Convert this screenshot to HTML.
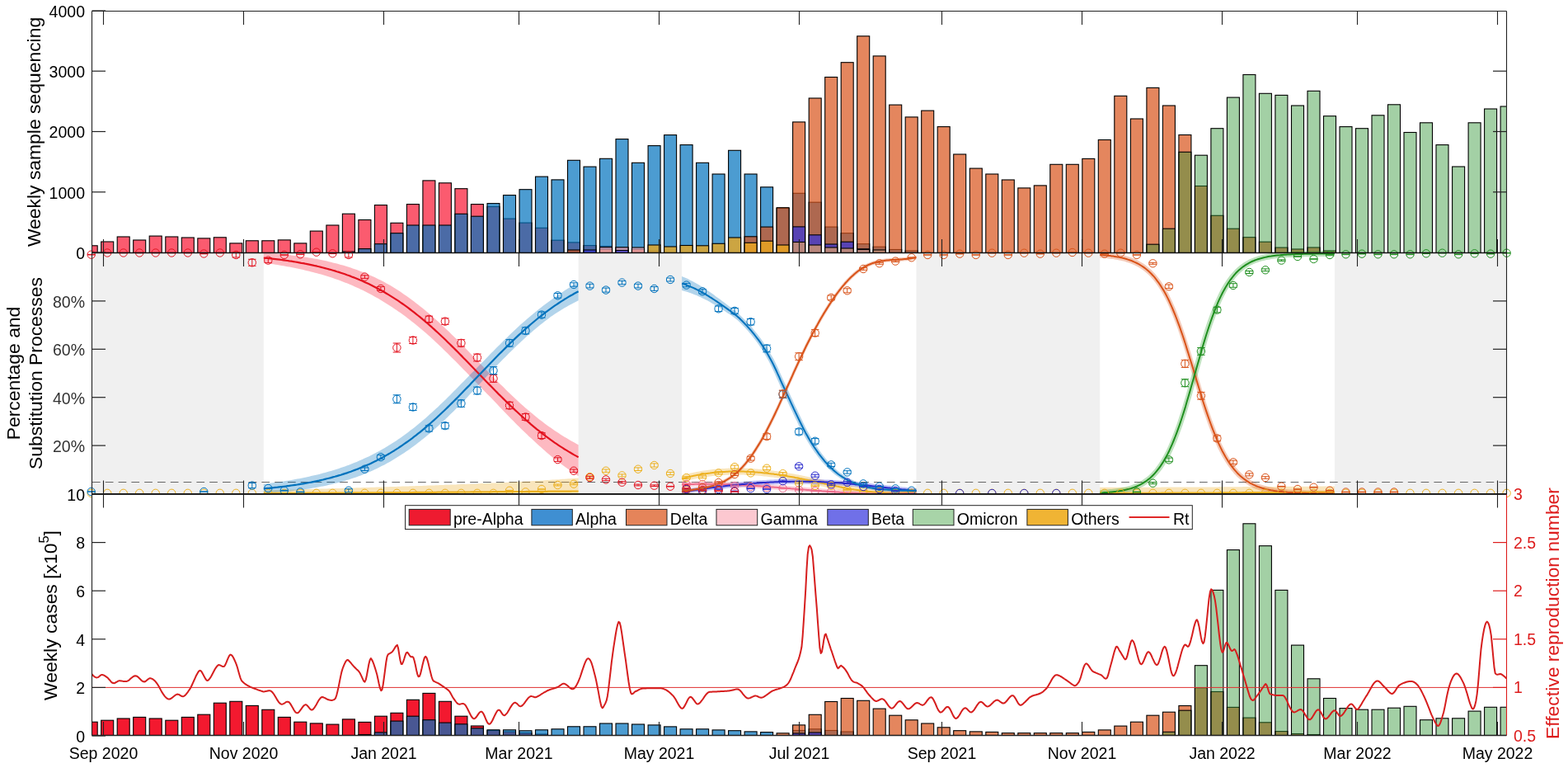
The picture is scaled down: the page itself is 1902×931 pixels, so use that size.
<!DOCTYPE html>
<html><head><meta charset="utf-8"><title>Variants</title><style>html,body{margin:0;padding:0;background:#fff;overflow:hidden}svg{display:block}</style></head><body><svg width="1902" height="931" viewBox="0 0 1902 931"><defs><clipPath id="ct"><rect x="111.5" y="13.5" width="1716" height="293"/></clipPath><clipPath id="cb"><rect x="111.5" y="599" width="1716" height="292.5"/></clipPath><clipPath id="cm"><rect x="111.5" y="306.5" width="1716" height="292"/></clipPath></defs><rect width="1902" height="931" fill="#fff"/><g clip-path="url(#ct)"><g fill="rgb(250,22,50)" fill-opacity="0.7" stroke="#000" stroke-width="1.1"><rect x="103.2" y="297.8" width="15" height="8.7"/><rect x="122.7" y="293" width="15" height="13.5"/><rect x="142.2" y="287" width="15" height="19.5"/><rect x="161.7" y="291" width="15" height="15.5"/><rect x="181.2" y="286.1" width="15" height="20.4"/><rect x="200.8" y="287" width="15" height="19.5"/><rect x="220.3" y="288" width="15" height="18.5"/><rect x="239.8" y="288.9" width="15" height="17.6"/><rect x="259.3" y="287.8" width="15" height="18.7"/><rect x="278.8" y="294.9" width="15" height="11.6"/><rect x="298.3" y="291.8" width="15" height="14.7"/><rect x="317.8" y="291.8" width="15" height="14.7"/><rect x="337.3" y="290.9" width="15" height="15.6"/><rect x="356.8" y="294.9" width="15" height="11.6"/><rect x="376.3" y="280.1" width="15" height="26.4"/><rect x="395.9" y="273" width="15" height="33.5"/><rect x="415.4" y="259.2" width="15" height="47.3"/><rect x="434.9" y="266.5" width="15" height="40"/><rect x="454.4" y="248.6" width="15" height="57.9"/><rect x="473.9" y="270.3" width="15" height="36.2"/><rect x="493.4" y="247.6" width="15" height="58.9"/><rect x="512.9" y="218.9" width="15" height="87.6"/><rect x="532.4" y="221.8" width="15" height="84.7"/><rect x="551.9" y="228.7" width="15" height="77.8"/><rect x="571.4" y="247.6" width="15" height="58.9"/><rect x="591" y="250.5" width="15" height="56"/><rect x="610.5" y="265.1" width="15" height="41.4"/><rect x="630" y="270.1" width="15" height="36.4"/><rect x="649.5" y="276.3" width="15" height="30.2"/><rect x="669" y="291.2" width="15" height="15.3"/><rect x="688.5" y="293.9" width="15" height="12.6"/><rect x="708" y="297.6" width="15" height="8.9"/><rect x="727.5" y="298.5" width="15" height="8"/><rect x="747" y="300" width="15" height="6.5"/><rect x="766.5" y="302" width="15" height="4.5"/><rect x="786.1" y="304" width="15" height="2.5"/></g><g fill="rgb(0,114,189)" fill-opacity="0.7" stroke="#000" stroke-width="1.1"><rect x="415.4" y="305" width="15" height="1.5"/><rect x="434.9" y="301.6" width="15" height="4.9"/><rect x="454.4" y="295.7" width="15" height="10.8"/><rect x="473.9" y="282.7" width="15" height="23.8"/><rect x="493.4" y="273" width="15" height="33.5"/><rect x="512.9" y="273" width="15" height="33.5"/><rect x="532.4" y="273" width="15" height="33.5"/><rect x="551.9" y="259.3" width="15" height="47.2"/><rect x="571.4" y="262.2" width="15" height="44.3"/><rect x="591" y="246.6" width="15" height="59.9"/><rect x="610.5" y="236.6" width="15" height="69.9"/><rect x="630" y="229.7" width="15" height="76.8"/><rect x="649.5" y="214.1" width="15" height="92.4"/><rect x="669" y="217.9" width="15" height="88.6"/><rect x="688.5" y="194.3" width="15" height="112.2"/><rect x="708" y="202.1" width="15" height="104.4"/><rect x="727.5" y="192.3" width="15" height="114.2"/><rect x="747" y="168.6" width="15" height="137.9"/><rect x="766.5" y="197.3" width="15" height="109.2"/><rect x="786.1" y="176.6" width="15" height="129.9"/><rect x="805.6" y="163.6" width="15" height="142.9"/><rect x="825.1" y="175.6" width="15" height="130.9"/><rect x="844.6" y="197.3" width="15" height="109.2"/><rect x="864.1" y="211" width="15" height="95.5"/><rect x="883.6" y="182.3" width="15" height="124.2"/><rect x="903.1" y="211" width="15" height="95.5"/><rect x="922.6" y="226.8" width="15" height="79.7"/><rect x="942.1" y="252.5" width="15" height="54"/><rect x="961.6" y="234.3" width="15" height="72.2"/><rect x="981.2" y="245.2" width="15" height="61.3"/><rect x="1000.7" y="275.1" width="15" height="31.4"/><rect x="1020.2" y="282.7" width="15" height="23.8"/><rect x="1039.7" y="295.7" width="15" height="10.8"/><rect x="1059.2" y="299.2" width="15" height="7.3"/><rect x="1078.7" y="302.5" width="15" height="4"/><rect x="1098.2" y="304" width="15" height="2.5"/></g><g fill="rgb(217,83,25)" fill-opacity="0.7" stroke="#000" stroke-width="1.1"><rect x="688.5" y="303" width="15" height="3.5"/><rect x="727.5" y="302.5" width="15" height="4"/><rect x="766.5" y="302.5" width="15" height="4"/><rect x="903.1" y="286.8" width="15" height="19.7"/><rect x="922.6" y="275.1" width="15" height="31.4"/><rect x="942.1" y="251.7" width="15" height="54.8"/><rect x="961.6" y="147.9" width="15" height="158.6"/><rect x="981.2" y="119" width="15" height="187.5"/><rect x="1000.7" y="93.5" width="15" height="213"/><rect x="1020.2" y="75.7" width="15" height="230.8"/><rect x="1039.7" y="43.8" width="15" height="262.7"/><rect x="1059.2" y="67.9" width="15" height="238.6"/><rect x="1078.7" y="127.1" width="15" height="179.4"/><rect x="1098.2" y="141.9" width="15" height="164.6"/><rect x="1117.7" y="134.1" width="15" height="172.4"/><rect x="1137.2" y="153.6" width="15" height="152.9"/><rect x="1156.7" y="187" width="15" height="119.5"/><rect x="1176.3" y="204.1" width="15" height="102.4"/><rect x="1195.8" y="211" width="15" height="95.5"/><rect x="1215.3" y="218" width="15" height="88.5"/><rect x="1234.8" y="227.9" width="15" height="78.6"/><rect x="1254.3" y="224.9" width="15" height="81.6"/><rect x="1273.8" y="199.3" width="15" height="107.2"/><rect x="1293.3" y="199.3" width="15" height="107.2"/><rect x="1312.8" y="192.4" width="15" height="114.1"/><rect x="1332.3" y="169.5" width="15" height="137"/><rect x="1351.8" y="116.3" width="15" height="190.2"/><rect x="1371.4" y="144" width="15" height="162.5"/><rect x="1390.9" y="106.4" width="15" height="200.1"/><rect x="1410.4" y="128" width="15" height="178.5"/><rect x="1429.9" y="163.5" width="15" height="143"/><rect x="1449.4" y="225.5" width="15" height="81"/><rect x="1468.9" y="261.3" width="15" height="45.2"/><rect x="1488.4" y="277.2" width="15" height="29.3"/><rect x="1507.9" y="287.7" width="15" height="18.8"/><rect x="1527.4" y="293.2" width="15" height="13.3"/><rect x="1546.9" y="300.1" width="15" height="6.4"/><rect x="1566.5" y="302" width="15" height="4.5"/><rect x="1586" y="300" width="15" height="6.5"/><rect x="1605.5" y="304" width="15" height="2.5"/></g><g fill="rgb(251,177,188)" fill-opacity="0.7" stroke="#000" stroke-width="1.1"><rect x="727.5" y="299.8" width="15" height="6.7"/><rect x="747" y="299.8" width="15" height="6.7"/><rect x="766.5" y="300" width="15" height="6.5"/></g><g fill="rgb(51,51,222)" fill-opacity="0.7" stroke="#000" stroke-width="1.1"><rect x="708" y="303" width="15" height="3.5"/><rect x="747" y="303.5" width="15" height="3"/><rect x="961.6" y="274.9" width="15" height="31.6"/><rect x="981.2" y="284.8" width="15" height="21.7"/><rect x="1000.7" y="296" width="15" height="10.5"/><rect x="1020.2" y="293.2" width="15" height="13.3"/><rect x="1039.7" y="301.8" width="15" height="4.7"/></g><g fill="rgb(50,150,55)" fill-opacity="0.45" stroke="#000" stroke-width="1.1"><rect x="1390.9" y="296.2" width="15" height="10.3"/><rect x="1410.4" y="277.2" width="15" height="29.3"/><rect x="1429.9" y="184.3" width="15" height="122.2"/><rect x="1449.4" y="188.2" width="15" height="118.3"/><rect x="1468.9" y="155.7" width="15" height="150.8"/><rect x="1488.4" y="118.1" width="15" height="188.4"/><rect x="1507.9" y="90.5" width="15" height="216"/><rect x="1527.4" y="113.3" width="15" height="193.2"/><rect x="1546.9" y="115.4" width="15" height="191.1"/><rect x="1566.5" y="128" width="15" height="178.5"/><rect x="1586" y="110.3" width="15" height="196.2"/><rect x="1605.5" y="140.7" width="15" height="165.8"/><rect x="1625" y="153.6" width="15" height="152.9"/><rect x="1644.5" y="155.7" width="15" height="150.8"/><rect x="1664" y="139.8" width="15" height="166.7"/><rect x="1683.5" y="126.8" width="15" height="179.7"/><rect x="1703" y="160.5" width="15" height="146"/><rect x="1722.5" y="148.8" width="15" height="157.7"/><rect x="1742" y="175.6" width="15" height="130.9"/><rect x="1761.6" y="202" width="15" height="104.5"/><rect x="1781.1" y="148.8" width="15" height="157.7"/><rect x="1800.6" y="132" width="15" height="174.5"/><rect x="1820.1" y="129" width="15" height="177.5"/></g><g fill="rgb(236,168,30)" fill-opacity="0.8" stroke="#000" stroke-width="1.1"><rect x="786.1" y="297" width="15" height="9.5"/><rect x="805.6" y="299" width="15" height="7.5"/><rect x="825.1" y="297.5" width="15" height="9"/><rect x="844.6" y="297.8" width="15" height="8.7"/><rect x="864.1" y="295.3" width="15" height="11.2"/><rect x="883.6" y="288" width="15" height="18.5"/><rect x="903.1" y="294.3" width="15" height="12.2"/><rect x="922.6" y="292.2" width="15" height="14.3"/><rect x="942.1" y="297" width="15" height="9.5"/></g><g fill="rgb(196,142,118)" fill-opacity="0.9" stroke="#000" stroke-width="1.1"><rect x="961.6" y="293.5" width="15" height="13"/><rect x="981.2" y="297" width="15" height="9.5"/><rect x="1000.7" y="300" width="15" height="6.5"/><rect x="1020.2" y="301" width="15" height="5.5"/><rect x="1039.7" y="302.5" width="15" height="4"/><rect x="1059.2" y="303" width="15" height="3.5"/></g></g><rect x="111.5" y="306.5" width="208.3" height="292" fill="#f0f0f0"/><rect x="701.6" y="306.5" width="125.5" height="292" fill="#f0f0f0"/><rect x="1111.5" y="306.5" width="222.7" height="292" fill="#f0f0f0"/><rect x="1618.9" y="306.5" width="208.6" height="292" fill="#f0f0f0"/><line x1="112" y1="584.5" x2="1827.5" y2="584.5" stroke="#666" stroke-width="1" stroke-dasharray="9.7 6.1"/><path d="M319.8 594.5 L322.2 594.4 L324.6 594.4 L327 594.3 L329.4 594.2 L331.8 594.2 L334.2 594.1 L336.6 594.1 L339 594 L341.4 593.9 L343.8 593.9 L346.2 593.8 L348.6 593.7 L351 593.7 L353.4 593.6 L355.8 593.5 L358.2 593.5 L360.6 593.4 L363 593.3 L365.4 593.3 L367.8 593.2 L370.2 593.1 L372.6 593.1 L375 593 L377.4 592.9 L379.8 592.9 L382.2 592.8 L384.6 592.7 L387 592.7 L389.4 592.6 L391.8 592.5 L394.2 592.5 L396.6 592.4 L399 592.3 L401.4 592.3 L403.8 592.2 L406.2 592.1 L408.6 592.1 L411 592 L413.4 591.9 L415.9 591.8 L418.3 591.8 L420.7 591.7 L423.1 591.6 L425.5 591.6 L427.9 591.5 L430.3 591.4 L432.7 591.3 L435.1 591.3 L437.5 591.2 L439.9 591.1 L442.3 591.1 L444.7 591 L447.1 590.9 L449.5 590.8 L451.9 590.8 L454.3 590.7 L456.7 590.6 L459.1 590.5 L461.5 590.5 L463.9 590.4 L466.3 590.3 L468.7 590.2 L471.1 590.2 L473.5 590.1 L475.9 590 L478.3 589.9 L480.7 589.9 L483.1 589.8 L485.5 589.7 L487.9 589.6 L490.3 589.6 L492.7 589.5 L495.1 589.4 L497.5 589.3 L499.9 589.2 L502.3 589.2 L504.7 589.1 L507.1 589 L509.5 588.9 L511.9 588.9 L514.3 588.8 L516.7 588.7 L519.1 588.6 L521.5 588.5 L523.9 588.4 L526.3 588.4 L528.7 588.3 L531.1 588.2 L533.5 588.1 L535.9 588 L538.3 587.9 L540.7 587.8 L543.1 587.8 L545.5 587.7 L547.9 587.6 L550.3 587.5 L552.7 587.4 L555.1 587.3 L557.5 587.2 L559.9 587.1 L562.3 587 L564.7 586.9 L567.1 586.8 L569.5 586.7 L571.9 586.6 L574.3 586.5 L576.7 586.4 L579.1 586.3 L581.5 586.2 L583.9 586.1 L586.3 586 L588.7 585.9 L591.1 585.8 L593.5 585.7 L595.9 585.6 L598.3 585.5 L600.7 585.4 L603.1 585.3 L605.5 585.2 L608 585.1 L610.4 585 L612.8 584.9 L615.2 584.7 L617.6 584.6 L620 584.5 L622.4 584.4 L624.8 584.3 L627.2 584.1 L629.6 584 L632 583.9 L634.4 583.8 L636.8 583.6 L639.2 583.5 L641.6 583.4 L644 583.2 L646.4 583.1 L648.8 583 L651.2 582.8 L653.6 582.7 L656 582.5 L658.4 582.4 L660.8 582.2 L663.2 582.1 L665.6 581.9 L668 581.8 L670.4 581.6 L672.8 581.5 L675.2 581.3 L677.6 581.2 L680 581 L682.4 580.8 L684.8 580.7 L687.2 580.5 L689.6 580.3 L692 580.2 L694.4 580 L696.8 579.8 L699.2 579.7 L701.6 579.5 L701.6 611.5 L699.2 611.4 L696.8 611.2 L694.4 611.1 L692 610.9 L689.6 610.8 L687.2 610.7 L684.8 610.5 L682.4 610.4 L680 610.3 L677.6 610.2 L675.2 610 L672.8 609.9 L670.4 609.8 L668 609.7 L665.6 609.6 L663.2 609.4 L660.8 609.3 L658.4 609.2 L656 609.1 L653.6 609 L651.2 608.9 L648.8 608.8 L646.4 608.7 L644 608.6 L641.6 608.5 L639.2 608.4 L636.8 608.3 L634.4 608.2 L632 608.1 L629.6 608 L627.2 607.9 L624.8 607.8 L622.4 607.7 L620 607.6 L617.6 607.6 L615.2 607.5 L612.8 607.4 L610.4 607.3 L608 607.2 L605.5 607.2 L603.1 607.1 L600.7 607 L598.3 607 L595.9 606.9 L593.5 606.8 L591.1 606.7 L588.7 606.7 L586.3 606.6 L583.9 606.5 L581.5 606.5 L579.1 606.4 L576.7 606.4 L574.3 606.3 L571.9 606.2 L569.5 606.2 L567.1 606.1 L564.7 606.1 L562.3 606 L559.9 605.9 L557.5 605.9 L555.1 605.8 L552.7 605.8 L550.3 605.7 L547.9 605.7 L545.5 605.6 L543.1 605.5 L540.7 605.5 L538.3 605.4 L535.9 605.4 L533.5 605.3 L531.1 605.3 L528.7 605.2 L526.3 605.2 L523.9 605.1 L521.5 605.1 L519.1 605 L516.7 605 L514.3 605 L511.9 604.9 L509.5 604.9 L507.1 604.8 L504.7 604.8 L502.3 604.7 L499.9 604.7 L497.5 604.6 L495.1 604.6 L492.7 604.6 L490.3 604.5 L487.9 604.5 L485.5 604.4 L483.1 604.4 L480.7 604.3 L478.3 604.3 L475.9 604.3 L473.5 604.2 L471.1 604.2 L468.7 604.1 L466.3 604.1 L463.9 604 L461.5 604 L459.1 603.9 L456.7 603.9 L454.3 603.9 L451.9 603.8 L449.5 603.8 L447.1 603.7 L444.7 603.7 L442.3 603.6 L439.9 603.6 L437.5 603.5 L435.1 603.5 L432.7 603.5 L430.3 603.4 L427.9 603.4 L425.5 603.3 L423.1 603.3 L420.7 603.2 L418.3 603.2 L415.9 603.2 L413.4 603.1 L411 603.1 L408.6 603 L406.2 603 L403.8 603 L401.4 602.9 L399 602.9 L396.6 602.8 L394.2 602.8 L391.8 602.7 L389.4 602.7 L387 602.7 L384.6 602.6 L382.2 602.6 L379.8 602.5 L377.4 602.5 L375 602.5 L372.6 602.4 L370.2 602.4 L367.8 602.3 L365.4 602.3 L363 602.2 L360.6 602.2 L358.2 602.2 L355.8 602.1 L353.4 602.1 L351 602 L348.6 602 L346.2 602 L343.8 601.9 L341.4 601.9 L339 601.8 L336.6 601.8 L334.2 601.7 L331.8 601.7 L329.4 601.7 L327 601.6 L324.6 601.6 L322.2 601.5 L319.8 601.5 Z" fill="rgb(236,168,30)" fill-opacity="0.3" stroke="none"/><path d="M319.8 306.5 L322.2 306.7 L324.6 306.8 L327 307 L329.4 307.2 L331.8 307.3 L334.2 307.5 L336.6 307.7 L339 307.9 L341.4 308.2 L343.8 308.4 L346.2 308.6 L348.6 308.9 L351 309.1 L353.4 309.4 L355.8 309.7 L358.2 310 L360.6 310.3 L363 310.6 L365.4 310.9 L367.8 311.3 L370.2 311.7 L372.6 312 L375 312.4 L377.4 312.8 L379.8 313.2 L382.2 313.7 L384.6 314.1 L387 314.6 L389.4 315.1 L391.8 315.6 L394.2 316.1 L396.6 316.6 L399 317.2 L401.4 317.8 L403.8 318.4 L406.2 319 L408.6 319.6 L411 320.2 L413.4 320.9 L415.9 321.6 L418.3 322.3 L420.7 323 L423.1 323.8 L425.5 324.6 L427.9 325.4 L430.3 326.2 L432.7 327.1 L435.1 328 L437.5 328.9 L439.9 329.8 L442.3 330.8 L444.7 331.8 L447.1 332.8 L449.5 333.9 L451.9 334.9 L454.3 336.1 L456.7 337.2 L459.1 338.4 L461.5 339.6 L463.9 340.8 L466.3 342.1 L468.7 343.4 L471.1 344.7 L473.5 346 L475.9 347.5 L478.3 349 L480.7 350.5 L483.1 352 L485.5 353.6 L487.9 355.2 L490.3 356.9 L492.7 358.5 L495.1 360.2 L497.5 362 L499.9 363.8 L502.3 365.6 L504.7 367.4 L507.1 369.3 L509.5 371.2 L511.9 373.1 L514.3 375.1 L516.7 377.1 L519.1 379.1 L521.5 381.1 L523.9 383.2 L526.3 385.3 L528.7 387.4 L531.1 389.6 L533.5 391.8 L535.9 394 L538.3 396.2 L540.7 398.5 L543.1 400.7 L545.5 403 L547.9 405.4 L550.3 407.7 L552.7 410.1 L555.1 412.6 L557.5 415 L559.9 417.4 L562.3 419.9 L564.7 422.3 L567.1 424.8 L569.5 427.3 L571.9 429.8 L574.3 432.2 L576.7 434.7 L579.1 437.2 L581.5 439.7 L583.9 442.2 L586.3 444.7 L588.7 447.2 L591.1 449.7 L593.5 452.1 L595.9 454.6 L598.3 457.1 L600.7 459.5 L603.1 461.9 L605.5 464.4 L608 466.8 L610.4 469.1 L612.8 471.5 L615.2 473.9 L617.6 476.2 L620 478.5 L622.4 480.8 L624.8 483.1 L627.2 485.3 L629.6 487.5 L632 489.7 L634.4 491.8 L636.8 493.9 L639.2 496 L641.6 498.1 L644 500.1 L646.4 502.1 L648.8 504.1 L651.2 506 L653.6 507.9 L656 509.8 L658.4 511.6 L660.8 513.4 L663.2 515.2 L665.6 516.9 L668 518.6 L670.4 520.3 L672.8 522 L675.2 523.6 L677.6 525.1 L680 526.7 L682.4 528.2 L684.8 529.7 L687.2 531.1 L689.6 532.6 L692 533.9 L694.4 535.3 L696.8 536.6 L699.2 537.9 L701.6 539.2 L701.6 577.2 L699.2 575.6 L696.8 574 L694.4 572.4 L692 570.7 L689.6 569.1 L687.2 567.3 L684.8 565.6 L682.4 563.8 L680 562 L677.6 560.1 L675.2 558.3 L672.8 556.4 L670.4 554.4 L668 552.4 L665.6 550.4 L663.2 548.4 L660.8 546.3 L658.4 544.2 L656 542.1 L653.6 539.9 L651.2 537.7 L648.8 535.5 L646.4 533.3 L644 531.1 L641.6 528.9 L639.2 526.6 L636.8 524.3 L634.4 522 L632 519.7 L629.6 517.3 L627.2 514.9 L624.8 512.6 L622.4 510.1 L620 507.7 L617.6 505.3 L615.2 502.8 L612.8 500.3 L610.4 497.8 L608 495.2 L605.5 492.7 L603.1 490.1 L600.7 487.5 L598.3 485.1 L595.9 482.6 L593.5 480.1 L591.1 477.7 L588.7 475.2 L586.3 472.7 L583.9 470.2 L581.5 467.7 L579.1 465.2 L576.7 462.7 L574.3 460.2 L571.9 457.8 L569.5 455.3 L567.1 452.8 L564.7 450.3 L562.3 447.9 L559.9 445.4 L557.5 443 L555.1 440.6 L552.7 438.1 L550.3 435.7 L547.9 433.4 L545.5 431 L543.1 428.6 L540.7 426.2 L538.3 423.9 L535.9 421.6 L533.5 419.3 L531.1 417 L528.7 414.7 L526.3 412.5 L523.9 410.3 L521.5 408.1 L519.1 406 L516.7 403.8 L514.3 401.8 L511.9 399.7 L509.5 397.7 L507.1 395.7 L504.7 393.7 L502.3 391.8 L499.9 389.9 L497.5 388 L495.1 386.2 L492.7 384.3 L490.3 382.6 L487.9 380.8 L485.5 379.1 L483.1 377.4 L480.7 375.8 L478.3 374.2 L475.9 372.6 L473.5 371.1 L471.1 369.5 L468.7 368 L466.3 366.4 L463.9 365 L461.5 363.5 L459.1 362.1 L456.7 360.7 L454.3 359.4 L451.9 358 L449.5 356.7 L447.1 355.5 L444.7 354.2 L442.3 353 L439.9 351.8 L437.5 350.7 L435.1 349.5 L432.7 348.4 L430.3 347.4 L427.9 346.3 L425.5 345.3 L423.1 344.3 L420.7 343.3 L418.3 342.4 L415.9 341.4 L413.4 340.5 L411 339.6 L408.6 338.8 L406.2 337.9 L403.8 337.1 L401.4 336.3 L399 335.5 L396.6 334.8 L394.2 334 L391.8 333.3 L389.4 332.6 L387 332 L384.6 331.3 L382.2 330.7 L379.8 330 L377.4 329.4 L375 328.8 L372.6 328.2 L370.2 327.7 L367.8 327.1 L365.4 326.6 L363 326.1 L360.6 325.5 L358.2 325 L355.8 324.6 L353.4 324.1 L351 323.6 L348.6 323.2 L346.2 322.7 L343.8 322.3 L341.4 321.9 L339 321.5 L336.6 321.1 L334.2 320.7 L331.8 320.3 L329.4 319.9 L327 319.6 L324.6 319.2 L322.2 318.9 L319.8 318.5 Z" fill="rgb(250,22,50)" fill-opacity="0.3" stroke="none"/><path d="M319.8 586.8 L322.2 586.5 L324.6 586.2 L327 585.9 L329.4 585.6 L331.8 585.3 L334.2 584.9 L336.6 584.6 L339 584.2 L341.4 583.9 L343.8 583.5 L346.2 583.1 L348.6 582.7 L351 582.3 L353.4 581.9 L355.8 581.5 L358.2 581.1 L360.6 580.6 L363 580.2 L365.4 579.7 L367.8 579.2 L370.2 578.7 L372.6 578.2 L375 577.7 L377.4 577.1 L379.8 576.6 L382.2 576 L384.6 575.4 L387 574.9 L389.4 574.2 L391.8 573.6 L394.2 573 L396.6 572.3 L399 571.6 L401.4 570.9 L403.8 570.2 L406.2 569.5 L408.6 568.7 L411 567.9 L413.4 567.1 L415.9 566.3 L418.3 565.4 L420.7 564.6 L423.1 563.7 L425.5 562.8 L427.9 561.8 L430.3 560.8 L432.7 559.9 L435.1 558.8 L437.5 557.8 L439.9 556.7 L442.3 555.6 L444.7 554.5 L447.1 553.4 L449.5 552.2 L451.9 551 L454.3 549.8 L456.7 548.5 L459.1 547.2 L461.5 545.9 L463.9 544.5 L466.3 543.2 L468.7 541.7 L471.1 540.3 L473.5 538.8 L475.9 537.3 L478.3 535.7 L480.7 534.2 L483.1 532.5 L485.5 530.9 L487.9 529.2 L490.3 527.5 L492.7 525.7 L495.1 524 L497.5 522.1 L499.9 520.3 L502.3 518.4 L504.7 516.5 L507.1 514.5 L509.5 512.5 L511.9 510.5 L514.3 508.5 L516.7 506.4 L519.1 504.3 L521.5 502.1 L523.9 500 L526.3 497.8 L528.7 495.6 L531.1 493.4 L533.5 491.1 L535.9 488.8 L538.3 486.5 L540.7 484.2 L543.1 481.8 L545.5 479.5 L547.9 477.1 L550.3 474.6 L552.7 472.2 L555.1 469.8 L557.5 467.3 L559.9 464.8 L562.3 462.4 L564.7 460 L567.1 457.5 L569.5 455.1 L571.9 452.6 L574.3 450.2 L576.7 447.7 L579.1 445.3 L581.5 442.8 L583.9 440.3 L586.3 437.9 L588.7 435.4 L591.1 433 L593.5 430.5 L595.9 428.1 L598.3 425.7 L600.7 423.3 L603.1 420.8 L605.5 418.4 L608 416 L610.4 413.6 L612.8 411.3 L615.2 408.9 L617.6 406.6 L620 404.3 L622.4 402 L624.8 399.8 L627.2 397.5 L629.6 395.3 L632 393.1 L634.4 391 L636.8 388.9 L639.2 386.8 L641.6 384.7 L644 382.7 L646.4 380.7 L648.8 378.7 L651.2 376.7 L653.6 374.8 L656 373 L658.4 371.1 L660.8 369.3 L663.2 367.5 L665.6 365.8 L668 364.1 L670.4 362.3 L672.8 360.6 L675.2 358.9 L677.6 357.2 L680 355.5 L682.4 353.9 L684.8 352.3 L687.2 350.8 L689.6 349.3 L692 347.8 L694.4 346.4 L696.8 345 L699.2 343.6 L701.6 342.2 L701.6 364.2 L699.2 365.4 L696.8 366.7 L694.4 367.9 L692 369.2 L689.6 370.6 L687.2 371.9 L684.8 373.3 L682.4 374.8 L680 376.2 L677.6 377.7 L675.2 379.3 L672.8 380.8 L670.4 382.5 L668 384.1 L665.6 385.9 L663.2 387.7 L660.8 389.5 L658.4 391.4 L656 393.3 L653.6 395.3 L651.2 397.2 L648.8 399.2 L646.4 401.3 L644 403.4 L641.6 405.5 L639.2 407.6 L636.8 409.8 L634.4 412 L632 414.2 L629.6 416.4 L627.2 418.7 L624.8 421 L622.4 423.4 L620 425.7 L617.6 428.1 L615.2 430.5 L612.8 432.9 L610.4 435.3 L608 437.8 L605.5 440.2 L603.1 442.7 L600.7 445.2 L598.3 447.8 L595.9 450.3 L593.5 452.9 L591.1 455.4 L588.7 458 L586.3 460.6 L583.9 463.2 L581.5 465.7 L579.1 468.3 L576.7 470.9 L574.3 473.5 L571.9 476 L569.5 478.6 L567.1 481.2 L564.7 483.7 L562.3 486.3 L559.9 488.8 L557.5 491.2 L555.1 493.6 L552.7 496 L550.3 498.4 L547.9 500.8 L545.5 503.1 L543.1 505.4 L540.7 507.7 L538.3 510 L535.9 512.2 L533.5 514.5 L531.1 516.7 L528.7 518.8 L526.3 521 L523.9 523.1 L521.5 525.2 L519.1 527.2 L516.7 529.2 L514.3 531.2 L511.9 533.1 L509.5 535 L507.1 536.8 L504.7 538.7 L502.3 540.5 L499.9 542.2 L497.5 544 L495.1 545.7 L492.7 547.3 L490.3 548.9 L487.9 550.5 L485.5 552.1 L483.1 553.6 L480.7 555.1 L478.3 556.6 L475.9 558 L473.5 559.4 L471.1 560.7 L468.7 562.1 L466.3 563.4 L463.9 564.6 L461.5 565.8 L459.1 567 L456.7 568.2 L454.3 569.3 L451.9 570.5 L449.5 571.5 L447.1 572.6 L444.7 573.6 L442.3 574.6 L439.9 575.5 L437.5 576.4 L435.1 577.3 L432.7 578.2 L430.3 579 L427.9 579.8 L425.5 580.6 L423.1 581.4 L420.7 582.1 L418.3 582.9 L415.9 583.6 L413.4 584.2 L411 584.9 L408.6 585.5 L406.2 586.1 L403.8 586.7 L401.4 587.3 L399 587.8 L396.6 588.4 L394.2 588.9 L391.8 589.4 L389.4 589.8 L387 590.3 L384.6 590.7 L382.2 591.2 L379.8 591.6 L377.4 592 L375 592.4 L372.6 592.7 L370.2 593.1 L367.8 593.4 L365.4 593.7 L363 594 L360.6 594.3 L358.2 594.6 L355.8 594.9 L353.4 595.2 L351 595.4 L348.6 595.7 L346.2 595.9 L343.8 596.1 L341.4 596.3 L339 596.5 L336.6 596.7 L334.2 596.9 L331.8 597.1 L329.4 597.2 L327 597.4 L324.6 597.5 L322.2 597.7 L319.8 597.8 Z" fill="rgb(0,114,189)" fill-opacity="0.3" stroke="none"/><path d="M319.8 598 L322.2 598 L324.6 598 L327 598 L329.4 598 L331.8 597.9 L334.2 597.9 L336.6 597.9 L339 597.9 L341.4 597.9 L343.8 597.9 L346.2 597.9 L348.6 597.9 L351 597.9 L353.4 597.8 L355.8 597.8 L358.2 597.8 L360.6 597.8 L363 597.8 L365.4 597.8 L367.8 597.8 L370.2 597.8 L372.6 597.7 L375 597.7 L377.4 597.7 L379.8 597.7 L382.2 597.7 L384.6 597.7 L387 597.7 L389.4 597.7 L391.8 597.6 L394.2 597.6 L396.6 597.6 L399 597.6 L401.4 597.6 L403.8 597.6 L406.2 597.6 L408.6 597.5 L411 597.5 L413.4 597.5 L415.9 597.5 L418.3 597.5 L420.7 597.5 L423.1 597.5 L425.5 597.4 L427.9 597.4 L430.3 597.4 L432.7 597.4 L435.1 597.4 L437.5 597.4 L439.9 597.4 L442.3 597.3 L444.7 597.3 L447.1 597.3 L449.5 597.3 L451.9 597.3 L454.3 597.3 L456.7 597.3 L459.1 597.2 L461.5 597.2 L463.9 597.2 L466.3 597.2 L468.7 597.2 L471.1 597.2 L473.5 597.1 L475.9 597.1 L478.3 597.1 L480.7 597.1 L483.1 597.1 L485.5 597.1 L487.9 597 L490.3 597 L492.7 597 L495.1 597 L497.5 597 L499.9 597 L502.3 596.9 L504.7 596.9 L507.1 596.9 L509.5 596.9 L511.9 596.9 L514.3 596.9 L516.7 596.8 L519.1 596.8 L521.5 596.8 L523.9 596.8 L526.3 596.8 L528.7 596.8 L531.1 596.7 L533.5 596.7 L535.9 596.7 L538.3 596.7 L540.7 596.7 L543.1 596.7 L545.5 596.6 L547.9 596.6 L550.3 596.6 L552.7 596.6 L555.1 596.6 L557.5 596.5 L559.9 596.5 L562.3 596.5 L564.7 596.5 L567.1 596.5 L569.5 596.5 L571.9 596.4 L574.3 596.4 L576.7 596.4 L579.1 596.4 L581.5 596.4 L583.9 596.3 L586.3 596.3 L588.7 596.3 L591.1 596.3 L593.5 596.3 L595.9 596.3 L598.3 596.2 L600.7 596.2 L603.1 596.2 L605.5 596.2 L608 596.2 L610.4 596.1 L612.8 596.1 L615.2 596.1 L617.6 596.1 L620 596.1 L622.4 596.1 L624.8 596 L627.2 596 L629.6 596 L632 596 L634.4 596 L636.8 596 L639.2 595.9 L641.6 595.9 L644 595.9 L646.4 595.9 L648.8 595.9 L651.2 595.8 L653.6 595.8 L656 595.8 L658.4 595.8 L660.8 595.8 L663.2 595.8 L665.6 595.7 L668 595.7 L670.4 595.7 L672.8 595.7 L675.2 595.7 L677.6 595.7 L680 595.6 L682.4 595.6 L684.8 595.6 L687.2 595.6 L689.6 595.6 L692 595.6 L694.4 595.5 L696.8 595.5 L699.2 595.5 L701.6 595.5" fill="none" stroke="#edb120" stroke-width="2.2" stroke-linejoin="round"/><path d="M319.8 312.5 L322.2 312.8 L324.6 313 L327 313.3 L329.4 313.5 L331.8 313.8 L334.2 314.1 L336.6 314.4 L339 314.7 L341.4 315 L343.8 315.3 L346.2 315.7 L348.6 316 L351 316.4 L353.4 316.7 L355.8 317.1 L358.2 317.5 L360.6 317.9 L363 318.3 L365.4 318.8 L367.8 319.2 L370.2 319.7 L372.6 320.1 L375 320.6 L377.4 321.1 L379.8 321.6 L382.2 322.2 L384.6 322.7 L387 323.3 L389.4 323.9 L391.8 324.5 L394.2 325.1 L396.6 325.7 L399 326.4 L401.4 327 L403.8 327.7 L406.2 328.4 L408.6 329.2 L411 329.9 L413.4 330.7 L415.9 331.5 L418.3 332.3 L420.7 333.2 L423.1 334 L425.5 334.9 L427.9 335.9 L430.3 336.8 L432.7 337.8 L435.1 338.8 L437.5 339.8 L439.9 340.8 L442.3 341.9 L444.7 343 L447.1 344.1 L449.5 345.3 L451.9 346.5 L454.3 347.7 L456.7 349 L459.1 350.2 L461.5 351.5 L463.9 352.9 L466.3 354.3 L468.7 355.7 L471.1 357.1 L473.5 358.6 L475.9 360.1 L478.3 361.6 L480.7 363.1 L483.1 364.7 L485.5 366.4 L487.9 368 L490.3 369.7 L492.7 371.4 L495.1 373.2 L497.5 375 L499.9 376.8 L502.3 378.7 L504.7 380.6 L507.1 382.5 L509.5 384.4 L511.9 386.4 L514.3 388.4 L516.7 390.5 L519.1 392.5 L521.5 394.6 L523.9 396.7 L526.3 398.9 L528.7 401.1 L531.1 403.3 L533.5 405.5 L535.9 407.8 L538.3 410 L540.7 412.3 L543.1 414.7 L545.5 417 L547.9 419.4 L550.3 421.7 L552.7 424.1 L555.1 426.6 L557.5 429 L559.9 431.4 L562.3 433.9 L564.7 436.3 L567.1 438.8 L569.5 441.3 L571.9 443.8 L574.3 446.2 L576.7 448.7 L579.1 451.2 L581.5 453.7 L583.9 456.2 L586.3 458.7 L588.7 461.2 L591.1 463.7 L593.5 466.1 L595.9 468.6 L598.3 471.1 L600.7 473.5 L603.1 475.9 L605.5 478.4 L608 480.8 L610.4 483.1 L612.8 485.5 L615.2 487.9 L617.6 490.2 L620 492.5 L622.4 494.8 L624.8 497.1 L627.2 499.3 L629.6 501.5 L632 503.7 L634.4 505.9 L636.8 508 L639.2 510.2 L641.6 512.2 L644 514.3 L646.4 516.3 L648.8 518.3 L651.2 520.3 L653.6 522.2 L656 524.1 L658.4 526 L660.8 527.8 L663.2 529.6 L665.6 531.4 L668 533.2 L670.4 534.9 L672.8 536.6 L675.2 538.2 L677.6 539.8 L680 541.4 L682.4 542.9 L684.8 544.5 L687.2 545.9 L689.6 547.4 L692 548.8 L694.4 550.2 L696.8 551.6 L699.2 552.9 L701.6 554.2" fill="none" stroke="#e3121f" stroke-width="2.2" stroke-linejoin="round"/><path d="M319.8 592.3 L322.2 592.1 L324.6 591.9 L327 591.7 L329.4 591.4 L331.8 591.2 L334.2 590.9 L336.6 590.7 L339 590.4 L341.4 590.1 L343.8 589.8 L346.2 589.5 L348.6 589.2 L351 588.9 L353.4 588.5 L355.8 588.2 L358.2 587.8 L360.6 587.5 L363 587.1 L365.4 586.7 L367.8 586.3 L370.2 585.9 L372.6 585.5 L375 585 L377.4 584.6 L379.8 584.1 L382.2 583.6 L384.6 583.1 L387 582.6 L389.4 582 L391.8 581.5 L394.2 580.9 L396.6 580.3 L399 579.7 L401.4 579.1 L403.8 578.4 L406.2 577.8 L408.6 577.1 L411 576.4 L413.4 575.7 L415.9 574.9 L418.3 574.1 L420.7 573.4 L423.1 572.5 L425.5 571.7 L427.9 570.8 L430.3 569.9 L432.7 569 L435.1 568.1 L437.5 567.1 L439.9 566.1 L442.3 565.1 L444.7 564 L447.1 563 L449.5 561.9 L451.9 560.7 L454.3 559.6 L456.7 558.4 L459.1 557.1 L461.5 555.9 L463.9 554.6 L466.3 553.3 L468.7 551.9 L471.1 550.5 L473.5 549.1 L475.9 547.6 L478.3 546.2 L480.7 544.6 L483.1 543.1 L485.5 541.5 L487.9 539.9 L490.3 538.2 L492.7 536.5 L495.1 534.8 L497.5 533.1 L499.9 531.3 L502.3 529.4 L504.7 527.6 L507.1 525.7 L509.5 523.8 L511.9 521.8 L514.3 519.8 L516.7 517.8 L519.1 515.7 L521.5 513.7 L523.9 511.5 L526.3 509.4 L528.7 507.2 L531.1 505 L533.5 502.8 L535.9 500.5 L538.3 498.3 L540.7 496 L543.1 493.6 L545.5 491.3 L547.9 488.9 L550.3 486.5 L552.7 484.1 L555.1 481.7 L557.5 479.3 L559.9 476.8 L562.3 474.3 L564.7 471.8 L567.1 469.4 L569.5 466.9 L571.9 464.3 L574.3 461.8 L576.7 459.3 L579.1 456.8 L581.5 454.3 L583.9 451.8 L586.3 449.2 L588.7 446.7 L591.1 444.2 L593.5 441.7 L595.9 439.2 L598.3 436.7 L600.7 434.2 L603.1 431.8 L605.5 429.3 L608 426.9 L610.4 424.5 L612.8 422.1 L615.2 419.7 L617.6 417.3 L620 415 L622.4 412.7 L624.8 410.4 L627.2 408.1 L629.6 405.9 L632 403.7 L634.4 401.5 L636.8 399.3 L639.2 397.2 L641.6 395.1 L644 393 L646.4 391 L648.8 389 L651.2 387 L653.6 385 L656 383.1 L658.4 381.3 L660.8 379.4 L663.2 377.6 L665.6 375.8 L668 374.1 L670.4 372.4 L672.8 370.7 L675.2 369.1 L677.6 367.5 L680 365.9 L682.4 364.4 L684.8 362.8 L687.2 361.4 L689.6 359.9 L692 358.5 L694.4 357.2 L696.8 355.8 L699.2 354.5 L701.6 353.2" fill="none" stroke="#0072bd" stroke-width="2.2" stroke-linejoin="round"/><path d="M827.1 576.4 L828.9 575.9 L830.7 575.4 L832.5 575 L834.3 574.5 L836 574.1 L837.8 573.6 L839.6 573.2 L841.4 572.8 L843.2 572.4 L845 572.1 L846.8 571.7 L848.6 571.4 L850.4 571.1 L852.1 570.8 L853.9 570.5 L855.7 570.2 L857.5 569.9 L859.3 569.7 L861.1 569.5 L862.9 569.2 L864.7 569 L866.5 568.8 L868.2 568.7 L870 568.5 L871.8 568.3 L873.6 568.2 L875.4 568.1 L877.2 568 L879 567.9 L880.8 567.8 L882.5 567.7 L884.3 567.6 L886.1 567.6 L887.9 567.5 L889.7 567.5 L891.5 567.5 L893.3 567.5 L895.1 567.5 L896.9 567.5 L898.6 567.5 L900.4 567.6 L902.2 567.6 L904 567.7 L905.8 567.8 L907.6 567.8 L909.4 567.9 L911.2 568 L913 568.1 L914.7 568.3 L916.5 568.4 L918.3 568.5 L920.1 568.7 L921.9 568.8 L923.7 569 L925.5 569.2 L927.3 569.4 L929.1 569.5 L930.8 569.7 L932.6 570 L934.4 570.2 L936.2 570.4 L938 570.6 L939.8 570.9 L941.6 571.1 L943.4 571.4 L945.2 571.6 L946.9 571.9 L948.7 572.2 L950.5 572.5 L952.3 572.8 L954.1 573.1 L955.9 573.4 L957.7 573.7 L959.5 574 L961.3 574.3 L963 574.6 L964.8 575 L966.6 575.3 L968.4 575.6 L970.2 576 L972 576.3 L973.8 576.7 L975.6 577.1 L977.3 577.4 L979.1 577.8 L980.9 578.2 L982.7 578.6 L984.5 578.9 L986.3 579.3 L988.1 579.7 L989.9 580.1 L991.7 580.5 L993.4 580.9 L995.2 581.3 L997 581.6 L998.8 582 L1000.6 582.4 L1002.4 582.8 L1004.2 583.2 L1006 583.6 L1007.8 584 L1009.5 584.3 L1011.3 584.7 L1013.1 585.1 L1014.9 585.5 L1016.7 585.8 L1018.5 586.2 L1020.3 586.5 L1022.1 586.9 L1023.9 587.2 L1025.6 587.6 L1027.4 587.9 L1029.2 588.2 L1031 588.5 L1032.8 588.9 L1034.6 589.2 L1036.4 589.5 L1038.2 589.7 L1040 590 L1041.7 590.3 L1043.5 590.6 L1045.3 590.8 L1047.1 591.1 L1048.9 591.3 L1050.7 591.5 L1052.5 591.7 L1054.3 591.9 L1056.1 592.1 L1057.8 592.3 L1059.6 592.5 L1061.4 592.6 L1063.2 592.8 L1065 592.9 L1066.8 593 L1068.6 593.2 L1070.4 593.3 L1072.1 593.3 L1073.9 593.4 L1075.7 593.5 L1077.5 593.5 L1079.3 593.6 L1081.1 593.6 L1082.9 593.6 L1084.7 593.6 L1086.5 593.5 L1088.2 593.5 L1090 593.5 L1091.8 593.4 L1093.6 593.3 L1095.4 593.2 L1097.2 593.1 L1099 593 L1100.8 592.8 L1102.6 592.6 L1104.3 592.5 L1106.1 592.3 L1107.9 592.1 L1109.7 591.8 L1111.5 591.6 L1111.5 599.6 L1109.7 599.8 L1107.9 600.1 L1106.1 600.3 L1104.3 600.5 L1102.6 600.6 L1100.8 600.8 L1099 601 L1097.2 601.1 L1095.4 601.2 L1093.6 601.3 L1091.8 601.4 L1090 601.5 L1088.2 601.5 L1086.5 601.5 L1084.7 601.6 L1082.9 601.6 L1081.1 601.6 L1079.3 601.6 L1077.5 601.5 L1075.7 601.5 L1073.9 601.4 L1072.1 601.3 L1070.4 601.3 L1068.6 601.2 L1066.8 601 L1065 600.9 L1063.2 600.8 L1061.4 600.6 L1059.6 600.5 L1057.8 600.3 L1056.1 600.1 L1054.3 599.9 L1052.5 599.7 L1050.7 599.5 L1048.9 599.3 L1047.1 599.1 L1045.3 598.8 L1043.5 598.6 L1041.7 598.3 L1040 598 L1038.2 597.7 L1036.4 597.5 L1034.6 597.2 L1032.8 596.9 L1031 596.5 L1029.2 596.2 L1027.4 595.9 L1025.6 595.6 L1023.9 595.2 L1022.1 594.9 L1020.3 594.5 L1018.5 594.2 L1016.7 593.8 L1014.9 593.5 L1013.1 593.1 L1011.3 592.7 L1009.5 592.3 L1007.8 592 L1006 591.6 L1004.2 591.2 L1002.4 590.8 L1000.6 590.4 L998.8 590 L997 589.6 L995.2 589.3 L993.4 588.9 L991.7 588.5 L989.9 588.1 L988.1 587.7 L986.3 587.3 L984.5 586.9 L982.7 586.6 L980.9 586.2 L979.1 585.8 L977.3 585.4 L975.6 585.1 L973.8 584.7 L972 584.3 L970.2 584 L968.4 583.6 L966.6 583.3 L964.8 583 L963 582.6 L961.3 582.3 L959.5 582 L957.7 581.7 L955.9 581.4 L954.1 581.1 L952.3 580.8 L950.5 580.5 L948.7 580.2 L946.9 579.9 L945.2 579.6 L943.4 579.4 L941.6 579.1 L939.8 578.9 L938 578.6 L936.2 578.4 L934.4 578.2 L932.6 578 L930.8 577.7 L929.1 577.5 L927.3 577.4 L925.5 577.2 L923.7 577 L921.9 576.8 L920.1 576.7 L918.3 576.5 L916.5 576.4 L914.7 576.3 L913 576.1 L911.2 576 L909.4 575.9 L907.6 575.8 L905.8 575.8 L904 575.7 L902.2 575.6 L900.4 575.6 L898.6 575.5 L896.9 575.5 L895.1 575.5 L893.3 575.5 L891.5 575.5 L889.7 575.5 L887.9 575.5 L886.1 575.6 L884.3 575.6 L882.5 575.7 L880.8 575.8 L879 575.9 L877.2 576 L875.4 576.1 L873.6 576.2 L871.8 576.3 L870 576.5 L868.2 576.7 L866.5 576.8 L864.7 577 L862.9 577.2 L861.1 577.5 L859.3 577.7 L857.5 577.9 L855.7 578.2 L853.9 578.5 L852.1 578.8 L850.4 579.1 L848.6 579.4 L846.8 579.7 L845 580.1 L843.2 580.4 L841.4 580.8 L839.6 581.2 L837.8 581.6 L836 582.1 L834.3 582.5 L832.5 583 L830.7 583.4 L828.9 583.9 L827.1 584.4 Z" fill="rgb(236,168,30)" fill-opacity="0.3" stroke="none"/><path d="M827.1 584.4 L828.9 584.3 L830.7 584.2 L832.5 584.2 L834.3 584.1 L836 584 L837.8 584 L839.6 583.9 L841.4 583.9 L843.2 583.8 L845 583.8 L846.8 583.8 L848.6 583.8 L850.4 583.7 L852.1 583.7 L853.9 583.7 L855.7 583.7 L857.5 583.7 L859.3 583.7 L861.1 583.7 L862.9 583.8 L864.7 583.8 L866.5 583.8 L868.2 583.8 L870 583.9 L871.8 583.9 L873.6 583.9 L875.4 584 L877.2 584 L879 584.1 L880.8 584.1 L882.5 584.2 L884.3 584.3 L886.1 584.3 L887.9 584.4 L889.7 584.5 L891.5 584.6 L893.3 584.7 L895.1 584.7 L896.9 584.8 L898.6 584.9 L900.4 585 L902.2 585.1 L904 585.2 L905.8 585.3 L907.6 585.4 L909.4 585.5 L911.2 585.6 L913 585.7 L914.7 585.9 L916.5 586 L918.3 586.1 L920.1 586.2 L921.9 586.3 L923.7 586.5 L925.5 586.6 L927.3 586.7 L929.1 586.9 L930.8 587 L932.6 587.1 L934.4 587.3 L936.2 587.4 L938 587.5 L939.8 587.7 L941.6 587.8 L943.4 588 L945.2 588.1 L946.9 588.2 L948.7 588.4 L950.5 588.5 L952.3 588.7 L954.1 588.8 L955.9 589 L957.7 589.1 L959.5 589.3 L961.3 589.4 L963 589.6 L964.8 589.7 L966.6 589.8 L968.4 590 L970.2 590.1 L972 590.3 L973.8 590.4 L975.6 590.6 L977.3 590.7 L979.1 590.9 L980.9 591 L982.7 591.2 L984.5 591.3 L986.3 591.4 L988.1 591.6 L989.9 591.7 L991.7 591.9 L993.4 592 L995.2 592.1 L997 592.3 L998.8 592.4 L1000.6 592.5 L1002.4 592.7 L1004.2 592.8 L1006 592.9 L1007.8 593 L1009.5 593.2 L1011.3 593.3 L1013.1 593.4 L1014.9 593.5 L1016.7 593.6 L1018.5 593.8 L1020.3 593.9 L1022.1 594 L1023.9 594.1 L1025.6 594.2 L1027.4 594.3 L1029.2 594.4 L1031 594.5 L1032.8 594.6 L1034.6 594.7 L1036.4 594.7 L1038.2 594.8 L1040 594.9 L1041.7 595 L1043.5 595 L1045.3 595.1 L1047.1 595.2 L1048.9 595.2 L1050.7 595.3 L1052.5 595.3 L1054.3 595.4 L1056.1 595.4 L1057.8 595.5 L1059.6 595.5 L1061.4 595.6 L1063.2 595.6 L1065 595.6 L1066.8 595.6 L1068.6 595.6 L1070.4 595.7 L1072.1 595.7 L1073.9 595.7 L1075.7 595.7 L1077.5 595.6 L1079.3 595.6 L1081.1 595.6 L1082.9 595.6 L1084.7 595.6 L1086.5 595.5 L1088.2 595.5 L1090 595.4 L1091.8 595.4 L1093.6 595.3 L1095.4 595.3 L1097.2 595.2 L1099 595.1 L1100.8 595.1 L1102.6 595 L1104.3 594.9 L1106.1 594.8 L1107.9 594.7 L1109.7 594.6 L1111.5 594.4 L1111.5 600.4 L1109.7 600.6 L1107.9 600.7 L1106.1 600.8 L1104.3 600.9 L1102.6 601 L1100.8 601.1 L1099 601.1 L1097.2 601.2 L1095.4 601.3 L1093.6 601.3 L1091.8 601.4 L1090 601.4 L1088.2 601.5 L1086.5 601.5 L1084.7 601.6 L1082.9 601.6 L1081.1 601.6 L1079.3 601.6 L1077.5 601.6 L1075.7 601.7 L1073.9 601.7 L1072.1 601.7 L1070.4 601.7 L1068.6 601.6 L1066.8 601.6 L1065 601.6 L1063.2 601.6 L1061.4 601.6 L1059.6 601.5 L1057.8 601.5 L1056.1 601.4 L1054.3 601.4 L1052.5 601.3 L1050.7 601.3 L1048.9 601.2 L1047.1 601.2 L1045.3 601.1 L1043.5 601 L1041.7 601 L1040 600.9 L1038.2 600.8 L1036.4 600.7 L1034.6 600.7 L1032.8 600.6 L1031 600.5 L1029.2 600.4 L1027.4 600.3 L1025.6 600.2 L1023.9 600.1 L1022.1 600 L1020.3 599.9 L1018.5 599.8 L1016.7 599.6 L1014.9 599.5 L1013.1 599.4 L1011.3 599.3 L1009.5 599.2 L1007.8 599 L1006 598.9 L1004.2 598.8 L1002.4 598.7 L1000.6 598.5 L998.8 598.4 L997 598.3 L995.2 598.1 L993.4 598 L991.7 597.9 L989.9 597.7 L988.1 597.6 L986.3 597.4 L984.5 597.3 L982.7 597.2 L980.9 597 L979.1 596.9 L977.3 596.7 L975.6 596.6 L973.8 596.4 L972 596.3 L970.2 596.1 L968.4 596 L966.6 595.8 L964.8 595.7 L963 595.6 L961.3 595.4 L959.5 595.3 L957.7 595.1 L955.9 595 L954.1 594.8 L952.3 594.7 L950.5 594.5 L948.7 594.4 L946.9 594.2 L945.2 594.1 L943.4 594 L941.6 593.8 L939.8 593.7 L938 593.5 L936.2 593.4 L934.4 593.3 L932.6 593.1 L930.8 593 L929.1 592.9 L927.3 592.7 L925.5 592.6 L923.7 592.5 L921.9 592.3 L920.1 592.2 L918.3 592.1 L916.5 592 L914.7 591.9 L913 591.7 L911.2 591.6 L909.4 591.5 L907.6 591.4 L905.8 591.3 L904 591.2 L902.2 591.1 L900.4 591 L898.6 590.9 L896.9 590.8 L895.1 590.7 L893.3 590.7 L891.5 590.6 L889.7 590.5 L887.9 590.4 L886.1 590.3 L884.3 590.3 L882.5 590.2 L880.8 590.1 L879 590.1 L877.2 590 L875.4 590 L873.6 589.9 L871.8 589.9 L870 589.9 L868.2 589.8 L866.5 589.8 L864.7 589.8 L862.9 589.8 L861.1 589.7 L859.3 589.7 L857.5 589.7 L855.7 589.7 L853.9 589.7 L852.1 589.7 L850.4 589.7 L848.6 589.8 L846.8 589.8 L845 589.8 L843.2 589.8 L841.4 589.9 L839.6 589.9 L837.8 590 L836 590 L834.3 590.1 L832.5 590.2 L830.7 590.2 L828.9 590.3 L827.1 590.4 Z" fill="rgb(240,108,140)" fill-opacity="0.3" stroke="none"/><path d="M827.1 593.4 L828.9 593.1 L830.7 592.8 L832.5 592.5 L834.3 592.3 L836 592 L837.8 591.7 L839.6 591.4 L841.4 591.2 L843.2 590.9 L845 590.7 L846.8 590.4 L848.6 590.1 L850.4 589.9 L852.1 589.6 L853.9 589.4 L855.7 589.1 L857.5 588.9 L859.3 588.7 L861.1 588.4 L862.9 588.2 L864.7 588 L866.5 587.7 L868.2 587.5 L870 587.3 L871.8 587.1 L873.6 586.9 L875.4 586.6 L877.2 586.4 L879 586.2 L880.8 586 L882.5 585.8 L884.3 585.6 L886.1 585.4 L887.9 585.3 L889.7 585.1 L891.5 584.9 L893.3 584.7 L895.1 584.5 L896.9 584.4 L898.6 584.2 L900.4 584 L902.2 583.9 L904 583.7 L905.8 583.6 L907.6 583.4 L909.4 583.3 L911.2 583.1 L913 583 L914.7 582.8 L916.5 582.7 L918.3 582.6 L920.1 582.5 L921.9 582.3 L923.7 582.2 L925.5 582.1 L927.3 582 L929.1 581.9 L930.8 581.8 L932.6 581.7 L934.4 581.6 L936.2 581.5 L938 581.4 L939.8 581.3 L941.6 581.3 L943.4 581.2 L945.2 581.1 L946.9 581.1 L948.7 581 L950.5 581 L952.3 580.9 L954.1 580.9 L955.9 580.8 L957.7 580.8 L959.5 580.8 L961.3 580.7 L963 580.7 L964.8 580.7 L966.6 580.7 L968.4 580.7 L970.2 580.7 L972 580.7 L973.8 580.7 L975.6 580.7 L977.3 580.7 L979.1 580.7 L980.9 580.7 L982.7 580.8 L984.5 580.8 L986.3 580.9 L988.1 580.9 L989.9 580.9 L991.7 581 L993.4 581.1 L995.2 581.1 L997 581.2 L998.8 581.3 L1000.6 581.4 L1002.4 581.4 L1004.2 581.5 L1006 581.6 L1007.8 581.7 L1009.5 581.8 L1011.3 582 L1013.1 582.1 L1014.9 582.2 L1016.7 582.3 L1018.5 582.5 L1020.3 582.6 L1022.1 582.7 L1023.9 582.9 L1025.6 583 L1027.4 583.2 L1029.2 583.3 L1031 583.5 L1032.8 583.7 L1034.6 583.8 L1036.4 584 L1038.2 584.2 L1040 584.3 L1041.7 584.5 L1043.5 584.7 L1045.3 584.9 L1047.1 585.1 L1048.9 585.3 L1050.7 585.5 L1052.5 585.6 L1054.3 585.8 L1056.1 586 L1057.8 586.2 L1059.6 586.4 L1061.4 586.6 L1063.2 586.8 L1065 587 L1066.8 587.2 L1068.6 587.4 L1070.4 587.6 L1072.1 587.8 L1073.9 588 L1075.7 588.2 L1077.5 588.4 L1079.3 588.6 L1081.1 588.9 L1082.9 589.1 L1084.7 589.3 L1086.5 589.5 L1088.2 589.7 L1090 589.9 L1091.8 590.1 L1093.6 590.3 L1095.4 590.4 L1097.2 590.6 L1099 590.8 L1100.8 591 L1102.6 591.2 L1104.3 591.4 L1106.1 591.6 L1107.9 591.8 L1109.7 591.9 L1111.5 592.1 L1111.5 598.1 L1109.7 597.9 L1107.9 597.8 L1106.1 597.6 L1104.3 597.4 L1102.6 597.2 L1100.8 597 L1099 596.8 L1097.2 596.6 L1095.4 596.4 L1093.6 596.3 L1091.8 596.1 L1090 595.9 L1088.2 595.7 L1086.5 595.5 L1084.7 595.3 L1082.9 595.1 L1081.1 594.9 L1079.3 594.6 L1077.5 594.4 L1075.7 594.2 L1073.9 594 L1072.1 593.8 L1070.4 593.6 L1068.6 593.4 L1066.8 593.2 L1065 593 L1063.2 592.8 L1061.4 592.6 L1059.6 592.4 L1057.8 592.2 L1056.1 592 L1054.3 591.8 L1052.5 591.6 L1050.7 591.5 L1048.9 591.3 L1047.1 591.1 L1045.3 590.9 L1043.5 590.7 L1041.7 590.5 L1040 590.3 L1038.2 590.2 L1036.4 590 L1034.6 589.8 L1032.8 589.7 L1031 589.5 L1029.2 589.3 L1027.4 589.2 L1025.6 589 L1023.9 588.9 L1022.1 588.7 L1020.3 588.6 L1018.5 588.5 L1016.7 588.3 L1014.9 588.2 L1013.1 588.1 L1011.3 588 L1009.5 587.8 L1007.8 587.7 L1006 587.6 L1004.2 587.5 L1002.4 587.4 L1000.6 587.4 L998.8 587.3 L997 587.2 L995.2 587.1 L993.4 587.1 L991.7 587 L989.9 586.9 L988.1 586.9 L986.3 586.9 L984.5 586.8 L982.7 586.8 L980.9 586.7 L979.1 586.7 L977.3 586.7 L975.6 586.7 L973.8 586.7 L972 586.7 L970.2 586.7 L968.4 586.7 L966.6 586.7 L964.8 586.7 L963 586.7 L961.3 586.7 L959.5 586.8 L957.7 586.8 L955.9 586.8 L954.1 586.9 L952.3 586.9 L950.5 587 L948.7 587 L946.9 587.1 L945.2 587.1 L943.4 587.2 L941.6 587.3 L939.8 587.3 L938 587.4 L936.2 587.5 L934.4 587.6 L932.6 587.7 L930.8 587.8 L929.1 587.9 L927.3 588 L925.5 588.1 L923.7 588.2 L921.9 588.3 L920.1 588.5 L918.3 588.6 L916.5 588.7 L914.7 588.8 L913 589 L911.2 589.1 L909.4 589.3 L907.6 589.4 L905.8 589.6 L904 589.7 L902.2 589.9 L900.4 590 L898.6 590.2 L896.9 590.4 L895.1 590.5 L893.3 590.7 L891.5 590.9 L889.7 591.1 L887.9 591.3 L886.1 591.4 L884.3 591.6 L882.5 591.8 L880.8 592 L879 592.2 L877.2 592.4 L875.4 592.6 L873.6 592.9 L871.8 593.1 L870 593.3 L868.2 593.5 L866.5 593.7 L864.7 594 L862.9 594.2 L861.1 594.4 L859.3 594.7 L857.5 594.9 L855.7 595.1 L853.9 595.4 L852.1 595.6 L850.4 595.9 L848.6 596.1 L846.8 596.4 L845 596.7 L843.2 596.9 L841.4 597.2 L839.6 597.4 L837.8 597.7 L836 598 L834.3 598.3 L832.5 598.5 L830.7 598.8 L828.9 599.1 L827.1 599.4 Z" fill="rgb(51,51,222)" fill-opacity="0.3" stroke="none"/><path d="M827.1 334.9 L828.9 335.7 L830.7 336.5 L832.5 337.3 L834.3 338.1 L836 339 L837.8 339.9 L839.6 340.8 L841.4 341.7 L843.2 342.7 L845 343.7 L846.8 344.7 L848.6 345.8 L850.4 346.9 L852.1 348 L853.9 349.1 L855.7 350.3 L857.5 351.5 L859.3 352.7 L861.1 354 L862.9 355.3 L864.7 356.5 L866.5 357.8 L868.2 359.2 L870 360.5 L871.8 361.8 L873.6 363.1 L875.4 364.4 L877.2 365.7 L879 367.1 L880.8 368.4 L882.5 369.8 L884.3 371.2 L886.1 372.5 L887.9 373.9 L889.7 375.3 L891.5 376.7 L893.3 378.1 L895.1 379.7 L896.9 381.3 L898.6 383 L900.4 384.7 L902.2 386.5 L904 388.3 L905.8 390.2 L907.6 392.1 L909.4 394.1 L911.2 396.1 L913 398.1 L914.7 400.2 L916.5 402.4 L918.3 404.6 L920.1 406.9 L921.9 409.3 L923.7 411.7 L925.5 414.2 L927.3 416.9 L929.1 419.6 L930.8 422.4 L932.6 425.4 L934.4 428.4 L936.2 431.4 L938 434.6 L939.8 438.1 L941.6 441.8 L943.4 445.6 L945.2 449.6 L946.9 453.6 L948.7 457.6 L950.5 461.5 L952.3 465.3 L954.1 469.2 L955.9 473.1 L957.7 477 L959.5 480.9 L961.3 484.8 L963 488.6 L964.8 492.4 L966.6 496.1 L968.4 499.9 L970.2 503.7 L972 507.5 L973.8 511.3 L975.6 515 L977.3 518.5 L979.1 521.9 L980.9 525.1 L982.7 528.3 L984.5 531.3 L986.3 534.3 L988.1 537.3 L989.9 540.1 L991.7 542.8 L993.4 545.3 L995.2 547.8 L997 550.2 L998.8 552.5 L1000.6 554.8 L1002.4 557 L1004.2 559 L1006 561 L1007.8 562.9 L1009.5 564.7 L1011.3 566.4 L1013.1 568.1 L1014.9 569.7 L1016.7 571.2 L1018.5 572.7 L1020.3 574 L1022.1 575.2 L1023.9 576.4 L1025.6 577.5 L1027.4 578.5 L1029.2 579.5 L1031 580.4 L1032.8 581.3 L1034.6 582.1 L1036.4 582.9 L1038.2 583.6 L1040 584.3 L1041.7 585 L1043.5 585.6 L1045.3 586.2 L1047.1 586.8 L1048.9 587.3 L1050.7 587.7 L1052.5 588.1 L1054.3 588.6 L1056.1 588.9 L1057.8 589.3 L1059.6 589.6 L1061.4 589.9 L1063.2 590.1 L1065 590.4 L1066.8 590.6 L1068.6 590.8 L1070.4 591 L1072.1 591.2 L1073.9 591.3 L1075.7 591.4 L1077.5 591.5 L1079.3 591.6 L1081.1 591.7 L1082.9 591.8 L1084.7 591.9 L1086.5 592 L1088.2 592.1 L1090 592.2 L1091.8 592.2 L1093.6 592.3 L1095.4 592.4 L1097.2 592.4 L1099 592.5 L1100.8 592.5 L1102.6 592.6 L1104.3 592.6 L1106.1 592.6 L1107.9 592.7 L1109.7 592.7 L1111.5 592.7 L1111.5 596.7 L1109.7 596.7 L1107.9 596.7 L1106.1 596.7 L1104.3 596.7 L1102.6 596.7 L1100.8 596.6 L1099 596.6 L1097.2 596.6 L1095.4 596.5 L1093.6 596.5 L1091.8 596.4 L1090 596.4 L1088.2 596.3 L1086.5 596.2 L1084.7 596.2 L1082.9 596.1 L1081.1 596 L1079.3 595.9 L1077.5 595.8 L1075.7 595.8 L1073.9 595.7 L1072.1 595.6 L1070.4 595.4 L1068.6 595.2 L1066.8 595.1 L1065 594.9 L1063.2 594.7 L1061.4 594.4 L1059.6 594.2 L1057.8 593.9 L1056.1 593.6 L1054.3 593.3 L1052.5 592.9 L1050.7 592.5 L1048.9 592.1 L1047.1 591.7 L1045.3 591.2 L1043.5 590.7 L1041.7 590.1 L1040 589.5 L1038.2 588.9 L1036.4 588.2 L1034.6 587.5 L1032.8 586.8 L1031 586.1 L1029.2 585.2 L1027.4 584.4 L1025.6 583.5 L1023.9 582.5 L1022.1 581.5 L1020.3 580.4 L1018.5 579.3 L1016.7 578.1 L1014.9 576.8 L1013.1 575.4 L1011.3 574 L1009.5 572.4 L1007.8 570.8 L1006 569.1 L1004.2 567.4 L1002.4 565.6 L1000.6 563.7 L998.8 561.8 L997 559.7 L995.2 557.5 L993.4 555.3 L991.7 553 L989.9 550.6 L988.1 548.2 L986.3 545.6 L984.5 542.9 L982.7 540.1 L980.9 537.3 L979.1 534.3 L977.3 531.3 L975.6 528.2 L973.8 525 L972 521.6 L970.2 518 L968.4 514.4 L966.6 510.6 L964.8 506.9 L963 503.2 L961.3 499.5 L959.5 495.7 L957.7 491.9 L955.9 488.1 L954.1 484.2 L952.3 480.3 L950.5 476.4 L948.7 472.6 L946.9 468.8 L945.2 464.9 L943.4 460.9 L941.6 456.9 L939.8 452.8 L938 448.9 L936.2 445 L934.4 441.4 L932.6 438.1 L930.8 434.8 L929.1 431.7 L927.3 428.7 L925.5 425.7 L923.7 422.9 L921.9 420.2 L920.1 417.6 L918.3 415.1 L916.5 412.6 L914.7 410.3 L913 408 L911.2 405.8 L909.4 403.7 L907.6 401.6 L905.8 399.6 L904 397.6 L902.2 395.7 L900.4 393.8 L898.6 392 L896.9 390.3 L895.1 388.6 L893.3 387.1 L891.5 385.7 L889.7 384.3 L887.9 383 L886.1 381.8 L884.3 380.6 L882.5 379.4 L880.8 378.3 L879 377.1 L877.2 375.9 L875.4 374.7 L873.6 373.6 L871.8 372.5 L870 371.3 L868.2 370.3 L866.5 369.2 L864.7 368.2 L862.9 367.2 L861.1 366.1 L859.3 365.1 L857.5 364.1 L855.7 363.2 L853.9 362.2 L852.1 361.4 L850.4 360.5 L848.6 359.7 L846.8 358.9 L845 358.1 L843.2 357.4 L841.4 356.7 L839.6 356 L837.8 355.3 L836 354.7 L834.3 354.1 L832.5 353.6 L830.7 353 L828.9 352.5 L827.1 352.1 Z" fill="rgb(0,114,189)" fill-opacity="0.3" stroke="none"/><path d="M827.1 593.8 L828.9 593.4 L830.7 593.1 L832.5 592.8 L834.3 592.5 L836 592.2 L837.8 591.9 L839.6 591.7 L841.4 591.4 L843.2 591.1 L845 590.9 L846.8 590.6 L848.6 590.3 L850.4 590 L852.1 589.7 L853.9 589.3 L855.7 589 L857.5 588.6 L859.3 588.2 L861.1 587.7 L862.9 587.2 L864.7 586.7 L866.5 586.2 L868.2 585.5 L870 584.9 L871.8 584.2 L873.6 583.4 L875.4 582.6 L877.2 581.7 L879 580.8 L880.8 579.8 L882.5 578.7 L884.3 577.6 L886.1 576.3 L887.9 575 L889.7 573.6 L891.5 572.2 L893.3 570.6 L895.1 569 L896.9 567.2 L898.6 565.4 L900.4 563.4 L902.2 561.4 L904 559.2 L905.8 557 L907.6 554.7 L909.4 552.2 L911.2 549.7 L913 547.1 L914.7 544.4 L916.5 541.6 L918.3 538.7 L920.1 535.7 L921.9 532.7 L923.7 529.5 L925.5 526.3 L927.3 523 L929.1 519.6 L930.8 516.2 L932.6 512.6 L934.4 509 L936.2 505.4 L938 501.6 L939.8 497.8 L941.6 494 L943.4 490.2 L945.2 486.3 L946.9 482.3 L948.7 478.4 L950.5 474.4 L952.3 470.4 L954.1 466.5 L955.9 462.5 L957.7 458.5 L959.5 454.5 L961.3 450.6 L963 446.6 L964.8 442.7 L966.6 438.9 L968.4 435 L970.2 431.3 L972 427.5 L973.8 423.8 L975.6 420.2 L977.3 416.6 L979.1 413 L980.9 409.5 L982.7 406 L984.5 402.6 L986.3 399.2 L988.1 395.9 L989.9 392.7 L991.7 389.5 L993.4 386.3 L995.2 383.2 L997 380.2 L998.8 377.2 L1000.6 374.3 L1002.4 371.4 L1004.2 368.6 L1006 365.9 L1007.8 363.2 L1009.5 360.6 L1011.3 358 L1013.1 355.5 L1014.9 353.1 L1016.7 350.8 L1018.5 348.5 L1020.3 346.3 L1022.1 344.1 L1023.9 342 L1025.6 340 L1027.4 338.1 L1029.2 336.3 L1031 334.5 L1032.8 332.8 L1034.6 331.1 L1036.4 329.6 L1038.2 328.1 L1040 326.7 L1041.7 325.4 L1043.5 324.1 L1045.3 323 L1047.1 321.9 L1048.9 320.9 L1050.7 320 L1052.5 319.2 L1054.3 318.4 L1056.1 317.7 L1057.8 317 L1059.6 316.5 L1061.4 315.9 L1063.2 315.5 L1065 315 L1066.8 314.7 L1068.6 314.3 L1070.4 314 L1072.1 313.8 L1073.9 313.5 L1075.7 313.3 L1077.5 313.2 L1079.3 313 L1081.1 312.9 L1082.9 312.8 L1084.7 312.7 L1086.5 312.6 L1088.2 312.5 L1090 312.4 L1091.8 312.3 L1093.6 312.2 L1095.4 312 L1097.2 311.9 L1099 311.7 L1100.8 311.6 L1102.6 311.4 L1104.3 311.1 L1106.1 310.9 L1107.9 310.6 L1109.7 310.2 L1111.5 309.9 L1111.5 314.3 L1109.7 314.7 L1107.9 315 L1106.1 315.3 L1104.3 315.6 L1102.6 315.8 L1100.8 316 L1099 316.2 L1097.2 316.3 L1095.4 316.4 L1093.6 316.6 L1091.8 316.7 L1090 316.8 L1088.2 316.9 L1086.5 317 L1084.7 317.1 L1082.9 317.2 L1081.1 317.3 L1079.3 317.4 L1077.5 317.6 L1075.7 317.8 L1073.9 318 L1072.1 318.2 L1070.4 318.5 L1068.6 318.8 L1066.8 319.1 L1065 319.5 L1063.2 320 L1061.4 320.4 L1059.6 321 L1057.8 321.6 L1056.1 322.3 L1054.3 323 L1052.5 323.9 L1050.7 324.8 L1048.9 325.7 L1047.1 326.8 L1045.3 328 L1043.5 329.2 L1041.7 330.5 L1040 331.9 L1038.2 333.4 L1036.4 335 L1034.6 336.6 L1032.8 338.4 L1031 340.2 L1029.2 342 L1027.4 344 L1025.6 346 L1023.9 348.1 L1022.1 350.3 L1020.3 352.6 L1018.5 354.9 L1016.7 357.3 L1014.9 359.7 L1013.1 362.2 L1011.3 364.8 L1009.5 367.5 L1007.8 370.2 L1006 373 L1004.2 375.8 L1002.4 378.7 L1000.6 381.7 L998.8 384.7 L997 387.7 L995.2 390.9 L993.4 394.1 L991.7 397.3 L989.9 400.6 L988.1 403.9 L986.3 407.3 L984.5 410.8 L982.7 414.3 L980.9 417.8 L979.1 421.4 L977.3 425.1 L975.6 428.8 L973.8 432.5 L972 436.3 L970.2 440.1 L968.4 443.9 L966.6 447.8 L964.8 451.8 L963 455.7 L961.3 459.7 L959.5 463.6 L957.7 467.6 L955.9 471.6 L954.1 475.6 L952.3 479.6 L950.5 483.5 L948.7 487.5 L946.9 491.4 L945.2 495.2 L943.4 499.1 L941.6 502.9 L939.8 506.6 L938 510.3 L936.2 513.9 L934.4 517.5 L932.6 520.9 L930.8 524.4 L929.1 527.7 L927.3 530.9 L925.5 534.1 L923.7 537.2 L921.9 540.2 L920.1 543.1 L918.3 545.9 L916.5 548.7 L914.7 551.3 L913 553.9 L911.2 556.4 L909.4 558.8 L907.6 561.1 L905.8 563.3 L904 565.4 L902.2 567.4 L900.4 569.3 L898.6 571.1 L896.9 572.8 L895.1 574.5 L893.3 576 L891.5 577.5 L889.7 578.9 L887.9 580.2 L886.1 581.4 L884.3 582.5 L882.5 583.6 L880.8 584.6 L879 585.6 L877.2 586.5 L875.4 587.3 L873.6 588.1 L871.8 588.8 L870 589.5 L868.2 590.1 L866.5 590.7 L864.7 591.2 L862.9 591.7 L861.1 592.2 L859.3 592.7 L857.5 593.1 L855.7 593.4 L853.9 593.8 L852.1 594.1 L850.4 594.4 L848.6 594.7 L846.8 595 L845 595.3 L843.2 595.6 L841.4 595.8 L839.6 596.1 L837.8 596.4 L836 596.7 L834.3 596.9 L832.5 597.2 L830.7 597.5 L828.9 597.9 L827.1 598.2 Z" fill="rgb(217,83,25)" fill-opacity="0.3" stroke="none"/><path d="M827.1 580.4 L828.9 579.9 L830.7 579.4 L832.5 579 L834.3 578.5 L836 578.1 L837.8 577.6 L839.6 577.2 L841.4 576.8 L843.2 576.4 L845 576.1 L846.8 575.7 L848.6 575.4 L850.4 575.1 L852.1 574.8 L853.9 574.5 L855.7 574.2 L857.5 573.9 L859.3 573.7 L861.1 573.5 L862.9 573.2 L864.7 573 L866.5 572.8 L868.2 572.7 L870 572.5 L871.8 572.3 L873.6 572.2 L875.4 572.1 L877.2 572 L879 571.9 L880.8 571.8 L882.5 571.7 L884.3 571.6 L886.1 571.6 L887.9 571.5 L889.7 571.5 L891.5 571.5 L893.3 571.5 L895.1 571.5 L896.9 571.5 L898.6 571.5 L900.4 571.6 L902.2 571.6 L904 571.7 L905.8 571.8 L907.6 571.8 L909.4 571.9 L911.2 572 L913 572.1 L914.7 572.3 L916.5 572.4 L918.3 572.5 L920.1 572.7 L921.9 572.8 L923.7 573 L925.5 573.2 L927.3 573.4 L929.1 573.5 L930.8 573.7 L932.6 574 L934.4 574.2 L936.2 574.4 L938 574.6 L939.8 574.9 L941.6 575.1 L943.4 575.4 L945.2 575.6 L946.9 575.9 L948.7 576.2 L950.5 576.5 L952.3 576.8 L954.1 577.1 L955.9 577.4 L957.7 577.7 L959.5 578 L961.3 578.3 L963 578.6 L964.8 579 L966.6 579.3 L968.4 579.6 L970.2 580 L972 580.3 L973.8 580.7 L975.6 581.1 L977.3 581.4 L979.1 581.8 L980.9 582.2 L982.7 582.6 L984.5 582.9 L986.3 583.3 L988.1 583.7 L989.9 584.1 L991.7 584.5 L993.4 584.9 L995.2 585.3 L997 585.6 L998.8 586 L1000.6 586.4 L1002.4 586.8 L1004.2 587.2 L1006 587.6 L1007.8 588 L1009.5 588.3 L1011.3 588.7 L1013.1 589.1 L1014.9 589.5 L1016.7 589.8 L1018.5 590.2 L1020.3 590.5 L1022.1 590.9 L1023.9 591.2 L1025.6 591.6 L1027.4 591.9 L1029.2 592.2 L1031 592.5 L1032.8 592.9 L1034.6 593.2 L1036.4 593.5 L1038.2 593.7 L1040 594 L1041.7 594.3 L1043.5 594.6 L1045.3 594.8 L1047.1 595.1 L1048.9 595.3 L1050.7 595.5 L1052.5 595.7 L1054.3 595.9 L1056.1 596.1 L1057.8 596.3 L1059.6 596.5 L1061.4 596.6 L1063.2 596.8 L1065 596.9 L1066.8 597 L1068.6 597.2 L1070.4 597.3 L1072.1 597.3 L1073.9 597.4 L1075.7 597.5 L1077.5 597.5 L1079.3 597.6 L1081.1 597.6 L1082.9 597.6 L1084.7 597.6 L1086.5 597.5 L1088.2 597.5 L1090 597.5 L1091.8 597.4 L1093.6 597.3 L1095.4 597.2 L1097.2 597.1 L1099 597 L1100.8 596.8 L1102.6 596.6 L1104.3 596.5 L1106.1 596.3 L1107.9 596.1 L1109.7 595.8 L1111.5 595.6" fill="none" stroke="#edb120" stroke-width="2.0" stroke-linejoin="round"/><path d="M827.1 587.4 L828.9 587.3 L830.7 587.2 L832.5 587.2 L834.3 587.1 L836 587 L837.8 587 L839.6 586.9 L841.4 586.9 L843.2 586.8 L845 586.8 L846.8 586.8 L848.6 586.8 L850.4 586.7 L852.1 586.7 L853.9 586.7 L855.7 586.7 L857.5 586.7 L859.3 586.7 L861.1 586.7 L862.9 586.8 L864.7 586.8 L866.5 586.8 L868.2 586.8 L870 586.9 L871.8 586.9 L873.6 586.9 L875.4 587 L877.2 587 L879 587.1 L880.8 587.1 L882.5 587.2 L884.3 587.3 L886.1 587.3 L887.9 587.4 L889.7 587.5 L891.5 587.6 L893.3 587.7 L895.1 587.7 L896.9 587.8 L898.6 587.9 L900.4 588 L902.2 588.1 L904 588.2 L905.8 588.3 L907.6 588.4 L909.4 588.5 L911.2 588.6 L913 588.7 L914.7 588.9 L916.5 589 L918.3 589.1 L920.1 589.2 L921.9 589.3 L923.7 589.5 L925.5 589.6 L927.3 589.7 L929.1 589.9 L930.8 590 L932.6 590.1 L934.4 590.3 L936.2 590.4 L938 590.5 L939.8 590.7 L941.6 590.8 L943.4 591 L945.2 591.1 L946.9 591.2 L948.7 591.4 L950.5 591.5 L952.3 591.7 L954.1 591.8 L955.9 592 L957.7 592.1 L959.5 592.3 L961.3 592.4 L963 592.6 L964.8 592.7 L966.6 592.8 L968.4 593 L970.2 593.1 L972 593.3 L973.8 593.4 L975.6 593.6 L977.3 593.7 L979.1 593.9 L980.9 594 L982.7 594.2 L984.5 594.3 L986.3 594.4 L988.1 594.6 L989.9 594.7 L991.7 594.9 L993.4 595 L995.2 595.1 L997 595.3 L998.8 595.4 L1000.6 595.5 L1002.4 595.7 L1004.2 595.8 L1006 595.9 L1007.8 596 L1009.5 596.2 L1011.3 596.3 L1013.1 596.4 L1014.9 596.5 L1016.7 596.6 L1018.5 596.8 L1020.3 596.9 L1022.1 597 L1023.9 597.1 L1025.6 597.2 L1027.4 597.3 L1029.2 597.4 L1031 597.5 L1032.8 597.6 L1034.6 597.7 L1036.4 597.7 L1038.2 597.8 L1040 597.9 L1041.7 598 L1043.5 598 L1045.3 598.1 L1047.1 598.2 L1048.9 598.2 L1050.7 598.3 L1052.5 598.3 L1054.3 598.4 L1056.1 598.4 L1057.8 598.5 L1059.6 598.5 L1061.4 598.6 L1063.2 598.6 L1065 598.6 L1066.8 598.6 L1068.6 598.6 L1070.4 598.7 L1072.1 598.7 L1073.9 598.7 L1075.7 598.7 L1077.5 598.6 L1079.3 598.6 L1081.1 598.6 L1082.9 598.6 L1084.7 598.6 L1086.5 598.5 L1088.2 598.5 L1090 598.4 L1091.8 598.4 L1093.6 598.3 L1095.4 598.3 L1097.2 598.2 L1099 598.1 L1100.8 598.1 L1102.6 598 L1104.3 597.9 L1106.1 597.8 L1107.9 597.7 L1109.7 597.6 L1111.5 597.4" fill="none" stroke="#f06c8c" stroke-width="2.0" stroke-linejoin="round"/><path d="M827.1 596.4 L828.9 596.1 L830.7 595.8 L832.5 595.5 L834.3 595.3 L836 595 L837.8 594.7 L839.6 594.4 L841.4 594.2 L843.2 593.9 L845 593.7 L846.8 593.4 L848.6 593.1 L850.4 592.9 L852.1 592.6 L853.9 592.4 L855.7 592.1 L857.5 591.9 L859.3 591.7 L861.1 591.4 L862.9 591.2 L864.7 591 L866.5 590.7 L868.2 590.5 L870 590.3 L871.8 590.1 L873.6 589.9 L875.4 589.6 L877.2 589.4 L879 589.2 L880.8 589 L882.5 588.8 L884.3 588.6 L886.1 588.4 L887.9 588.3 L889.7 588.1 L891.5 587.9 L893.3 587.7 L895.1 587.5 L896.9 587.4 L898.6 587.2 L900.4 587 L902.2 586.9 L904 586.7 L905.8 586.6 L907.6 586.4 L909.4 586.3 L911.2 586.1 L913 586 L914.7 585.8 L916.5 585.7 L918.3 585.6 L920.1 585.5 L921.9 585.3 L923.7 585.2 L925.5 585.1 L927.3 585 L929.1 584.9 L930.8 584.8 L932.6 584.7 L934.4 584.6 L936.2 584.5 L938 584.4 L939.8 584.3 L941.6 584.3 L943.4 584.2 L945.2 584.1 L946.9 584.1 L948.7 584 L950.5 584 L952.3 583.9 L954.1 583.9 L955.9 583.8 L957.7 583.8 L959.5 583.8 L961.3 583.7 L963 583.7 L964.8 583.7 L966.6 583.7 L968.4 583.7 L970.2 583.7 L972 583.7 L973.8 583.7 L975.6 583.7 L977.3 583.7 L979.1 583.7 L980.9 583.7 L982.7 583.8 L984.5 583.8 L986.3 583.9 L988.1 583.9 L989.9 583.9 L991.7 584 L993.4 584.1 L995.2 584.1 L997 584.2 L998.8 584.3 L1000.6 584.4 L1002.4 584.4 L1004.2 584.5 L1006 584.6 L1007.8 584.7 L1009.5 584.8 L1011.3 585 L1013.1 585.1 L1014.9 585.2 L1016.7 585.3 L1018.5 585.5 L1020.3 585.6 L1022.1 585.7 L1023.9 585.9 L1025.6 586 L1027.4 586.2 L1029.2 586.3 L1031 586.5 L1032.8 586.7 L1034.6 586.8 L1036.4 587 L1038.2 587.2 L1040 587.3 L1041.7 587.5 L1043.5 587.7 L1045.3 587.9 L1047.1 588.1 L1048.9 588.3 L1050.7 588.5 L1052.5 588.6 L1054.3 588.8 L1056.1 589 L1057.8 589.2 L1059.6 589.4 L1061.4 589.6 L1063.2 589.8 L1065 590 L1066.8 590.2 L1068.6 590.4 L1070.4 590.6 L1072.1 590.8 L1073.9 591 L1075.7 591.2 L1077.5 591.4 L1079.3 591.6 L1081.1 591.9 L1082.9 592.1 L1084.7 592.3 L1086.5 592.5 L1088.2 592.7 L1090 592.9 L1091.8 593.1 L1093.6 593.3 L1095.4 593.4 L1097.2 593.6 L1099 593.8 L1100.8 594 L1102.6 594.2 L1104.3 594.4 L1106.1 594.6 L1107.9 594.8 L1109.7 594.9 L1111.5 595.1" fill="none" stroke="#2a2acc" stroke-width="2.0" stroke-linejoin="round"/><path d="M827.1 343.5 L828.9 344.1 L830.7 344.8 L832.5 345.4 L834.3 346.1 L836 346.9 L837.8 347.6 L839.6 348.4 L841.4 349.2 L843.2 350 L845 350.9 L846.8 351.8 L848.6 352.7 L850.4 353.7 L852.1 354.7 L853.9 355.7 L855.7 356.7 L857.5 357.8 L859.3 358.9 L861.1 360.1 L862.9 361.2 L864.7 362.4 L866.5 363.5 L868.2 364.7 L870 365.9 L871.8 367.1 L873.6 368.3 L875.4 369.6 L877.2 370.8 L879 372.1 L880.8 373.4 L882.5 374.6 L884.3 375.9 L886.1 377.2 L887.9 378.5 L889.7 379.8 L891.5 381.2 L893.3 382.6 L895.1 384.2 L896.9 385.8 L898.6 387.5 L900.4 389.2 L902.2 391.1 L904 393 L905.8 394.9 L907.6 396.9 L909.4 398.9 L911.2 400.9 L913 403.1 L914.7 405.2 L916.5 407.5 L918.3 409.8 L920.1 412.2 L921.9 414.7 L923.7 417.3 L925.5 420 L927.3 422.8 L929.1 425.7 L930.8 428.6 L932.6 431.7 L934.4 434.9 L936.2 438.2 L938 441.7 L939.8 445.5 L941.6 449.3 L943.4 453.3 L945.2 457.2 L946.9 461.2 L948.7 465.1 L950.5 468.9 L952.3 472.8 L954.1 476.7 L955.9 480.6 L957.7 484.4 L959.5 488.3 L961.3 492.1 L963 495.9 L964.8 499.6 L966.6 503.4 L968.4 507.1 L970.2 510.9 L972 514.5 L973.8 518.1 L975.6 521.6 L977.3 524.9 L979.1 528.1 L980.9 531.2 L982.7 534.2 L984.5 537.1 L986.3 540 L988.1 542.7 L989.9 545.3 L991.7 547.9 L993.4 550.3 L995.2 552.7 L997 554.9 L998.8 557.1 L1000.6 559.3 L1002.4 561.3 L1004.2 563.2 L1006 565.1 L1007.8 566.8 L1009.5 568.5 L1011.3 570.2 L1013.1 571.8 L1014.9 573.3 L1016.7 574.7 L1018.5 576 L1020.3 577.2 L1022.1 578.4 L1023.9 579.4 L1025.6 580.5 L1027.4 581.5 L1029.2 582.4 L1031 583.2 L1032.8 584.1 L1034.6 584.8 L1036.4 585.6 L1038.2 586.3 L1040 586.9 L1041.7 587.6 L1043.5 588.2 L1045.3 588.7 L1047.1 589.2 L1048.9 589.7 L1050.7 590.1 L1052.5 590.5 L1054.3 590.9 L1056.1 591.3 L1057.8 591.6 L1059.6 591.9 L1061.4 592.2 L1063.2 592.4 L1065 592.6 L1066.8 592.8 L1068.6 593 L1070.4 593.2 L1072.1 593.4 L1073.9 593.5 L1075.7 593.6 L1077.5 593.7 L1079.3 593.8 L1081.1 593.9 L1082.9 593.9 L1084.7 594 L1086.5 594.1 L1088.2 594.2 L1090 594.3 L1091.8 594.3 L1093.6 594.4 L1095.4 594.4 L1097.2 594.5 L1099 594.5 L1100.8 594.6 L1102.6 594.6 L1104.3 594.6 L1106.1 594.7 L1107.9 594.7 L1109.7 594.7 L1111.5 594.7" fill="none" stroke="#0072bd" stroke-width="2.0" stroke-linejoin="round"/><path d="M827.1 596 L828.9 595.6 L830.7 595.3 L832.5 595 L834.3 594.7 L836 594.4 L837.8 594.2 L839.6 593.9 L841.4 593.6 L843.2 593.4 L845 593.1 L846.8 592.8 L848.6 592.5 L850.4 592.2 L852.1 591.9 L853.9 591.6 L855.7 591.2 L857.5 590.8 L859.3 590.4 L861.1 590 L862.9 589.5 L864.7 589 L866.5 588.4 L868.2 587.8 L870 587.2 L871.8 586.5 L873.6 585.8 L875.4 585 L877.2 584.1 L879 583.2 L880.8 582.2 L882.5 581.2 L884.3 580 L886.1 578.9 L887.9 577.6 L889.7 576.2 L891.5 574.8 L893.3 573.3 L895.1 571.7 L896.9 570 L898.6 568.2 L900.4 566.4 L902.2 564.4 L904 562.3 L905.8 560.1 L907.6 557.9 L909.4 555.5 L911.2 553 L913 550.5 L914.7 547.9 L916.5 545.1 L918.3 542.3 L920.1 539.4 L921.9 536.4 L923.7 533.4 L925.5 530.2 L927.3 527 L929.1 523.7 L930.8 520.3 L932.6 516.8 L934.4 513.2 L936.2 509.6 L938 506 L939.8 502.2 L941.6 498.4 L943.4 494.6 L945.2 490.7 L946.9 486.8 L948.7 482.9 L950.5 479 L952.3 475 L954.1 471 L955.9 467 L957.7 463.1 L959.5 459.1 L961.3 455.1 L963 451.2 L964.8 447.3 L966.6 443.4 L968.4 439.5 L970.2 435.7 L972 431.9 L973.8 428.2 L975.6 424.5 L977.3 420.8 L979.1 417.2 L980.9 413.7 L982.7 410.2 L984.5 406.7 L986.3 403.3 L988.1 399.9 L989.9 396.6 L991.7 393.4 L993.4 390.2 L995.2 387 L997 384 L998.8 380.9 L1000.6 378 L1002.4 375.1 L1004.2 372.2 L1006 369.4 L1007.8 366.7 L1009.5 364 L1011.3 361.4 L1013.1 358.9 L1014.9 356.4 L1016.7 354 L1018.5 351.7 L1020.3 349.4 L1022.1 347.2 L1023.9 345.1 L1025.6 343 L1027.4 341.1 L1029.2 339.1 L1031 337.3 L1032.8 335.6 L1034.6 333.9 L1036.4 332.3 L1038.2 330.8 L1040 329.3 L1041.7 328 L1043.5 326.7 L1045.3 325.5 L1047.1 324.4 L1048.9 323.3 L1050.7 322.4 L1052.5 321.5 L1054.3 320.7 L1056.1 320 L1057.8 319.3 L1059.6 318.7 L1061.4 318.2 L1063.2 317.7 L1065 317.3 L1066.8 316.9 L1068.6 316.5 L1070.4 316.2 L1072.1 316 L1073.9 315.7 L1075.7 315.5 L1077.5 315.4 L1079.3 315.2 L1081.1 315.1 L1082.9 315 L1084.7 314.9 L1086.5 314.8 L1088.2 314.7 L1090 314.6 L1091.8 314.5 L1093.6 314.4 L1095.4 314.2 L1097.2 314.1 L1099 314 L1100.8 313.8 L1102.6 313.6 L1104.3 313.4 L1106.1 313.1 L1107.9 312.8 L1109.7 312.5 L1111.5 312.1" fill="none" stroke="#d95319" stroke-width="2.0" stroke-linejoin="round"/><path d="M1334.2 590.8 L1336 590.8 L1337.8 590.8 L1339.6 590.8 L1341.4 590.8 L1343.2 590.8 L1344.9 590.8 L1346.7 590.8 L1348.5 590.8 L1350.3 590.8 L1352.1 590.8 L1353.9 590.8 L1355.7 590.8 L1357.5 590.8 L1359.3 590.8 L1361.1 590.8 L1362.8 590.8 L1364.6 590.8 L1366.4 590.8 L1368.2 590.8 L1370 590.8 L1371.8 590.7 L1373.6 590.7 L1375.4 590.7 L1377.2 590.7 L1379 590.7 L1380.8 590.7 L1382.5 590.7 L1384.3 590.7 L1386.1 590.7 L1387.9 590.7 L1389.7 590.7 L1391.5 590.7 L1393.3 590.7 L1395.1 590.7 L1396.9 590.7 L1398.7 590.7 L1400.5 590.7 L1402.2 590.7 L1404 590.7 L1405.8 590.7 L1407.6 590.7 L1409.4 590.6 L1411.2 590.6 L1413 590.6 L1414.8 590.6 L1416.6 590.6 L1418.4 590.6 L1420.1 590.6 L1421.9 590.6 L1423.7 590.6 L1425.5 590.6 L1427.3 590.6 L1429.1 590.6 L1430.9 590.6 L1432.7 590.6 L1434.5 590.6 L1436.3 590.6 L1438.1 590.5 L1439.8 590.5 L1441.6 590.5 L1443.4 590.5 L1445.2 590.5 L1447 590.5 L1448.8 590.5 L1450.6 590.5 L1452.4 590.5 L1454.2 590.5 L1456 590.5 L1457.7 590.5 L1459.5 590.5 L1461.3 590.4 L1463.1 590.4 L1464.9 590.4 L1466.7 590.4 L1468.5 590.4 L1470.3 590.4 L1472.1 590.4 L1473.9 590.4 L1475.7 590.4 L1477.4 590.4 L1479.2 590.3 L1481 590.3 L1482.8 590.3 L1484.6 590.3 L1486.4 590.3 L1488.2 590.3 L1490 590.3 L1491.8 590.3 L1493.6 590.2 L1495.4 590.2 L1497.1 590.2 L1498.9 590.2 L1500.7 590.2 L1502.5 590.2 L1504.3 590.2 L1506.1 590.2 L1507.9 590.1 L1509.7 590.1 L1511.5 590.1 L1513.3 590.1 L1515 590.1 L1516.8 590.1 L1518.6 590.1 L1520.4 590.1 L1522.2 590 L1524 590 L1525.8 590 L1527.6 590 L1529.4 590 L1531.2 590 L1533 590 L1534.7 590 L1536.5 590 L1538.3 590 L1540.1 589.9 L1541.9 589.9 L1543.7 589.9 L1545.5 589.9 L1547.3 589.9 L1549.1 589.9 L1550.9 589.9 L1552.6 589.9 L1554.4 589.9 L1556.2 589.8 L1558 589.8 L1559.8 589.8 L1561.6 589.8 L1563.4 589.8 L1565.2 589.8 L1567 589.8 L1568.8 589.8 L1570.6 589.8 L1572.3 589.8 L1574.1 589.7 L1575.9 589.7 L1577.7 589.7 L1579.5 589.7 L1581.3 589.7 L1583.1 589.7 L1584.9 589.7 L1586.7 589.7 L1588.5 589.7 L1590.3 589.7 L1592 589.6 L1593.8 589.6 L1595.6 589.6 L1597.4 589.6 L1599.2 589.6 L1601 589.6 L1602.8 589.6 L1604.6 589.6 L1606.4 589.6 L1608.2 589.6 L1609.9 589.5 L1611.7 589.5 L1613.5 589.5 L1615.3 589.5 L1617.1 589.5 L1618.9 589.5 L1618.9 603.5 L1617.1 603.5 L1615.3 603.5 L1613.5 603.5 L1611.7 603.5 L1609.9 603.5 L1608.2 603.6 L1606.4 603.6 L1604.6 603.6 L1602.8 603.6 L1601 603.6 L1599.2 603.6 L1597.4 603.6 L1595.6 603.6 L1593.8 603.6 L1592 603.6 L1590.3 603.7 L1588.5 603.7 L1586.7 603.7 L1584.9 603.7 L1583.1 603.7 L1581.3 603.7 L1579.5 603.7 L1577.7 603.7 L1575.9 603.7 L1574.1 603.7 L1572.3 603.8 L1570.6 603.8 L1568.8 603.8 L1567 603.8 L1565.2 603.8 L1563.4 603.8 L1561.6 603.8 L1559.8 603.8 L1558 603.8 L1556.2 603.8 L1554.4 603.9 L1552.6 603.9 L1550.9 603.9 L1549.1 603.9 L1547.3 603.9 L1545.5 603.9 L1543.7 603.9 L1541.9 603.9 L1540.1 603.9 L1538.3 604 L1536.5 604 L1534.7 604 L1533 604 L1531.2 604 L1529.4 604 L1527.6 604 L1525.8 604 L1524 604 L1522.2 604 L1520.4 604.1 L1518.6 604.1 L1516.8 604.1 L1515 604.1 L1513.3 604.1 L1511.5 604.1 L1509.7 604.1 L1507.9 604.1 L1506.1 604.2 L1504.3 604.2 L1502.5 604.2 L1500.7 604.2 L1498.9 604.2 L1497.1 604.2 L1495.4 604.2 L1493.6 604.2 L1491.8 604.3 L1490 604.3 L1488.2 604.3 L1486.4 604.3 L1484.6 604.3 L1482.8 604.3 L1481 604.3 L1479.2 604.3 L1477.4 604.4 L1475.7 604.4 L1473.9 604.4 L1472.1 604.4 L1470.3 604.4 L1468.5 604.4 L1466.7 604.4 L1464.9 604.4 L1463.1 604.4 L1461.3 604.4 L1459.5 604.5 L1457.7 604.5 L1456 604.5 L1454.2 604.5 L1452.4 604.5 L1450.6 604.5 L1448.8 604.5 L1447 604.5 L1445.2 604.5 L1443.4 604.5 L1441.6 604.5 L1439.8 604.5 L1438.1 604.5 L1436.3 604.6 L1434.5 604.6 L1432.7 604.6 L1430.9 604.6 L1429.1 604.6 L1427.3 604.6 L1425.5 604.6 L1423.7 604.6 L1421.9 604.6 L1420.1 604.6 L1418.4 604.6 L1416.6 604.6 L1414.8 604.6 L1413 604.6 L1411.2 604.6 L1409.4 604.6 L1407.6 604.7 L1405.8 604.7 L1404 604.7 L1402.2 604.7 L1400.5 604.7 L1398.7 604.7 L1396.9 604.7 L1395.1 604.7 L1393.3 604.7 L1391.5 604.7 L1389.7 604.7 L1387.9 604.7 L1386.1 604.7 L1384.3 604.7 L1382.5 604.7 L1380.8 604.7 L1379 604.7 L1377.2 604.7 L1375.4 604.7 L1373.6 604.7 L1371.8 604.7 L1370 604.8 L1368.2 604.8 L1366.4 604.8 L1364.6 604.8 L1362.8 604.8 L1361.1 604.8 L1359.3 604.8 L1357.5 604.8 L1355.7 604.8 L1353.9 604.8 L1352.1 604.8 L1350.3 604.8 L1348.5 604.8 L1346.7 604.8 L1344.9 604.8 L1343.2 604.8 L1341.4 604.8 L1339.6 604.8 L1337.8 604.8 L1336 604.8 L1334.2 604.8 Z" fill="rgb(236,168,30)" fill-opacity="0.3" stroke="none"/><path d="M1334.2 305.4 L1336 305.6 L1337.8 305.7 L1339.6 305.9 L1341.4 306 L1343.2 306.2 L1344.9 306.4 L1346.7 306.6 L1348.5 306.8 L1350.3 307.1 L1352.1 307.4 L1353.9 307.6 L1355.7 308 L1357.5 308.3 L1359.3 308.7 L1361.1 309.1 L1362.8 309.5 L1364.6 309.9 L1366.4 310.4 L1368.2 311 L1370 311.5 L1371.8 312.2 L1373.6 312.8 L1375.4 313.5 L1377.2 314.3 L1379 315.1 L1380.8 316 L1382.5 317 L1384.3 318 L1386.1 319.1 L1387.9 320.3 L1389.7 321.6 L1391.5 322.9 L1393.3 324.4 L1395.1 325.9 L1396.9 327.6 L1398.7 329.4 L1400.5 331.3 L1402.2 333.3 L1404 335.4 L1405.8 337.7 L1407.6 340.1 L1409.4 342.7 L1411.2 345.4 L1413 348.3 L1414.8 351.4 L1416.6 354.6 L1418.4 358.1 L1420.1 361.7 L1421.9 365.4 L1423.7 369.4 L1425.5 373.5 L1427.3 377.9 L1429.1 382.4 L1430.9 387.1 L1432.7 391.9 L1434.5 397 L1436.3 402.2 L1438.1 407.5 L1439.8 412.9 L1441.6 418.5 L1443.4 424.2 L1445.2 430 L1447 435.8 L1448.8 441.7 L1450.6 447.7 L1452.4 453.6 L1454.2 459.6 L1456 465.5 L1457.7 471.3 L1459.5 477.1 L1461.3 482.9 L1463.1 488.5 L1464.9 494 L1466.7 499.4 L1468.5 504.6 L1470.3 509.7 L1472.1 514.6 L1473.9 519.3 L1475.7 523.9 L1477.4 528.2 L1479.2 532.4 L1481 536.4 L1482.8 540.2 L1484.6 543.8 L1486.4 547.3 L1488.2 550.5 L1490 553.6 L1491.8 556.5 L1493.6 559.2 L1495.4 561.7 L1497.1 564.1 L1498.9 566.4 L1500.7 568.5 L1502.5 570.4 L1504.3 572.2 L1506.1 573.9 L1507.9 575.5 L1509.7 577 L1511.5 578.4 L1513.3 579.6 L1515 580.8 L1516.8 581.9 L1518.6 582.9 L1520.4 583.8 L1522.2 584.7 L1524 585.5 L1525.8 586.2 L1527.6 586.9 L1529.4 587.5 L1531.2 588.1 L1533 588.6 L1534.7 589.1 L1536.5 589.6 L1538.3 590 L1540.1 590.4 L1541.9 590.7 L1543.7 591.1 L1545.5 591.4 L1547.3 591.7 L1549.1 591.9 L1550.9 592.2 L1552.6 592.4 L1554.4 592.6 L1556.2 592.8 L1558 593 L1559.8 593.1 L1561.6 593.3 L1563.4 593.4 L1565.2 593.5 L1567 593.6 L1568.8 593.7 L1570.6 593.8 L1572.3 593.9 L1574.1 594 L1575.9 594.1 L1577.7 594.2 L1579.5 594.2 L1581.3 594.3 L1583.1 594.3 L1584.9 594.4 L1586.7 594.4 L1588.5 594.5 L1590.3 594.5 L1592 594.6 L1593.8 594.6 L1595.6 594.6 L1597.4 594.7 L1599.2 594.7 L1601 594.7 L1602.8 594.7 L1604.6 594.8 L1606.4 594.8 L1608.2 594.8 L1609.9 594.8 L1611.7 594.8 L1613.5 594.8 L1615.3 594.8 L1617.1 594.9 L1618.9 594.9 L1618.9 601.9 L1617.1 601.9 L1615.3 601.8 L1613.5 601.8 L1611.7 601.8 L1609.9 601.8 L1608.2 601.8 L1606.4 601.8 L1604.6 601.8 L1602.8 601.7 L1601 601.7 L1599.2 601.7 L1597.4 601.7 L1595.6 601.6 L1593.8 601.6 L1592 601.6 L1590.3 601.5 L1588.5 601.5 L1586.7 601.4 L1584.9 601.4 L1583.1 601.3 L1581.3 601.3 L1579.5 601.2 L1577.7 601.2 L1575.9 601.1 L1574.1 601 L1572.3 600.9 L1570.6 600.8 L1568.8 600.8 L1567 600.6 L1565.2 600.5 L1563.4 600.4 L1561.6 600.3 L1559.8 600.1 L1558 600 L1556.2 599.8 L1554.4 599.6 L1552.6 599.4 L1550.9 599.2 L1549.1 599 L1547.3 598.7 L1545.5 598.5 L1543.7 598.2 L1541.9 597.8 L1540.1 597.5 L1538.3 597.1 L1536.5 596.7 L1534.7 596.3 L1533 595.8 L1531.2 595.3 L1529.4 594.8 L1527.6 594.2 L1525.8 593.6 L1524 592.9 L1522.2 592.2 L1520.4 591.4 L1518.6 590.5 L1516.8 589.6 L1515 588.7 L1513.3 587.6 L1511.5 586.5 L1509.7 585.3 L1507.9 584 L1506.1 582.6 L1504.3 581.1 L1502.5 579.6 L1500.7 577.9 L1498.9 576.1 L1497.1 574.2 L1495.4 572.1 L1493.6 570 L1491.8 567.6 L1490 565.2 L1488.2 562.6 L1486.4 559.8 L1484.6 556.8 L1482.8 553.7 L1481 550.5 L1479.2 547 L1477.4 543.4 L1475.7 539.6 L1473.9 535.5 L1472.1 531.4 L1470.3 527 L1468.5 522.4 L1466.7 517.7 L1464.9 512.8 L1463.1 507.7 L1461.3 502.5 L1459.5 497.2 L1457.7 491.7 L1456 486.1 L1454.2 480.3 L1452.4 474.6 L1450.6 468.7 L1448.8 462.8 L1447 456.8 L1445.2 450.9 L1443.4 445 L1441.6 439.1 L1439.8 433.2 L1438.1 427.4 L1436.3 421.7 L1434.5 416.1 L1432.7 410.7 L1430.9 405.3 L1429.1 400.1 L1427.3 395.1 L1425.5 390.2 L1423.7 385.5 L1421.9 381 L1420.1 376.7 L1418.4 372.5 L1416.6 368.6 L1414.8 364.8 L1413 361.2 L1411.2 357.9 L1409.4 354.6 L1407.6 351.6 L1405.8 348.8 L1404 346.1 L1402.2 343.6 L1400.5 341.2 L1398.7 339 L1396.9 337 L1395.1 335 L1393.3 333.2 L1391.5 331.6 L1389.7 330 L1387.9 328.6 L1386.1 327.2 L1384.3 326 L1382.5 324.8 L1380.8 323.8 L1379 322.8 L1377.2 321.9 L1375.4 321 L1373.6 320.2 L1371.8 319.5 L1370 318.8 L1368.2 318.2 L1366.4 317.7 L1364.6 317.1 L1362.8 316.6 L1361.1 316.2 L1359.3 315.8 L1357.5 315.4 L1355.7 315 L1353.9 314.7 L1352.1 314.4 L1350.3 314.1 L1348.5 313.9 L1346.7 313.7 L1344.9 313.4 L1343.2 313.2 L1341.4 313.1 L1339.6 312.9 L1337.8 312.7 L1336 312.6 L1334.2 312.5 Z" fill="rgb(217,83,25)" fill-opacity="0.3" stroke="none"/><path d="M1334.2 593.9 L1336 593.9 L1337.8 593.7 L1339.6 593.6 L1341.4 593.5 L1343.2 593.4 L1344.9 593.2 L1346.7 593.1 L1348.5 592.9 L1350.3 592.7 L1352.1 592.5 L1353.9 592.2 L1355.7 592 L1357.5 591.7 L1359.3 591.4 L1361.1 591.1 L1362.8 590.7 L1364.6 590.4 L1366.4 589.9 L1368.2 589.5 L1370 589 L1371.8 588.4 L1373.6 587.8 L1375.4 587.1 L1377.2 586.4 L1379 585.7 L1380.8 584.8 L1382.5 583.9 L1384.3 582.9 L1386.1 581.8 L1387.9 580.6 L1389.7 579.3 L1391.5 577.9 L1393.3 576.4 L1395.1 574.7 L1396.9 572.9 L1398.7 571 L1400.5 568.9 L1402.2 566.7 L1404 564.3 L1405.8 561.7 L1407.6 559 L1409.4 556 L1411.2 552.8 L1413 549.5 L1414.8 545.9 L1416.6 542.1 L1418.4 538.1 L1420.1 533.9 L1421.9 529.4 L1423.7 524.8 L1425.5 519.9 L1427.3 514.8 L1429.1 509.5 L1430.9 504.1 L1432.7 498.4 L1434.5 492.6 L1436.3 486.6 L1438.1 480.5 L1439.8 474.3 L1441.6 468.1 L1443.4 461.7 L1445.2 455.3 L1447 448.9 L1448.8 442.5 L1450.6 436.2 L1452.4 429.9 L1454.2 423.7 L1456 417.6 L1457.7 411.6 L1459.5 405.8 L1461.3 400.1 L1463.1 394.6 L1464.9 389.3 L1466.7 384.2 L1468.5 379.3 L1470.3 374.6 L1472.1 370.1 L1473.9 365.8 L1475.7 361.7 L1477.4 357.9 L1479.2 354.3 L1481 350.8 L1482.8 347.6 L1484.6 344.5 L1486.4 341.7 L1488.2 339 L1490 336.5 L1491.8 334.1 L1493.6 331.9 L1495.4 329.9 L1497.1 328 L1498.9 326.2 L1500.7 324.5 L1502.5 323 L1504.3 321.6 L1506.1 320.2 L1507.9 319 L1509.7 317.8 L1511.5 316.8 L1513.3 315.8 L1515 314.8 L1516.8 314 L1518.6 313.2 L1520.4 312.5 L1522.2 311.8 L1524 311.2 L1525.8 310.6 L1527.6 310 L1529.4 309.5 L1531.2 309.1 L1533 308.7 L1534.7 308.3 L1536.5 307.9 L1538.3 307.6 L1540.1 307.3 L1541.9 307 L1543.7 306.8 L1545.5 306.5 L1547.3 306.3 L1549.1 306.1 L1550.9 305.9 L1552.6 305.7 L1554.4 305.6 L1556.2 305.5 L1558 305.3 L1559.8 305.2 L1561.6 305.1 L1563.4 305 L1565.2 304.9 L1567 304.8 L1568.8 304.7 L1570.6 304.7 L1572.3 304.6 L1574.1 304.5 L1575.9 304.5 L1577.7 304.4 L1579.5 304.4 L1581.3 304.3 L1583.1 304.3 L1584.9 304.3 L1586.7 304.2 L1588.5 304.2 L1590.3 304.2 L1592 304.2 L1593.8 304.1 L1595.6 304.1 L1597.4 304.1 L1599.2 304.1 L1601 304.1 L1602.8 304 L1604.6 304 L1606.4 304 L1608.2 304 L1609.9 304 L1611.7 304 L1613.5 304 L1615.3 304 L1617.1 304 L1618.9 304 L1618.9 311 L1617.1 311 L1615.3 311 L1613.5 311 L1611.7 311 L1609.9 311 L1608.2 311 L1606.4 311 L1604.6 311 L1602.8 311 L1601 311.1 L1599.2 311.1 L1597.4 311.1 L1595.6 311.1 L1593.8 311.1 L1592 311.2 L1590.3 311.2 L1588.5 311.2 L1586.7 311.2 L1584.9 311.3 L1583.1 311.3 L1581.3 311.3 L1579.5 311.4 L1577.7 311.4 L1575.9 311.5 L1574.1 311.5 L1572.3 311.6 L1570.6 311.7 L1568.8 311.7 L1567 311.8 L1565.2 311.9 L1563.4 312 L1561.6 312.1 L1559.8 312.2 L1558 312.3 L1556.2 312.5 L1554.4 312.6 L1552.6 312.8 L1550.9 313 L1549.1 313.1 L1547.3 313.3 L1545.5 313.6 L1543.7 313.8 L1541.9 314.1 L1540.1 314.4 L1538.3 314.7 L1536.5 315.1 L1534.7 315.4 L1533 315.9 L1531.2 316.3 L1529.4 316.8 L1527.6 317.3 L1525.8 317.9 L1524 318.6 L1522.2 319.3 L1520.4 320 L1518.6 320.9 L1516.8 321.8 L1515 322.8 L1513.3 323.9 L1511.5 325 L1509.7 326.3 L1507.9 327.7 L1506.1 329.2 L1504.3 330.8 L1502.5 332.5 L1500.7 334.4 L1498.9 336.5 L1497.1 338.7 L1495.4 341 L1493.6 343.6 L1491.8 346.3 L1490 349.2 L1488.2 352.3 L1486.4 355.7 L1484.6 359.2 L1482.8 362.9 L1481 366.9 L1479.2 371.1 L1477.4 375.5 L1475.7 380.1 L1473.9 384.9 L1472.1 390 L1470.3 395.2 L1468.5 400.6 L1466.7 406.3 L1464.9 412 L1463.1 418 L1461.3 424 L1459.5 430.2 L1457.7 436.5 L1456 442.8 L1454.2 449.2 L1452.4 455.6 L1450.6 462 L1448.8 468.3 L1447 474.6 L1445.2 480.9 L1443.4 487 L1441.6 493 L1439.8 498.9 L1438.1 504.6 L1436.3 510.1 L1434.5 515.5 L1432.7 520.6 L1430.9 525.6 L1429.1 530.3 L1427.3 534.9 L1425.5 539.2 L1423.7 543.3 L1421.9 547.2 L1420.1 550.9 L1418.4 554.3 L1416.6 557.6 L1414.8 560.7 L1413 563.6 L1411.2 566.3 L1409.4 568.9 L1407.6 571.2 L1405.8 573.5 L1404 575.6 L1402.2 577.5 L1400.5 579.3 L1398.7 581 L1396.9 582.6 L1395.1 584 L1393.3 585.4 L1391.5 586.6 L1389.7 587.8 L1387.9 588.9 L1386.1 589.9 L1384.3 590.8 L1382.5 591.7 L1380.8 592.5 L1379 593.3 L1377.2 594 L1375.4 594.6 L1373.6 595.2 L1371.8 595.7 L1370 596.2 L1368.2 596.7 L1366.4 597.1 L1364.6 597.5 L1362.8 597.9 L1361.1 598.2 L1359.3 598.5 L1357.5 598.8 L1355.7 599.1 L1353.9 599.3 L1352.1 599.5 L1350.3 599.7 L1348.5 599.9 L1346.7 600.1 L1344.9 600.2 L1343.2 600.4 L1341.4 600.5 L1339.6 600.6 L1337.8 600.8 L1336 600.9 L1334.2 601 Z" fill="rgb(40,160,40)" fill-opacity="0.3" stroke="none"/><path d="M1334.2 597.8 L1336 597.8 L1337.8 597.8 L1339.6 597.8 L1341.4 597.8 L1343.2 597.8 L1344.9 597.8 L1346.7 597.8 L1348.5 597.8 L1350.3 597.8 L1352.1 597.8 L1353.9 597.8 L1355.7 597.8 L1357.5 597.8 L1359.3 597.8 L1361.1 597.8 L1362.8 597.8 L1364.6 597.8 L1366.4 597.8 L1368.2 597.8 L1370 597.8 L1371.8 597.7 L1373.6 597.7 L1375.4 597.7 L1377.2 597.7 L1379 597.7 L1380.8 597.7 L1382.5 597.7 L1384.3 597.7 L1386.1 597.7 L1387.9 597.7 L1389.7 597.7 L1391.5 597.7 L1393.3 597.7 L1395.1 597.7 L1396.9 597.7 L1398.7 597.7 L1400.5 597.7 L1402.2 597.7 L1404 597.7 L1405.8 597.7 L1407.6 597.7 L1409.4 597.6 L1411.2 597.6 L1413 597.6 L1414.8 597.6 L1416.6 597.6 L1418.4 597.6 L1420.1 597.6 L1421.9 597.6 L1423.7 597.6 L1425.5 597.6 L1427.3 597.6 L1429.1 597.6 L1430.9 597.6 L1432.7 597.6 L1434.5 597.6 L1436.3 597.6 L1438.1 597.5 L1439.8 597.5 L1441.6 597.5 L1443.4 597.5 L1445.2 597.5 L1447 597.5 L1448.8 597.5 L1450.6 597.5 L1452.4 597.5 L1454.2 597.5 L1456 597.5 L1457.7 597.5 L1459.5 597.5 L1461.3 597.4 L1463.1 597.4 L1464.9 597.4 L1466.7 597.4 L1468.5 597.4 L1470.3 597.4 L1472.1 597.4 L1473.9 597.4 L1475.7 597.4 L1477.4 597.4 L1479.2 597.3 L1481 597.3 L1482.8 597.3 L1484.6 597.3 L1486.4 597.3 L1488.2 597.3 L1490 597.3 L1491.8 597.3 L1493.6 597.2 L1495.4 597.2 L1497.1 597.2 L1498.9 597.2 L1500.7 597.2 L1502.5 597.2 L1504.3 597.2 L1506.1 597.2 L1507.9 597.1 L1509.7 597.1 L1511.5 597.1 L1513.3 597.1 L1515 597.1 L1516.8 597.1 L1518.6 597.1 L1520.4 597.1 L1522.2 597 L1524 597 L1525.8 597 L1527.6 597 L1529.4 597 L1531.2 597 L1533 597 L1534.7 597 L1536.5 597 L1538.3 597 L1540.1 596.9 L1541.9 596.9 L1543.7 596.9 L1545.5 596.9 L1547.3 596.9 L1549.1 596.9 L1550.9 596.9 L1552.6 596.9 L1554.4 596.9 L1556.2 596.8 L1558 596.8 L1559.8 596.8 L1561.6 596.8 L1563.4 596.8 L1565.2 596.8 L1567 596.8 L1568.8 596.8 L1570.6 596.8 L1572.3 596.8 L1574.1 596.7 L1575.9 596.7 L1577.7 596.7 L1579.5 596.7 L1581.3 596.7 L1583.1 596.7 L1584.9 596.7 L1586.7 596.7 L1588.5 596.7 L1590.3 596.7 L1592 596.6 L1593.8 596.6 L1595.6 596.6 L1597.4 596.6 L1599.2 596.6 L1601 596.6 L1602.8 596.6 L1604.6 596.6 L1606.4 596.6 L1608.2 596.6 L1609.9 596.5 L1611.7 596.5 L1613.5 596.5 L1615.3 596.5 L1617.1 596.5 L1618.9 596.5" fill="none" stroke="#edb120" stroke-width="2.0" stroke-linejoin="round"/><path d="M1334.2 308.9 L1336 309.1 L1337.8 309.2 L1339.6 309.4 L1341.4 309.5 L1343.2 309.7 L1344.9 309.9 L1346.7 310.1 L1348.5 310.4 L1350.3 310.6 L1352.1 310.9 L1353.9 311.2 L1355.7 311.5 L1357.5 311.8 L1359.3 312.2 L1361.1 312.6 L1362.8 313.1 L1364.6 313.5 L1366.4 314 L1368.2 314.6 L1370 315.2 L1371.8 315.8 L1373.6 316.5 L1375.4 317.3 L1377.2 318.1 L1379 319 L1380.8 319.9 L1382.5 320.9 L1384.3 322 L1386.1 323.2 L1387.9 324.4 L1389.7 325.8 L1391.5 327.2 L1393.3 328.8 L1395.1 330.5 L1396.9 332.3 L1398.7 334.2 L1400.5 336.2 L1402.2 338.4 L1404 340.8 L1405.8 343.2 L1407.6 345.9 L1409.4 348.7 L1411.2 351.6 L1413 354.8 L1414.8 358.1 L1416.6 361.6 L1418.4 365.3 L1420.1 369.2 L1421.9 373.2 L1423.7 377.5 L1425.5 381.9 L1427.3 386.5 L1429.1 391.3 L1430.9 396.2 L1432.7 401.3 L1434.5 406.5 L1436.3 411.9 L1438.1 417.5 L1439.8 423.1 L1441.6 428.8 L1443.4 434.6 L1445.2 440.4 L1447 446.3 L1448.8 452.3 L1450.6 458.2 L1452.4 464.1 L1454.2 470 L1456 475.8 L1457.7 481.5 L1459.5 487.2 L1461.3 492.7 L1463.1 498.1 L1464.9 503.4 L1466.7 508.5 L1468.5 513.5 L1470.3 518.3 L1472.1 523 L1473.9 527.4 L1475.7 531.7 L1477.4 535.8 L1479.2 539.7 L1481 543.4 L1482.8 547 L1484.6 550.3 L1486.4 553.5 L1488.2 556.5 L1490 559.4 L1491.8 562.1 L1493.6 564.6 L1495.4 566.9 L1497.1 569.2 L1498.9 571.2 L1500.7 573.2 L1502.5 575 L1504.3 576.7 L1506.1 578.3 L1507.9 579.8 L1509.7 581.1 L1511.5 582.4 L1513.3 583.6 L1515 584.7 L1516.8 585.8 L1518.6 586.7 L1520.4 587.6 L1522.2 588.4 L1524 589.2 L1525.8 589.9 L1527.6 590.5 L1529.4 591.1 L1531.2 591.7 L1533 592.2 L1534.7 592.7 L1536.5 593.2 L1538.3 593.6 L1540.1 593.9 L1541.9 594.3 L1543.7 594.6 L1545.5 594.9 L1547.3 595.2 L1549.1 595.5 L1550.9 595.7 L1552.6 595.9 L1554.4 596.1 L1556.2 596.3 L1558 596.5 L1559.8 596.6 L1561.6 596.8 L1563.4 596.9 L1565.2 597 L1567 597.1 L1568.8 597.2 L1570.6 597.3 L1572.3 597.4 L1574.1 597.5 L1575.9 597.6 L1577.7 597.7 L1579.5 597.7 L1581.3 597.8 L1583.1 597.8 L1584.9 597.9 L1586.7 597.9 L1588.5 598 L1590.3 598 L1592 598.1 L1593.8 598.1 L1595.6 598.1 L1597.4 598.2 L1599.2 598.2 L1601 598.2 L1602.8 598.2 L1604.6 598.3 L1606.4 598.3 L1608.2 598.3 L1609.9 598.3 L1611.7 598.3 L1613.5 598.3 L1615.3 598.3 L1617.1 598.4 L1618.9 598.4" fill="none" stroke="#d95319" stroke-width="2.0" stroke-linejoin="round"/><path d="M1334.2 597.5 L1336 597.4 L1337.8 597.3 L1339.6 597.1 L1341.4 597 L1343.2 596.9 L1344.9 596.7 L1346.7 596.6 L1348.5 596.4 L1350.3 596.2 L1352.1 596 L1353.9 595.8 L1355.7 595.5 L1357.5 595.3 L1359.3 595 L1361.1 594.7 L1362.8 594.3 L1364.6 593.9 L1366.4 593.5 L1368.2 593.1 L1370 592.6 L1371.8 592.1 L1373.6 591.5 L1375.4 590.9 L1377.2 590.2 L1379 589.5 L1380.8 588.7 L1382.5 587.8 L1384.3 586.9 L1386.1 585.8 L1387.9 584.7 L1389.7 583.6 L1391.5 582.3 L1393.3 580.9 L1395.1 579.4 L1396.9 577.8 L1398.7 576 L1400.5 574.1 L1402.2 572.1 L1404 569.9 L1405.8 567.6 L1407.6 565.1 L1409.4 562.4 L1411.2 559.6 L1413 556.5 L1414.8 553.3 L1416.6 549.9 L1418.4 546.2 L1420.1 542.4 L1421.9 538.3 L1423.7 534 L1425.5 529.5 L1427.3 524.8 L1429.1 519.9 L1430.9 514.8 L1432.7 509.5 L1434.5 504 L1436.3 498.4 L1438.1 492.6 L1439.8 486.6 L1441.6 480.5 L1443.4 474.4 L1445.2 468.1 L1447 461.8 L1448.8 455.4 L1450.6 449.1 L1452.4 442.7 L1454.2 436.4 L1456 430.2 L1457.7 424 L1459.5 418 L1461.3 412.1 L1463.1 406.3 L1464.9 400.7 L1466.7 395.2 L1468.5 390 L1470.3 384.9 L1472.1 380 L1473.9 375.4 L1475.7 370.9 L1477.4 366.7 L1479.2 362.7 L1481 358.9 L1482.8 355.3 L1484.6 351.9 L1486.4 348.7 L1488.2 345.7 L1490 342.9 L1491.8 340.2 L1493.6 337.8 L1495.4 335.5 L1497.1 333.3 L1498.9 331.3 L1500.7 329.5 L1502.5 327.8 L1504.3 326.2 L1506.1 324.7 L1507.9 323.3 L1509.7 322.1 L1511.5 320.9 L1513.3 319.8 L1515 318.8 L1516.8 317.9 L1518.6 317 L1520.4 316.3 L1522.2 315.5 L1524 314.9 L1525.8 314.3 L1527.6 313.7 L1529.4 313.2 L1531.2 312.7 L1533 312.3 L1534.7 311.9 L1536.5 311.5 L1538.3 311.1 L1540.1 310.8 L1541.9 310.6 L1543.7 310.3 L1545.5 310 L1547.3 309.8 L1549.1 309.6 L1550.9 309.4 L1552.6 309.3 L1554.4 309.1 L1556.2 309 L1558 308.8 L1559.8 308.7 L1561.6 308.6 L1563.4 308.5 L1565.2 308.4 L1567 308.3 L1568.8 308.2 L1570.6 308.2 L1572.3 308.1 L1574.1 308 L1575.9 308 L1577.7 307.9 L1579.5 307.9 L1581.3 307.8 L1583.1 307.8 L1584.9 307.8 L1586.7 307.7 L1588.5 307.7 L1590.3 307.7 L1592 307.7 L1593.8 307.6 L1595.6 307.6 L1597.4 307.6 L1599.2 307.6 L1601 307.6 L1602.8 307.5 L1604.6 307.5 L1606.4 307.5 L1608.2 307.5 L1609.9 307.5 L1611.7 307.5 L1613.5 307.5 L1615.3 307.5 L1617.1 307.5 L1618.9 307.5" fill="none" stroke="#1f8f1f" stroke-width="2.0" stroke-linejoin="round"/><g fill="none" stroke="#edb120" stroke-width="1.0"><circle cx="110.7" cy="597.8" r="4.7"/><circle cx="130.2" cy="597.8" r="4.7"/><circle cx="149.7" cy="597.8" r="4.7"/><circle cx="169.2" cy="597.8" r="4.7"/><circle cx="188.7" cy="597.8" r="4.7"/><circle cx="208.2" cy="597.8" r="4.7"/><circle cx="227.8" cy="597.8" r="4.7"/><circle cx="247.3" cy="597.8" r="4.7"/><circle cx="266.8" cy="597.8" r="4.7"/><circle cx="286.3" cy="597.8" r="4.7"/><circle cx="305.8" cy="597.8" r="4.7"/><circle cx="325.3" cy="597.8" r="4.7"/><circle cx="344.8" cy="597.8" r="4.7"/><circle cx="364.3" cy="597.8" r="4.7"/><circle cx="383.8" cy="597.8" r="4.7"/><circle cx="403.4" cy="597.8" r="4.7"/><circle cx="422.9" cy="597.8" r="4.7"/><circle cx="442.4" cy="597.8" r="4.7"/><circle cx="461.9" cy="597.8" r="4.7"/><circle cx="481.4" cy="597.8" r="4.7"/><circle cx="500.9" cy="597.8" r="4.7"/><circle cx="520.4" cy="597.8" r="4.7"/><circle cx="539.9" cy="597.8" r="4.7"/><circle cx="559.4" cy="597.8" r="4.7"/><circle cx="578.9" cy="597.8" r="4.7"/><circle cx="598.5" cy="597.8" r="4.7"/><circle cx="618" cy="594.7" r="4.7"/><path d="M613.3 594.7h9.4" stroke-width="1.6"/><circle cx="637.5" cy="596.4" r="4.7"/><path d="M632.8 596.4h9.4" stroke-width="1.6"/><circle cx="657" cy="593" r="4.7"/><path d="M652.3 593h9.4" stroke-width="1.6"/><circle cx="676.5" cy="588" r="4.7"/><path d="M676.5 587.1V588.9M671.8 587.1h9.4M671.8 588.9h9.4"/><circle cx="696" cy="586.7" r="4.7"/><path d="M696 585.7V587.7M691.3 585.7h9.4M691.3 587.7h9.4"/><circle cx="715.5" cy="578" r="4.7"/><path d="M715.5 576.6V579.4M710.8 576.6h9.4M710.8 579.4h9.4"/><circle cx="735" cy="570.7" r="4.7"/><path d="M735 569V572.4M730.3 569h9.4M730.3 572.4h9.4"/><circle cx="754.5" cy="576.4" r="4.7"/><path d="M754.5 574.9V577.9M749.8 574.9h9.4M749.8 577.9h9.4"/><circle cx="774" cy="568.7" r="4.7"/><path d="M774 566.9V570.5M769.3 566.9h9.4M769.3 570.5h9.4"/><circle cx="793.6" cy="564" r="4.7"/><path d="M793.6 561.9V566.1M788.9 561.9h9.4M788.9 566.1h9.4"/><circle cx="813.1" cy="574" r="4.7"/><path d="M813.1 572.4V575.6M808.4 572.4h9.4M808.4 575.6h9.4"/><circle cx="832.6" cy="579.1" r="4.7"/><path d="M832.6 577.8V580.4M827.9 577.8h9.4M827.9 580.4h9.4"/><circle cx="852.1" cy="578.3" r="4.7"/><path d="M852.1 576.9V579.7M847.4 576.9h9.4M847.4 579.7h9.4"/><circle cx="871.6" cy="573.4" r="4.7"/><path d="M871.6 571.8V575M866.9 571.8h9.4M866.9 575h9.4"/><circle cx="891.1" cy="566.1" r="4.7"/><path d="M891.1 564.1V568.1M886.4 564.1h9.4M886.4 568.1h9.4"/><circle cx="910.6" cy="573.4" r="4.7"/><path d="M910.6 571.8V575M905.9 571.8h9.4M905.9 575h9.4"/><circle cx="930.1" cy="567.7" r="4.7"/><path d="M930.1 565.8V569.6M925.4 565.8h9.4M925.4 569.6h9.4"/><circle cx="949.6" cy="574.2" r="4.7"/><path d="M949.6 572.6V575.8M944.9 572.6h9.4M944.9 575.8h9.4"/><circle cx="969.1" cy="585.6" r="4.7"/><path d="M969.1 584.6V586.6M964.4 584.6h9.4M964.4 586.6h9.4"/><circle cx="988.7" cy="588.9" r="4.7"/><path d="M988.7 588.1V589.7M984 588.1h9.4M984 589.7h9.4"/><circle cx="1008.2" cy="588.9" r="4.7"/><path d="M1008.2 588.1V589.7M1003.5 588.1h9.4M1003.5 589.7h9.4"/><circle cx="1027.7" cy="593.8" r="4.7"/><path d="M1023 593.8h9.4" stroke-width="1.6"/><circle cx="1047.2" cy="595" r="4.7"/><path d="M1042.5 595h9.4" stroke-width="1.6"/><circle cx="1066.7" cy="596" r="4.7"/><path d="M1062 596h9.4" stroke-width="1.6"/><circle cx="1086.2" cy="597.8" r="4.7"/><circle cx="1105.7" cy="597.8" r="4.7"/><circle cx="1125.2" cy="597.8" r="4.7"/><circle cx="1144.7" cy="597.8" r="4.7"/><circle cx="1164.2" cy="597.8" r="4.7"/><circle cx="1183.8" cy="597.8" r="4.7"/><circle cx="1203.3" cy="597.8" r="4.7"/><circle cx="1222.8" cy="597.8" r="4.7"/><circle cx="1242.3" cy="597.8" r="4.7"/><circle cx="1261.8" cy="597.8" r="4.7"/><circle cx="1281.3" cy="597.8" r="4.7"/><circle cx="1300.8" cy="597.8" r="4.7"/><circle cx="1320.3" cy="597.8" r="4.7"/><circle cx="1339.8" cy="597.8" r="4.7"/><circle cx="1359.3" cy="597.8" r="4.7"/><circle cx="1378.9" cy="597.8" r="4.7"/><circle cx="1398.4" cy="597.8" r="4.7"/><circle cx="1417.9" cy="597.8" r="4.7"/><circle cx="1437.4" cy="597.8" r="4.7"/><circle cx="1456.9" cy="597.8" r="4.7"/><circle cx="1476.4" cy="597.8" r="4.7"/><circle cx="1495.9" cy="597.8" r="4.7"/><circle cx="1515.4" cy="597.8" r="4.7"/><circle cx="1534.9" cy="597.8" r="4.7"/><circle cx="1554.4" cy="597.8" r="4.7"/><circle cx="1574" cy="597.8" r="4.7"/><circle cx="1593.5" cy="597.8" r="4.7"/><circle cx="1613" cy="597.8" r="4.7"/><circle cx="1632.5" cy="597.8" r="4.7"/><circle cx="1652" cy="597.8" r="4.7"/><circle cx="1671.5" cy="597.8" r="4.7"/><circle cx="1691" cy="597.8" r="4.7"/><circle cx="1710.5" cy="597.8" r="4.7"/><circle cx="1730" cy="597.8" r="4.7"/><circle cx="1749.5" cy="597.8" r="4.7"/><circle cx="1769.1" cy="597.8" r="4.7"/><circle cx="1788.6" cy="597.8" r="4.7"/><circle cx="1808.1" cy="597.8" r="4.7"/><circle cx="1827.6" cy="597.8" r="4.7"/></g><g fill="none" stroke="#f06c8c" stroke-width="1.0"><circle cx="832.6" cy="587" r="4.7"/><path d="M832.6 586.1V587.9M827.9 586.1h9.4M827.9 587.9h9.4"/><circle cx="852.1" cy="587" r="4.7"/><path d="M852.1 586.1V587.9M847.4 586.1h9.4M847.4 587.9h9.4"/><circle cx="871.6" cy="588" r="4.7"/><path d="M871.6 587.1V588.9M866.9 587.1h9.4M866.9 588.9h9.4"/><circle cx="891.1" cy="589" r="4.7"/><path d="M891.1 588.2V589.8M886.4 588.2h9.4M886.4 589.8h9.4"/><circle cx="910.6" cy="590" r="4.7"/><path d="M905.9 590h9.4" stroke-width="1.6"/><circle cx="930.1" cy="591" r="4.7"/><path d="M925.4 591h9.4" stroke-width="1.6"/><circle cx="949.6" cy="592" r="4.7"/><path d="M944.9 592h9.4" stroke-width="1.6"/><circle cx="969.1" cy="593.8" r="4.7"/><path d="M964.4 593.8h9.4" stroke-width="1.6"/><circle cx="988.7" cy="595" r="4.7"/><path d="M984 595h9.4" stroke-width="1.6"/><circle cx="1008.2" cy="596" r="4.7"/><path d="M1003.5 596h9.4" stroke-width="1.6"/></g><g fill="none" stroke="#2a2acc" stroke-width="1.0"><circle cx="832.6" cy="593" r="4.7"/><path d="M827.9 593h9.4" stroke-width="1.6"/><circle cx="852.1" cy="595.4" r="4.7"/><path d="M847.4 595.4h9.4" stroke-width="1.6"/><circle cx="871.6" cy="593" r="4.7"/><path d="M866.9 593h9.4" stroke-width="1.6"/><circle cx="891.1" cy="595.4" r="4.7"/><path d="M886.4 595.4h9.4" stroke-width="1.6"/><circle cx="910.6" cy="592.2" r="4.7"/><path d="M905.9 592.2h9.4" stroke-width="1.6"/><circle cx="930.1" cy="593" r="4.7"/><path d="M925.4 593h9.4" stroke-width="1.6"/><circle cx="949.6" cy="583.2" r="4.7"/><path d="M949.6 582.1V584.3M944.9 582.1h9.4M944.9 584.3h9.4"/><circle cx="969.1" cy="565.3" r="4.7"/><path d="M969.1 563.3V567.3M964.4 563.3h9.4M964.4 567.3h9.4"/><circle cx="988.7" cy="576.7" r="4.7"/><path d="M988.7 575.2V578.2M984 575.2h9.4M984 578.2h9.4"/><circle cx="1008.2" cy="587.3" r="4.7"/><path d="M1008.2 586.4V588.2M1003.5 586.4h9.4M1003.5 588.2h9.4"/><circle cx="1027.7" cy="584.8" r="4.7"/><path d="M1027.7 583.7V585.9M1023 583.7h9.4M1023 585.9h9.4"/><circle cx="1047.2" cy="590" r="4.7"/><path d="M1042.5 590h9.4" stroke-width="1.6"/><circle cx="1066.7" cy="593" r="4.7"/><path d="M1062 593h9.4" stroke-width="1.6"/><circle cx="1086.2" cy="595" r="4.7"/><path d="M1081.5 595h9.4" stroke-width="1.6"/><circle cx="1164.2" cy="598" r="4.7"/><circle cx="1203.3" cy="598" r="4.7"/><circle cx="1242.3" cy="598" r="4.7"/><circle cx="1281.3" cy="598" r="4.7"/></g><g fill="none" stroke="#e3121f" stroke-width="1.0"><circle cx="110.7" cy="308.7" r="4.7"/><path d="M106 308.7h9.4" stroke-width="1.6"/><circle cx="130.2" cy="306.5" r="4.7"/><path d="M125.5 306.5h9.4" stroke-width="1.6"/><circle cx="149.7" cy="306.5" r="4.7"/><path d="M145 306.5h9.4" stroke-width="1.6"/><circle cx="169.2" cy="306.5" r="4.7"/><path d="M164.5 306.5h9.4" stroke-width="1.6"/><circle cx="188.7" cy="306.5" r="4.7"/><path d="M184 306.5h9.4" stroke-width="1.6"/><circle cx="208.2" cy="306.5" r="4.7"/><path d="M203.6 306.5h9.4" stroke-width="1.6"/><circle cx="227.8" cy="306.5" r="4.7"/><path d="M223.1 306.5h9.4" stroke-width="1.6"/><circle cx="247.3" cy="307.5" r="4.7"/><path d="M242.6 307.5h9.4" stroke-width="1.6"/><circle cx="266.8" cy="306.5" r="4.7"/><path d="M262.1 306.5h9.4" stroke-width="1.6"/><circle cx="286.3" cy="309" r="4.7"/><path d="M286.3 306V312M281.6 306h9.4M281.6 312h9.4"/><circle cx="305.8" cy="318.3" r="4.7"/><path d="M305.8 314.3V322.3M301.1 314.3h9.4M301.1 322.3h9.4"/><circle cx="325.3" cy="315.6" r="4.7"/><path d="M325.3 312.6V318.6M320.6 312.6h9.4M320.6 318.6h9.4"/><circle cx="344.8" cy="309" r="4.7"/><path d="M340.1 309h9.4" stroke-width="1.6"/><circle cx="364.3" cy="308.3" r="4.7"/><path d="M359.6 308.3h9.4" stroke-width="1.6"/><circle cx="383.8" cy="305.7" r="4.7"/><path d="M379.1 305.7h9.4" stroke-width="1.6"/><circle cx="403.4" cy="307.3" r="4.7"/><path d="M398.7 307.3h9.4" stroke-width="1.6"/><circle cx="422.9" cy="309" r="4.7"/><path d="M422.9 306V312M418.2 306h9.4M418.2 312h9.4"/><circle cx="442.4" cy="335.6" r="4.7"/><path d="M442.4 333.8V337.4M437.7 333.8h9.4M437.7 337.4h9.4"/><circle cx="461.9" cy="350" r="4.7"/><path d="M461.9 347.6V352.4M457.2 347.6h9.4M457.2 352.4h9.4"/><circle cx="481.4" cy="421.5" r="4.7"/><path d="M481.4 416V427M476.7 416h9.4M476.7 427h9.4"/><circle cx="500.9" cy="412.5" r="4.7"/><path d="M500.9 408.5V416.5M496.2 408.5h9.4M496.2 416.5h9.4"/><circle cx="520.4" cy="386.9" r="4.7"/><path d="M520.4 383.2V390.6M515.7 383.2h9.4M515.7 390.6h9.4"/><circle cx="539.9" cy="389.6" r="4.7"/><path d="M539.9 385.9V393.3M535.2 385.9h9.4M535.2 393.3h9.4"/><circle cx="559.4" cy="415.9" r="4.7"/><path d="M559.4 411.7V420.1M554.7 411.7h9.4M554.7 420.1h9.4"/><circle cx="578.9" cy="433.5" r="4.7"/><path d="M578.9 429.1V437.9M574.2 429.1h9.4M574.2 437.9h9.4"/><circle cx="598.5" cy="458.8" r="4.7"/><path d="M598.5 454.3V463.3M593.8 454.3h9.4M593.8 463.3h9.4"/><circle cx="618" cy="491.5" r="4.7"/><path d="M618 487.3V495.7M613.3 487.3h9.4M613.3 495.7h9.4"/><circle cx="637.5" cy="505.5" r="4.7"/><path d="M637.5 501.6V509.4M632.8 501.6h9.4M632.8 509.4h9.4"/><circle cx="657" cy="528.1" r="4.7"/><path d="M657 524.7V531.5M652.3 524.7h9.4M652.3 531.5h9.4"/><circle cx="676.5" cy="557.1" r="4.7"/><path d="M676.5 554.8V559.4M671.8 554.8h9.4M671.8 559.4h9.4"/><circle cx="696" cy="570.7" r="4.7"/><path d="M696 569V572.4M691.3 569h9.4M691.3 572.4h9.4"/><circle cx="715.5" cy="579" r="4.7"/><path d="M715.5 577.7V580.3M710.8 577.7h9.4M710.8 580.3h9.4"/><circle cx="735" cy="581.4" r="4.7"/><path d="M735 580.2V582.6M730.3 580.2h9.4M730.3 582.6h9.4"/><circle cx="754.5" cy="584.7" r="4.7"/><path d="M754.5 583.6V585.8M749.8 583.6h9.4M749.8 585.8h9.4"/><circle cx="774" cy="588" r="4.7"/><path d="M774 587.1V588.9M769.3 587.1h9.4M769.3 588.9h9.4"/><circle cx="793.6" cy="588.7" r="4.7"/><path d="M793.6 587.9V589.5M788.9 587.9h9.4M788.9 589.5h9.4"/><circle cx="813.1" cy="589.7" r="4.7"/><path d="M808.4 589.7h9.4" stroke-width="1.6"/><circle cx="832.6" cy="592" r="4.7"/><path d="M827.9 592h9.4" stroke-width="1.6"/><circle cx="852.1" cy="594" r="4.7"/><path d="M847.4 594h9.4" stroke-width="1.6"/><circle cx="871.6" cy="595" r="4.7"/><path d="M866.9 595h9.4" stroke-width="1.6"/><circle cx="891.1" cy="596" r="4.7"/><path d="M886.4 596h9.4" stroke-width="1.6"/></g><g fill="none" stroke="#0072bd" stroke-width="1.0"><circle cx="110.7" cy="596" r="4.7"/><path d="M106 596h9.4" stroke-width="1.6"/><circle cx="247.3" cy="596" r="4.7"/><path d="M242.6 596h9.4" stroke-width="1.6"/><circle cx="305.8" cy="588.6" r="4.7"/><path d="M305.8 585.6V591.6M301.1 585.6h9.4M301.1 591.6h9.4"/><circle cx="325.3" cy="592" r="4.7"/><path d="M320.6 592h9.4" stroke-width="1.6"/><circle cx="344.8" cy="594.7" r="4.7"/><path d="M340.1 594.7h9.4" stroke-width="1.6"/><circle cx="364.3" cy="596.4" r="4.7"/><path d="M359.6 596.4h9.4" stroke-width="1.6"/><circle cx="422.9" cy="594.7" r="4.7"/><path d="M422.9 592.7V596.7M418.2 592.7h9.4M418.2 596.7h9.4"/><circle cx="442.4" cy="568.7" r="4.7"/><path d="M442.4 566.9V570.5M437.7 566.9h9.4M437.7 570.5h9.4"/><circle cx="461.9" cy="554.1" r="4.7"/><path d="M461.9 551.6V556.6M457.2 551.6h9.4M457.2 556.6h9.4"/><circle cx="481.4" cy="483.8" r="4.7"/><path d="M481.4 478.8V488.8M476.7 478.8h9.4M476.7 488.8h9.4"/><circle cx="500.9" cy="493.5" r="4.7"/><path d="M500.9 489.5V497.5M496.2 489.5h9.4M496.2 497.5h9.4"/><circle cx="520.4" cy="519.4" r="4.7"/><path d="M520.4 515.8V523M515.7 515.8h9.4M515.7 523h9.4"/><circle cx="539.9" cy="516.1" r="4.7"/><path d="M539.9 512.4V519.8M535.2 512.4h9.4M535.2 519.8h9.4"/><circle cx="559.4" cy="489.1" r="4.7"/><path d="M559.4 484.9V493.3M554.7 484.9h9.4M554.7 493.3h9.4"/><circle cx="578.9" cy="473.5" r="4.7"/><path d="M578.9 469.1V477.9M574.2 469.1h9.4M574.2 477.9h9.4"/><circle cx="598.5" cy="449.2" r="4.7"/><path d="M598.5 444.7V453.7M593.8 444.7h9.4M593.8 453.7h9.4"/><circle cx="618" cy="415.9" r="4.7"/><path d="M618 411.7V420.1M613.3 411.7h9.4M613.3 420.1h9.4"/><circle cx="637.5" cy="400.9" r="4.7"/><path d="M637.5 396.9V404.9M632.8 396.9h9.4M632.8 404.9h9.4"/><circle cx="657" cy="381.6" r="4.7"/><path d="M657 378.1V385.1M652.3 378.1h9.4M652.3 385.1h9.4"/><circle cx="676.5" cy="358.3" r="4.7"/><path d="M676.5 355.5V361.1M671.8 355.5h9.4M671.8 361.1h9.4"/><circle cx="696" cy="345" r="4.7"/><path d="M696 342.8V347.2M691.3 342.8h9.4M691.3 347.2h9.4"/><circle cx="715.5" cy="346.6" r="4.7"/><path d="M715.5 344.3V348.9M710.8 344.3h9.4M710.8 348.9h9.4"/><circle cx="735" cy="351.6" r="4.7"/><path d="M735 349.1V354.1M730.3 349.1h9.4M730.3 354.1h9.4"/><circle cx="754.5" cy="342.6" r="4.7"/><path d="M754.5 340.5V344.7M749.8 340.5h9.4M749.8 344.7h9.4"/><circle cx="774" cy="346.6" r="4.7"/><path d="M774 344.3V348.9M769.3 344.3h9.4M769.3 348.9h9.4"/><circle cx="793.6" cy="350" r="4.7"/><path d="M793.6 347.6V352.4M788.9 347.6h9.4M788.9 352.4h9.4"/><circle cx="813.1" cy="339" r="4.7"/><path d="M813.1 337V341M808.4 337h9.4M808.4 341h9.4"/><circle cx="832.6" cy="345.6" r="4.7"/><path d="M832.6 343.4V347.8M827.9 343.4h9.4M827.9 347.8h9.4"/><circle cx="852.1" cy="353.3" r="4.7"/><path d="M852.1 350.7V355.9M847.4 350.7h9.4M847.4 355.9h9.4"/><circle cx="871.6" cy="374.3" r="4.7"/><path d="M871.6 371V377.6M866.9 371h9.4M866.9 377.6h9.4"/><circle cx="891.1" cy="376.9" r="4.7"/><path d="M891.1 373.5V380.3M886.4 373.5h9.4M886.4 380.3h9.4"/><circle cx="910.6" cy="390.2" r="4.7"/><path d="M910.6 386.5V393.9M905.9 386.5h9.4M905.9 393.9h9.4"/><circle cx="930.1" cy="422.5" r="4.7"/><path d="M930.1 418.2V426.8M925.4 418.2h9.4M925.4 426.8h9.4"/><circle cx="949.6" cy="478.1" r="4.7"/><path d="M949.6 473.7V482.5M944.9 473.7h9.4M944.9 482.5h9.4"/><circle cx="969.1" cy="523.4" r="4.7"/><path d="M969.1 519.9V526.9M964.4 519.9h9.4M964.4 526.9h9.4"/><circle cx="988.7" cy="534.8" r="4.7"/><path d="M988.7 531.6V538M984 531.6h9.4M984 538h9.4"/><circle cx="1008.2" cy="563.4" r="4.7"/><path d="M1008.2 561.3V565.5M1003.5 561.3h9.4M1003.5 565.5h9.4"/><circle cx="1027.7" cy="572.4" r="4.7"/><path d="M1027.7 570.7V574.1M1023 570.7h9.4M1023 574.1h9.4"/><circle cx="1047.2" cy="586.4" r="4.7"/><path d="M1047.2 585.4V587.4M1042.5 585.4h9.4M1042.5 587.4h9.4"/><circle cx="1066.7" cy="589.7" r="4.7"/><path d="M1062 589.7h9.4" stroke-width="1.6"/><circle cx="1086.2" cy="592.4" r="4.7"/><path d="M1081.5 592.4h9.4" stroke-width="1.6"/><circle cx="1105.7" cy="594.7" r="4.7"/><path d="M1101 594.7h9.4" stroke-width="1.6"/></g><g fill="none" stroke="#d95319" stroke-width="1.0"><circle cx="832.6" cy="594" r="4.7"/><path d="M827.9 594h9.4" stroke-width="1.6"/><circle cx="852.1" cy="591" r="4.7"/><path d="M847.4 591h9.4" stroke-width="1.6"/><circle cx="871.6" cy="585" r="4.7"/><path d="M871.6 584V586M866.9 584h9.4M866.9 586h9.4"/><circle cx="891.1" cy="575" r="4.7"/><path d="M891.1 573.5V576.5M886.4 573.5h9.4M886.4 576.5h9.4"/><circle cx="910.6" cy="555.7" r="4.7"/><path d="M910.6 553.3V558.1M905.9 553.3h9.4M905.9 558.1h9.4"/><circle cx="930.1" cy="529.1" r="4.7"/><path d="M930.1 525.8V532.4M925.4 525.8h9.4M925.4 532.4h9.4"/><circle cx="949.6" cy="477.5" r="4.7"/><path d="M949.6 473.1V481.9M944.9 473.1h9.4M944.9 481.9h9.4"/><circle cx="969.1" cy="432.2" r="4.7"/><path d="M969.1 427.8V436.6M964.4 427.8h9.4M964.4 436.6h9.4"/><circle cx="988.7" cy="403.6" r="4.7"/><path d="M988.7 399.6V407.6M984 399.6h9.4M984 407.6h9.4"/><circle cx="1008.2" cy="360.9" r="4.7"/><path d="M1008.2 358.1V363.7M1003.5 358.1h9.4M1003.5 363.7h9.4"/><circle cx="1027.7" cy="352.3" r="4.7"/><path d="M1027.7 349.8V354.8M1023 349.8h9.4M1023 354.8h9.4"/><circle cx="1047.2" cy="326" r="4.7"/><path d="M1047.2 324.7V327.3M1042.5 324.7h9.4M1042.5 327.3h9.4"/><circle cx="1066.7" cy="319.3" r="4.7"/><path d="M1066.7 318.3V320.3M1062 318.3h9.4M1062 320.3h9.4"/><circle cx="1086.2" cy="316.6" r="4.7"/><path d="M1086.2 315.7V317.5M1081.5 315.7h9.4M1081.5 317.5h9.4"/><circle cx="1105.7" cy="312.3" r="4.7"/><path d="M1101 312.3h9.4" stroke-width="1.6"/><circle cx="1125.2" cy="309" r="4.7"/><path d="M1120.5 309h9.4" stroke-width="1.6"/><circle cx="1144.7" cy="309" r="4.7"/><path d="M1140 309h9.4" stroke-width="1.6"/><circle cx="1164.2" cy="307.7" r="4.7"/><path d="M1159.5 307.7h9.4" stroke-width="1.6"/><circle cx="1183.8" cy="309" r="4.7"/><path d="M1179.1 309h9.4" stroke-width="1.6"/><circle cx="1203.3" cy="306.7" r="4.7"/><path d="M1198.6 306.7h9.4" stroke-width="1.6"/><circle cx="1222.8" cy="309" r="4.7"/><path d="M1218.1 309h9.4" stroke-width="1.6"/><circle cx="1242.3" cy="306.7" r="4.7"/><path d="M1237.6 306.7h9.4" stroke-width="1.6"/><circle cx="1261.8" cy="307.7" r="4.7"/><path d="M1257.1 307.7h9.4" stroke-width="1.6"/><circle cx="1281.3" cy="306.7" r="4.7"/><path d="M1276.6 306.7h9.4" stroke-width="1.6"/><circle cx="1300.8" cy="306" r="4.7"/><path d="M1296.1 306h9.4" stroke-width="1.6"/><circle cx="1320.3" cy="306.7" r="4.7"/><path d="M1315.6 306.7h9.4" stroke-width="1.6"/><circle cx="1339.8" cy="307.7" r="4.7"/><path d="M1335.1 307.7h9.4" stroke-width="1.6"/><circle cx="1359.3" cy="306.7" r="4.7"/><path d="M1354.6 306.7h9.4" stroke-width="1.6"/><circle cx="1378.9" cy="309" r="4.7"/><path d="M1374.2 309h9.4" stroke-width="1.6"/><circle cx="1398.4" cy="319.3" r="4.7"/><path d="M1398.4 318.3V320.3M1393.7 318.3h9.4M1393.7 320.3h9.4"/><circle cx="1417.9" cy="347.3" r="4.7"/><path d="M1417.9 345V349.6M1413.2 345h9.4M1413.2 349.6h9.4"/><circle cx="1437.4" cy="440.9" r="4.7"/><path d="M1437.4 436.4V445.4M1432.7 436.4h9.4M1432.7 445.4h9.4"/><circle cx="1456.9" cy="479.8" r="4.7"/><path d="M1456.9 475.4V484.2M1452.2 475.4h9.4M1452.2 484.2h9.4"/><circle cx="1476.4" cy="531.4" r="4.7"/><path d="M1476.4 528.1V534.7M1471.7 528.1h9.4M1471.7 534.7h9.4"/><circle cx="1495.9" cy="560.4" r="4.7"/><path d="M1495.9 558.2V562.6M1491.2 558.2h9.4M1491.2 562.6h9.4"/><circle cx="1515.4" cy="575.4" r="4.7"/><path d="M1515.4 573.9V576.9M1510.7 573.9h9.4M1510.7 576.9h9.4"/><circle cx="1534.9" cy="579" r="4.7"/><path d="M1534.9 577.7V580.3M1530.2 577.7h9.4M1530.2 580.3h9.4"/><circle cx="1554.4" cy="589.7" r="4.7"/><path d="M1549.7 589.7h9.4" stroke-width="1.6"/><circle cx="1574" cy="593" r="4.7"/><path d="M1569.3 593h9.4" stroke-width="1.6"/><circle cx="1593.5" cy="590.7" r="4.7"/><path d="M1588.8 590.7h9.4" stroke-width="1.6"/><circle cx="1613" cy="594.7" r="4.7"/><path d="M1608.3 594.7h9.4" stroke-width="1.6"/><circle cx="1632.5" cy="596.5" r="4.7"/><path d="M1627.8 596.5h9.4" stroke-width="1.6"/><circle cx="1652" cy="596.5" r="4.7"/><path d="M1647.3 596.5h9.4" stroke-width="1.6"/><circle cx="1671.5" cy="596.5" r="4.7"/><path d="M1666.8 596.5h9.4" stroke-width="1.6"/><circle cx="1691" cy="596.5" r="4.7"/><path d="M1686.3 596.5h9.4" stroke-width="1.6"/></g><g fill="none" stroke="#1f8f1f" stroke-width="1.0"><circle cx="1378.9" cy="596.4" r="4.7"/><path d="M1374.2 596.4h9.4" stroke-width="1.6"/><circle cx="1398.4" cy="585.7" r="4.7"/><path d="M1398.4 584.7V586.7M1393.7 584.7h9.4M1393.7 586.7h9.4"/><circle cx="1417.9" cy="557.4" r="4.7"/><path d="M1417.9 555.1V559.7M1413.2 555.1h9.4M1413.2 559.7h9.4"/><circle cx="1437.4" cy="464.2" r="4.7"/><path d="M1437.4 459.7V468.7M1432.7 459.7h9.4M1432.7 468.7h9.4"/><circle cx="1456.9" cy="425.9" r="4.7"/><path d="M1456.9 421.5V430.3M1452.2 421.5h9.4M1452.2 430.3h9.4"/><circle cx="1476.4" cy="375.6" r="4.7"/><path d="M1476.4 372.3V378.9M1471.7 372.3h9.4M1471.7 378.9h9.4"/><circle cx="1495.9" cy="346" r="4.7"/><path d="M1495.9 343.7V348.3M1491.2 343.7h9.4M1491.2 348.3h9.4"/><circle cx="1515.4" cy="330" r="4.7"/><path d="M1515.4 328.5V331.5M1510.7 328.5h9.4M1510.7 331.5h9.4"/><circle cx="1534.9" cy="327.3" r="4.7"/><path d="M1534.9 325.9V328.7M1530.2 325.9h9.4M1530.2 328.7h9.4"/><circle cx="1554.4" cy="315.6" r="4.7"/><path d="M1554.4 314.8V316.4M1549.7 314.8h9.4M1549.7 316.4h9.4"/><circle cx="1574" cy="311" r="4.7"/><path d="M1569.3 311h9.4" stroke-width="1.6"/><circle cx="1593.5" cy="314" r="4.7"/><path d="M1588.8 314h9.4" stroke-width="1.6"/><circle cx="1613" cy="309" r="4.7"/><path d="M1608.3 309h9.4" stroke-width="1.6"/><circle cx="1632.5" cy="308.3" r="4.7"/><path d="M1627.8 308.3h9.4" stroke-width="1.6"/><circle cx="1652" cy="307.7" r="4.7"/><path d="M1647.3 307.7h9.4" stroke-width="1.6"/><circle cx="1671.5" cy="308.3" r="4.7"/><path d="M1666.8 308.3h9.4" stroke-width="1.6"/><circle cx="1691" cy="308.3" r="4.7"/><path d="M1686.3 308.3h9.4" stroke-width="1.6"/><circle cx="1710.5" cy="308.3" r="4.7"/><path d="M1705.8 308.3h9.4" stroke-width="1.6"/><circle cx="1730" cy="307.3" r="4.7"/><path d="M1725.3 307.3h9.4" stroke-width="1.6"/><circle cx="1749.5" cy="306.7" r="4.7"/><path d="M1744.8 306.7h9.4" stroke-width="1.6"/><circle cx="1769.1" cy="308.3" r="4.7"/><path d="M1764.4 308.3h9.4" stroke-width="1.6"/><circle cx="1788.6" cy="307.3" r="4.7"/><path d="M1783.9 307.3h9.4" stroke-width="1.6"/><circle cx="1808.1" cy="307.7" r="4.7"/><path d="M1803.4 307.7h9.4" stroke-width="1.6"/><circle cx="1827.6" cy="306.7" r="4.7"/><path d="M1822.9 306.7h9.4" stroke-width="1.6"/></g><rect x="111.5" y="599" width="1716" height="292.5" fill="#fff"/><g clip-path="url(#cb)"><g fill="rgb(243,25,47)" fill-opacity="1.0" stroke="#000" stroke-width="1.1"><rect x="103.2" y="875.2" width="15" height="16.3"/><rect x="122.7" y="873.2" width="15" height="18.3"/><rect x="142.2" y="871" width="15" height="20.5"/><rect x="161.7" y="869.4" width="15" height="22.1"/><rect x="181.2" y="871" width="15" height="20.5"/><rect x="200.8" y="873.2" width="15" height="18.3"/><rect x="220.3" y="869.4" width="15" height="22.1"/><rect x="239.8" y="866.2" width="15" height="25.3"/><rect x="259.3" y="852.2" width="15" height="39.3"/><rect x="278.8" y="850.3" width="15" height="41.2"/><rect x="298.3" y="855.4" width="15" height="36.1"/><rect x="317.8" y="860.3" width="15" height="31.2"/><rect x="337.3" y="869.4" width="15" height="22.1"/><rect x="356.8" y="875.2" width="15" height="16.3"/><rect x="376.3" y="876.9" width="15" height="14.6"/><rect x="395.9" y="878.1" width="15" height="13.4"/><rect x="415.4" y="871.9" width="15" height="19.6"/><rect x="434.9" y="875.4" width="15" height="16.1"/><rect x="454.4" y="868.2" width="15" height="23.3"/><rect x="473.9" y="864.3" width="15" height="27.2"/><rect x="493.4" y="848.3" width="15" height="43.2"/><rect x="512.9" y="840.4" width="15" height="51.1"/><rect x="532.4" y="850.3" width="15" height="41.2"/><rect x="551.9" y="868.2" width="15" height="23.3"/><rect x="571.4" y="880" width="15" height="11.5"/><rect x="591" y="885.5" width="15" height="6"/><rect x="610.5" y="887" width="15" height="4.5"/><rect x="630" y="888.5" width="15" height="3"/><rect x="649.5" y="890" width="15" height="1.5"/></g><g fill="rgb(0,114,189)" fill-opacity="0.7" stroke="#000" stroke-width="1.1"><rect x="434.9" y="890.5" width="15" height="1"/><rect x="454.4" y="887.9" width="15" height="3.6"/><rect x="473.9" y="874.1" width="15" height="17.4"/><rect x="493.4" y="868.2" width="15" height="23.3"/><rect x="512.9" y="872.7" width="15" height="18.8"/><rect x="532.4" y="876.1" width="15" height="15.4"/><rect x="551.9" y="877.8" width="15" height="13.7"/><rect x="571.4" y="882.8" width="15" height="8.7"/><rect x="591" y="884.8" width="15" height="6.7"/><rect x="610.5" y="884.8" width="15" height="6.7"/><rect x="630" y="885.8" width="15" height="5.7"/><rect x="649.5" y="884.8" width="15" height="6.7"/><rect x="669" y="883.8" width="15" height="7.7"/><rect x="688.5" y="880.8" width="15" height="10.7"/><rect x="708" y="880.8" width="15" height="10.7"/><rect x="727.5" y="877" width="15" height="14.5"/><rect x="747" y="877" width="15" height="14.5"/><rect x="766.5" y="878" width="15" height="13.5"/><rect x="786.1" y="878.9" width="15" height="12.6"/><rect x="805.6" y="880.9" width="15" height="10.6"/><rect x="825.1" y="883.8" width="15" height="7.7"/><rect x="844.6" y="883.8" width="15" height="7.7"/><rect x="864.1" y="884.9" width="15" height="6.6"/><rect x="883.6" y="885.7" width="15" height="5.8"/><rect x="903.1" y="886.9" width="15" height="4.6"/><rect x="922.6" y="887.6" width="15" height="3.9"/><rect x="961.6" y="885.5" width="15" height="6"/><rect x="981.2" y="883.8" width="15" height="7.7"/><rect x="1000.7" y="885.5" width="15" height="6"/><rect x="1020.2" y="887" width="15" height="4.5"/></g><g fill="rgb(217,83,25)" fill-opacity="0.7" stroke="#000" stroke-width="1.1"><rect x="942.1" y="888.8" width="15" height="2.7"/><rect x="961.6" y="878.9" width="15" height="12.6"/><rect x="981.2" y="866.3" width="15" height="25.2"/><rect x="1000.7" y="850.5" width="15" height="41"/><rect x="1020.2" y="846.5" width="15" height="45"/><rect x="1039.7" y="849.3" width="15" height="42.2"/><rect x="1059.2" y="859.1" width="15" height="32.4"/><rect x="1078.7" y="867.2" width="15" height="24.3"/><rect x="1098.2" y="872.8" width="15" height="18.7"/><rect x="1117.7" y="877" width="15" height="14.5"/><rect x="1137.2" y="881.8" width="15" height="9.7"/><rect x="1156.7" y="885.7" width="15" height="5.8"/><rect x="1176.3" y="886.9" width="15" height="4.6"/><rect x="1195.8" y="887.4" width="15" height="4.1"/><rect x="1215.3" y="888.6" width="15" height="2.9"/><rect x="1234.8" y="888.6" width="15" height="2.9"/><rect x="1254.3" y="888.6" width="15" height="2.9"/><rect x="1273.8" y="888.6" width="15" height="2.9"/><rect x="1293.3" y="888.6" width="15" height="2.9"/><rect x="1312.8" y="887.4" width="15" height="4.1"/><rect x="1332.3" y="884.9" width="15" height="6.6"/><rect x="1351.8" y="880.1" width="15" height="11.4"/><rect x="1371.4" y="875.2" width="15" height="16.3"/><rect x="1390.9" y="867.2" width="15" height="24.3"/><rect x="1410.4" y="863.2" width="15" height="28.3"/><rect x="1429.9" y="855.5" width="15" height="36"/><rect x="1449.4" y="833.7" width="15" height="57.8"/><rect x="1468.9" y="838.5" width="15" height="53"/><rect x="1488.4" y="857.4" width="15" height="34.1"/><rect x="1507.9" y="870.1" width="15" height="21.4"/><rect x="1527.4" y="875.8" width="15" height="15.7"/><rect x="1546.9" y="886.6" width="15" height="4.9"/><rect x="1566.5" y="889.5" width="15" height="2"/><rect x="1586" y="890.5" width="15" height="1"/></g><g fill="rgb(51,51,222)" fill-opacity="0.7" stroke="#000" stroke-width="1.1"><rect x="961.6" y="889" width="15" height="2.5"/><rect x="981.2" y="888" width="15" height="3.5"/></g><g fill="rgb(50,150,55)" fill-opacity="0.45" stroke="#000" stroke-width="1.1"><rect x="1410.4" y="887.3" width="15" height="4.2"/><rect x="1429.9" y="861.2" width="15" height="30.3"/><rect x="1449.4" y="806.7" width="15" height="84.8"/><rect x="1468.9" y="715.4" width="15" height="176.1"/><rect x="1488.4" y="666.6" width="15" height="224.9"/><rect x="1507.9" y="634.8" width="15" height="256.7"/><rect x="1527.4" y="661.7" width="15" height="229.8"/><rect x="1546.9" y="715.4" width="15" height="176.1"/><rect x="1566.5" y="782.1" width="15" height="109.4"/><rect x="1586" y="822.8" width="15" height="68.7"/><rect x="1605.5" y="846.5" width="15" height="45"/><rect x="1625" y="858.6" width="15" height="32.9"/><rect x="1644.5" y="860.2" width="15" height="31.3"/><rect x="1664" y="860.2" width="15" height="31.3"/><rect x="1683.5" y="858.2" width="15" height="33.3"/><rect x="1703" y="856.3" width="15" height="35.2"/><rect x="1722.5" y="872.7" width="15" height="18.8"/><rect x="1742" y="870.8" width="15" height="20.7"/><rect x="1761.6" y="870.8" width="15" height="20.7"/><rect x="1781.1" y="862.1" width="15" height="29.4"/><rect x="1800.6" y="857.3" width="15" height="34.2"/><rect x="1820.1" y="857.3" width="15" height="34.2"/></g><g fill="rgb(236,168,30)" fill-opacity="0.8" stroke="#000" stroke-width="1.1"></g><line x1="111.5" y1="833.4" x2="1827.5" y2="833.4" stroke="#e03030" stroke-width="1"/><path d="M111.4 817.2 L112.6 818.6 L113.9 819.8 L115.1 820.6 L116.3 821.2 L117.5 821.4 L118.8 821.1 L120 820.3 L121.2 819.3 L122.4 818.4 L123.7 817.9 L124.9 818.2 L126.1 818.7 L127.3 819.4 L128.6 820.2 L129.8 821.1 L131 822.1 L132.2 823.5 L133.5 824.9 L134.7 826.4 L135.9 827.5 L137.2 828.1 L138.4 828.2 L139.6 827.8 L140.8 827 L142.1 826.3 L143.3 825.6 L144.5 825.3 L145.7 825.3 L147 825.4 L148.2 825.6 L149.4 825.9 L150.6 826 L151.9 826.1 L153.1 826.1 L154.3 825.7 L155.6 825.1 L156.8 824.2 L158 823.1 L159.2 822 L160.5 821 L161.7 820.1 L162.9 819.5 L164.1 819.2 L165.4 819.4 L166.6 820.1 L167.8 821 L169 822.2 L170.3 823.5 L171.5 824.7 L172.7 825.7 L173.9 826.3 L175.2 826.5 L176.4 826 L177.6 825.1 L178.9 824 L180.1 823 L181.3 822.3 L182.5 822.2 L183.8 822.6 L185 823.2 L186.2 824 L187.4 825.1 L188.7 826.3 L189.9 827.8 L191.1 829.5 L192.3 831.5 L193.6 833.8 L194.8 836.1 L196 838.4 L197.3 840.4 L198.5 842.2 L199.7 843.8 L200.9 845.2 L202.2 846.3 L203.4 847.1 L204.6 847.6 L205.8 847.5 L207.1 847 L208.3 846.2 L209.5 845.2 L210.7 844.2 L212 843.2 L213.2 842.3 L214.4 841.8 L215.6 841.6 L216.9 841.9 L218.1 842.6 L219.3 843.4 L220.6 844 L221.8 844.3 L223 844 L224.2 843.2 L225.5 841.9 L226.7 840.4 L227.9 838.8 L229.1 837 L230.4 835.2 L231.6 833 L232.8 830.5 L234 827.8 L235.3 825 L236.5 822.3 L237.7 819.6 L239 817.2 L240.2 815.1 L241.4 813.4 L242.6 812.8 L243.9 813.5 L245.1 815.2 L246.3 817.4 L247.5 819.8 L248.8 822.1 L250 823.9 L251.2 824.9 L252.4 824.7 L253.7 823.5 L254.9 821.9 L256.1 819.9 L257.3 817.7 L258.6 815.3 L259.8 813 L261 810.8 L262.3 808.9 L263.5 807.3 L264.7 806.3 L265.9 806.1 L267.2 806.5 L268.4 807.2 L269.6 807.8 L270.8 808.1 L272.1 807.7 L273.3 805.9 L274.5 803.2 L275.7 800.1 L277 797.1 L278.2 794.7 L279.4 793.6 L280.6 794 L281.9 795.3 L283.1 797.3 L284.3 799.8 L285.6 802.6 L286.8 805.6 L288 809.3 L289.2 813.7 L290.5 818.2 L291.7 822.1 L292.9 824.9 L294.1 826.3 L295.4 827.5 L296.6 828.5 L297.8 829.4 L299 830.2 L300.3 831 L301.5 831.6 L302.7 832.2 L304 832.8 L305.2 833.3 L306.4 833.8 L307.6 834.3 L308.9 834.8 L310.1 835.2 L311.3 835.7 L312.5 836.2 L313.8 836.6 L315 837 L316.2 837.4 L317.4 837.8 L318.7 838.2 L319.9 838.4 L321.1 838.3 L322.3 838.1 L323.6 837.8 L324.8 837.5 L326 837.3 L327.3 837.3 L328.5 837.6 L329.7 838.5 L330.9 839.8 L332.2 841.5 L333.4 843.5 L334.6 845.6 L335.8 847.6 L337.1 849.6 L338.3 851.3 L339.5 852.7 L340.7 853.5 L342 853.7 L343.2 853.4 L344.4 852.8 L345.7 852 L346.9 851.2 L348.1 850.7 L349.3 850.7 L350.6 851.2 L351.8 852.6 L353 854.4 L354.2 856.6 L355.5 858.8 L356.7 861 L357.9 862.7 L359.1 863.9 L360.4 864.4 L361.6 864 L362.8 862.9 L364 861.4 L365.3 859.7 L366.5 857.9 L367.7 856.3 L369 855 L370.2 854.3 L371.4 854.3 L372.6 855.2 L373.9 856.6 L375.1 858.2 L376.3 859.7 L377.5 860.5 L378.8 860.5 L380 859.6 L381.2 858.2 L382.4 856.3 L383.7 854.2 L384.9 851.9 L386.1 849.8 L387.4 847.8 L388.6 846.3 L389.8 845.3 L391 845 L392.3 845.3 L393.5 845.8 L394.7 846.4 L395.9 847.1 L397.2 847.8 L398.4 848.2 L399.6 848.6 L400.8 848.8 L402.1 848.9 L403.3 848.8 L404.5 848.4 L405.7 847.8 L407 846.3 L408.2 843 L409.4 838.2 L410.7 832.5 L411.9 826.4 L413.1 820.4 L414.3 814.9 L415.6 810.5 L416.8 807.4 L418 804.6 L419.2 802.2 L420.5 800.5 L421.7 799.9 L422.9 800.7 L424.1 802 L425.4 803.4 L426.6 804.9 L427.8 806.3 L429 807.7 L430.3 809 L431.5 810.2 L432.7 811.4 L434 812.6 L435.2 813.8 L436.4 815.5 L437.6 817.9 L438.9 820.7 L440.1 823.4 L441.3 825.7 L442.5 826.6 L443.8 823.9 L445 818.3 L446.2 811.6 L447.4 805 L448.7 800 L449.9 798.1 L451.1 799.8 L452.4 802.5 L453.6 805.7 L454.8 809.4 L456 813.3 L457.3 817.7 L458.5 823.3 L459.7 829 L460.9 833.9 L462.2 837.2 L463.4 836.2 L464.6 830.6 L465.8 822 L467.1 812.2 L468.3 803 L469.5 796.2 L470.7 793.4 L472 792.5 L473.2 791.9 L474.4 791.2 L475.7 790.2 L476.9 788.7 L478.1 786.7 L479.3 784.7 L480.6 782.9 L481.8 781.9 L483 785.5 L484.2 792.8 L485.5 800.5 L486.7 805.1 L487.9 804.9 L489.1 802.2 L490.4 798.3 L491.6 794.4 L492.8 791.5 L494.1 790.8 L495.3 792.1 L496.5 794 L497.7 795.7 L499 796.4 L500.2 796.1 L501.4 797 L502.6 800.8 L503.9 806.3 L505.1 812.3 L506.3 817.3 L507.5 820.2 L508.8 819.9 L510 816.9 L511.2 812.1 L512.4 806.6 L513.7 801.4 L514.9 797.4 L516.1 795.8 L517.4 797.2 L518.6 800.6 L519.8 805.1 L521 810.3 L522.3 815.5 L523.5 820.2 L524.7 823.7 L525.9 825.6 L527.2 826.2 L528.4 826.8 L529.6 827.3 L530.8 827.9 L532.1 828.5 L533.3 829.3 L534.5 830.1 L535.8 831 L537 831.8 L538.2 832.6 L539.4 833.5 L540.7 834.3 L541.9 835.2 L543.1 836.1 L544.3 837.2 L545.6 838.7 L546.8 840.8 L548 843.1 L549.2 845.2 L550.5 847.1 L551.7 848.8 L552.9 850.5 L554.1 852 L555.4 853.2 L556.6 853.7 L557.8 853.7 L559.1 853.4 L560.3 853.1 L561.5 853 L562.7 853.3 L564 854.2 L565.2 855.8 L566.4 857.9 L567.6 860.3 L568.9 862.9 L570.1 865.3 L571.3 867.6 L572.5 869.5 L573.8 870.8 L575 871.3 L576.2 870.8 L577.5 869.6 L578.7 867.9 L579.9 866.1 L581.1 864.4 L582.4 863.1 L583.6 862.6 L584.8 863 L586 864.6 L587.3 867 L588.5 869.9 L589.7 872.8 L590.9 875.3 L592.2 877.1 L593.4 877.8 L594.6 877.3 L595.8 875.9 L597.1 873.8 L598.3 871.3 L599.5 868.7 L600.8 866 L602 863.7 L603.2 861.8 L604.4 860.8 L605.7 860.7 L606.9 861.8 L608.1 863.6 L609.3 865.5 L610.6 866.9 L611.8 867.3 L613 866.6 L614.2 865.4 L615.5 863.8 L616.7 861.8 L617.9 859.7 L619.1 857.6 L620.4 855.6 L621.6 853.9 L622.8 852.6 L624.1 851.8 L625.3 851.8 L626.5 852.5 L627.7 853.6 L629 854.9 L630.2 855.9 L631.4 856.3 L632.6 855.9 L633.9 854.9 L635.1 853.6 L636.3 852.1 L637.5 850.4 L638.8 848.7 L640 847.1 L641.2 845.7 L642.5 844.7 L643.7 844.1 L644.9 844.1 L646.1 844.4 L647.4 844.8 L648.6 845.2 L649.8 845.2 L651 844.8 L652.3 844.1 L653.5 843.5 L654.7 842.8 L655.9 842 L657.2 841.2 L658.4 840.5 L659.6 839.7 L660.8 839 L662.1 838.3 L663.3 837.6 L664.5 837 L665.8 836.5 L667 836 L668.2 835.6 L669.4 835.2 L670.7 834.9 L671.9 834.5 L673.1 834.1 L674.3 833.7 L675.6 833.3 L676.8 832.7 L678 832 L679.2 831.1 L680.5 830.2 L681.7 829.4 L682.9 828.8 L684.2 828.7 L685.4 829.1 L686.6 829.8 L687.8 830.7 L689.1 831.8 L690.3 832.9 L691.5 833.9 L692.7 834.7 L694 835.2 L695.2 835.2 L696.4 834.6 L697.6 833.3 L698.9 831.4 L700.1 829.1 L701.3 826.7 L702.5 823.8 L703.8 820.5 L705 816.9 L706.2 813.1 L707.5 809.4 L708.7 805.9 L709.9 802.9 L711.1 800.3 L712.4 798.7 L713.6 798.2 L714.8 798.8 L716 800.4 L717.3 803.1 L718.5 806.8 L719.7 811.1 L720.9 815.8 L722.2 820.8 L723.4 826.1 L724.6 832.2 L725.9 838.9 L727.1 845.6 L728.3 851.6 L729.5 856.5 L730.8 858.3 L732 856.9 L733.2 854.6 L734.4 852.4 L735.7 849.2 L736.9 843.7 L738.1 835.4 L739.3 824.9 L740.6 813.8 L741.8 803.2 L743 794.1 L744.2 785.3 L745.5 777.1 L746.7 769.5 L747.9 762.7 L749.2 757 L750.4 753.8 L751.6 754.5 L752.8 758.9 L754.1 766.7 L755.3 775 L756.5 783.4 L757.7 791.9 L759 800.6 L760.2 809.6 L761.4 818.5 L762.6 827 L763.9 834.7 L765.1 839.6 L766.3 841.4 L767.5 841.1 L768.8 839.9 L770 838.6 L771.2 838 L772.5 837.5 L773.7 836.9 L774.9 836.2 L776.1 835.6 L777.4 835.1 L778.6 834.7 L779.8 834.5 L781 834.5 L782.3 834.4 L783.5 834.4 L784.7 834.3 L785.9 834.3 L787.2 834.3 L788.4 834.2 L789.6 834.2 L790.9 834.2 L792.1 834.2 L793.3 834.2 L794.5 834.2 L795.8 834.2 L797 834.2 L798.2 834.2 L799.4 834.2 L800.7 834.2 L801.9 834.3 L803.1 834.6 L804.3 834.9 L805.6 835.4 L806.8 835.9 L808 836.4 L809.2 837.2 L810.5 838.1 L811.7 839.1 L812.9 840.1 L814.2 841.3 L815.4 842.4 L816.6 843.6 L817.8 845.2 L819.1 847.1 L820.3 849.2 L821.5 851.4 L822.7 853.6 L824 855.6 L825.2 857.3 L826.4 858.6 L827.6 858.9 L828.9 858.1 L830.1 856.4 L831.3 854.2 L832.6 851.7 L833.8 849.2 L835 847 L836.2 845.5 L837.5 844.8 L838.7 845.2 L839.9 846.3 L841.1 847.9 L842.4 849.7 L843.6 851.4 L844.8 852.8 L846 853.5 L847.3 853.3 L848.5 852.4 L849.7 851.2 L850.9 849.7 L852.2 848 L853.4 846.2 L854.6 844.4 L855.9 842.7 L857.1 841.2 L858.3 840 L859.5 839.2 L860.8 838.8 L862 838.7 L863.2 838.7 L864.4 838.6 L865.7 838.6 L866.9 838.5 L868.1 838.5 L869.3 838.4 L870.6 838.3 L871.8 838.3 L873 838.2 L874.3 838.1 L875.5 838 L876.7 838 L877.9 837.9 L879.2 837.8 L880.4 837.8 L881.6 837.7 L882.8 837.6 L884.1 837.5 L885.3 837.3 L886.5 837.1 L887.7 836.8 L889 836.5 L890.2 836.2 L891.4 835.9 L892.6 835.6 L893.9 835.4 L895.1 835.5 L896.3 836 L897.6 836.9 L898.8 838.2 L900 839.7 L901.2 841.3 L902.5 842.8 L903.7 844.2 L904.9 845.4 L906.1 846.2 L907.4 846.5 L908.6 846.4 L909.8 846.1 L911 845.5 L912.3 844.9 L913.5 844.3 L914.7 843.8 L915.9 843.5 L917.2 843.6 L918.4 843.9 L919.6 844.5 L920.9 845.1 L922.1 845.6 L923.3 845.8 L924.5 845.6 L925.8 845.1 L927 844.4 L928.2 843.7 L929.4 842.8 L930.7 841.9 L931.9 841 L933.1 840.1 L934.3 839.2 L935.6 838.4 L936.8 837.7 L938 837.1 L939.3 836.7 L940.5 836.2 L941.7 835.8 L942.9 835.5 L944.2 835.1 L945.4 834.7 L946.6 834.3 L947.8 833.9 L949.1 833.4 L950.3 832.9 L951.5 832.3 L952.7 831.5 L954 830.6 L955.2 829.5 L956.4 828 L957.6 826 L958.9 823.5 L960.1 820.7 L961.3 817.7 L962.6 814.6 L963.8 811.4 L965 808.4 L966.2 805.5 L967.5 802.5 L968.7 799.1 L969.9 795.2 L971.1 790.6 L972.4 784.3 L973.6 771.4 L974.8 753.9 L976 735.4 L977.3 714 L978.5 690.1 L979.7 671.8 L981 663.1 L982.2 661.2 L983.4 663.1 L984.6 666.4 L985.9 675 L987.1 690 L988.3 705.6 L989.5 721.3 L990.8 737.4 L992 754.1 L993.2 770.5 L994.4 785.3 L995.7 792 L996.9 790.4 L998.1 783.8 L999.3 775.7 L1000.6 769.5 L1001.8 768.6 L1003 772.3 L1004.3 776 L1005.5 779.7 L1006.7 783.4 L1007.9 787.1 L1009.2 790.7 L1010.4 794.4 L1011.6 798 L1012.8 801.6 L1014.1 805.1 L1015.3 808.4 L1016.5 810.2 L1017.7 809.4 L1019 807.7 L1020.2 806.8 L1021.4 807.7 L1022.7 808.8 L1023.9 810 L1025.1 811.4 L1026.3 813.1 L1027.6 815.1 L1028.8 817.3 L1030 819.6 L1031.2 821.8 L1032.5 823.8 L1033.7 825.3 L1034.9 826.3 L1036.1 826.9 L1037.4 827.2 L1038.6 827.4 L1039.8 827.9 L1041 828.6 L1042.3 829.3 L1043.5 830 L1044.7 830.9 L1046 831.9 L1047.2 833.1 L1048.4 834.6 L1049.6 836.4 L1050.9 838.2 L1052.1 839.8 L1053.3 841.3 L1054.5 842.8 L1055.8 844.2 L1057 845.6 L1058.2 846.8 L1059.4 848 L1060.7 849.2 L1061.9 849.8 L1063.1 850 L1064.3 849.6 L1065.6 849 L1066.8 848.4 L1068 847.7 L1069.3 847.3 L1070.5 847.3 L1071.7 847.8 L1072.9 848.9 L1074.2 850.4 L1075.4 852.1 L1076.6 853.9 L1077.8 855.6 L1079.1 857.1 L1080.3 858.2 L1081.5 858.7 L1082.7 858.4 L1084 857.5 L1085.2 856.1 L1086.4 854.5 L1087.7 852.9 L1088.9 851.4 L1090.1 850.4 L1091.3 850 L1092.6 850.3 L1093.8 851.3 L1095 852.6 L1096.2 854.2 L1097.5 855.9 L1098.7 857.4 L1099.9 858.6 L1101.1 859.3 L1102.4 859.3 L1103.6 858.8 L1104.8 857.9 L1106 856.7 L1107.3 855.5 L1108.5 854.3 L1109.7 853.2 L1111 852.4 L1112.2 852 L1113.4 852.2 L1114.6 852.7 L1115.9 853.5 L1117.1 854.2 L1118.3 854.7 L1119.5 854.7 L1120.8 854.1 L1122 852.9 L1123.2 851.3 L1124.4 849.6 L1125.7 848 L1126.9 846.6 L1128.1 845.6 L1129.4 845.2 L1130.6 845.7 L1131.8 847.3 L1133 849.5 L1134.3 852.2 L1135.5 855 L1136.7 857.9 L1137.9 860.4 L1139.2 862.3 L1140.4 863.4 L1141.6 863.4 L1142.8 862.8 L1144.1 861.6 L1145.3 860.2 L1146.5 858.7 L1147.7 857.5 L1149 856.9 L1150.2 857 L1151.4 858.1 L1152.7 860.1 L1153.9 862.5 L1155.1 865.1 L1156.3 867.6 L1157.6 869.6 L1158.8 870.8 L1160 870.9 L1161.2 870.2 L1162.5 868.8 L1163.7 867 L1164.9 864.9 L1166.1 862.8 L1167.4 860.9 L1168.6 859.4 L1169.8 858.4 L1171.1 858.2 L1172.3 858.8 L1173.5 859.9 L1174.7 861.3 L1176 862.5 L1177.2 863.3 L1178.4 863.4 L1179.6 862.7 L1180.9 861.4 L1182.1 859.8 L1183.3 857.9 L1184.5 855.9 L1185.8 854.1 L1187 852.5 L1188.2 851.3 L1189.4 850.8 L1190.7 851 L1191.9 851.8 L1193.1 853 L1194.4 854.3 L1195.6 855.4 L1196.8 856.3 L1198 856.5 L1199.3 856.1 L1200.5 855.4 L1201.7 854.4 L1202.9 853.2 L1204.2 852 L1205.4 850.8 L1206.6 849.8 L1207.8 849 L1209.1 848.6 L1210.3 848.7 L1211.5 849.3 L1212.7 850.2 L1214 851.2 L1215.2 852 L1216.4 852.5 L1217.7 852.5 L1218.9 851.9 L1220.1 850.8 L1221.3 849.5 L1222.6 847.9 L1223.8 846.4 L1225 845 L1226.2 843.9 L1227.5 843.2 L1228.7 843.2 L1229.9 844 L1231.1 845.6 L1232.4 847.7 L1233.6 849.9 L1234.8 852.1 L1236.1 853.8 L1237.3 854.8 L1238.5 854.8 L1239.7 854.1 L1241 853.2 L1242.2 852.1 L1243.4 851 L1244.6 849.7 L1245.9 848.5 L1247.1 847.2 L1248.3 846.1 L1249.5 845.1 L1250.8 844.3 L1252 843.7 L1253.2 843.3 L1254.4 842.9 L1255.7 842.5 L1256.9 842.2 L1258.1 841.8 L1259.4 841.5 L1260.6 841 L1261.8 840.5 L1263 839.9 L1264.3 839.1 L1265.5 838.2 L1266.7 837.1 L1267.9 836 L1269.2 834.8 L1270.4 833.2 L1271.6 831.3 L1272.8 829.2 L1274.1 827 L1275.3 824.8 L1276.5 822.7 L1277.8 820.9 L1279 819.5 L1280.2 818.5 L1281.4 818.2 L1282.7 818.3 L1283.9 818.7 L1285.1 819.2 L1286.3 819.8 L1287.6 820.5 L1288.8 821.4 L1290 822.2 L1291.2 823 L1292.5 823.8 L1293.7 824.6 L1294.9 825.5 L1296.1 826.4 L1297.4 827.3 L1298.6 828.2 L1299.8 829.1 L1301.1 830 L1302.3 830.7 L1303.5 831.3 L1304.7 831 L1306 830.1 L1307.2 828.7 L1308.4 827.2 L1309.6 824.7 L1310.9 821.1 L1312.1 817 L1313.3 812.7 L1314.5 808.9 L1315.8 806 L1317 804.5 L1318.2 804.6 L1319.5 805.7 L1320.7 807.2 L1321.9 809.1 L1323.1 811 L1324.4 812.7 L1325.6 813.9 L1326.8 814.5 L1328 815 L1329.3 815.6 L1330.5 816.1 L1331.7 816.6 L1332.9 817.1 L1334.2 817.6 L1335.4 818.1 L1336.6 818.9 L1337.8 820.1 L1339.1 821.4 L1340.3 822.4 L1341.5 822.7 L1342.8 821.8 L1344 818.9 L1345.2 814.6 L1346.4 809.7 L1347.7 805.1 L1348.9 800.7 L1350.1 795.9 L1351.3 791.4 L1352.6 787.3 L1353.8 784.2 L1355 783.8 L1356.2 785.4 L1357.5 787.9 L1358.7 789.9 L1359.9 791.7 L1361.1 793.9 L1362.4 796 L1363.6 798 L1364.8 799.5 L1366.1 798.7 L1367.3 795.4 L1368.5 790.6 L1369.7 785.4 L1371 780.6 L1372.2 777.2 L1373.4 776.1 L1374.6 777.4 L1375.9 780.2 L1377.1 784.2 L1378.3 788.8 L1379.5 793.6 L1380.8 798.2 L1382 801.9 L1383.2 804.5 L1384.5 805.3 L1385.7 804.3 L1386.9 802.1 L1388.1 799.2 L1389.4 796 L1390.6 793.1 L1391.8 791 L1393 790.2 L1394.3 790.8 L1395.5 792.5 L1396.7 794.8 L1397.9 797.6 L1399.2 800.4 L1400.4 802.9 L1401.6 804.9 L1402.8 806.1 L1404.1 805.8 L1405.3 803.8 L1406.5 800.3 L1407.8 796.2 L1409 791.8 L1410.2 787.9 L1411.4 785.1 L1412.7 783.8 L1413.9 784.9 L1415.1 788.3 L1416.3 793.3 L1417.6 799.2 L1418.8 805.4 L1420 811.2 L1421.2 815.9 L1422.5 818.8 L1423.7 819.3 L1424.9 817.9 L1426.2 815.3 L1427.4 811.7 L1428.6 807.6 L1429.8 803 L1431.1 798.3 L1432.3 793.8 L1433.5 789.5 L1434.7 785.9 L1436 783.2 L1437.2 781.6 L1438.4 781.7 L1439.6 783 L1440.9 783.9 L1442.1 783 L1443.3 780.2 L1444.5 776.1 L1445.8 771.1 L1447 765.7 L1448.2 760.4 L1449.5 755.9 L1450.7 752.5 L1451.9 751.2 L1453.1 753.7 L1454.4 758.9 L1455.6 765.5 L1456.8 772.2 L1458 777.5 L1459.3 780.1 L1460.5 778.4 L1461.7 771.7 L1462.9 761.3 L1464.2 748.9 L1465.4 736.4 L1466.6 725.3 L1467.9 717.3 L1469.1 714.3 L1470.3 715.1 L1471.5 717.9 L1472.8 722.4 L1474 728.3 L1475.2 736.7 L1476.4 747.1 L1477.7 758.5 L1478.9 769.7 L1480.1 779.5 L1481.3 786.9 L1482.6 790.7 L1483.8 789.9 L1485 786.3 L1486.2 781.9 L1487.5 778.9 L1488.7 779.3 L1489.9 781.5 L1491.2 784.2 L1492.4 786.8 L1493.6 788.7 L1494.8 789.1 L1496.1 788 L1497.3 787.1 L1498.5 788.2 L1499.7 791.1 L1501 794.4 L1502.2 798.1 L1503.4 802.2 L1504.6 806.3 L1505.9 810.4 L1507.1 814.5 L1508.3 818.7 L1509.6 822.9 L1510.8 827.1 L1512 831.3 L1513.2 835.4 L1514.5 839.6 L1515.7 843.5 L1516.9 846.4 L1518.1 848.2 L1519.4 848.9 L1520.6 848.7 L1521.8 847.5 L1523 845.9 L1524.3 844.2 L1525.5 842.5 L1526.7 840.8 L1527.9 839.1 L1529.2 837.3 L1530.4 835.6 L1531.6 833.8 L1532.9 832 L1534.1 830.2 L1535.3 829.1 L1536.5 830.7 L1537.8 834.2 L1539 838.1 L1540.2 840.9 L1541.4 841.6 L1542.7 841.9 L1543.9 842.2 L1545.1 842.5 L1546.3 842.7 L1547.6 842.9 L1548.8 843 L1550 843.1 L1551.2 843.1 L1552.5 843.1 L1553.7 843 L1554.9 843 L1556.2 843.1 L1557.4 843.7 L1558.6 845.1 L1559.8 847.2 L1561.1 849.6 L1562.3 852.3 L1563.5 855.1 L1564.7 857.7 L1566 860 L1567.2 861.8 L1568.4 863 L1569.6 863.4 L1570.9 863.2 L1572.1 862.7 L1573.3 862 L1574.6 861.2 L1575.8 860.5 L1577 860.1 L1578.2 860.2 L1579.5 860.9 L1580.7 862.2 L1581.9 864 L1583.1 866.1 L1584.4 868.2 L1585.6 870.1 L1586.8 871.5 L1588 872.3 L1589.3 872.2 L1590.5 871.3 L1591.7 869.7 L1592.9 867.7 L1594.2 865.6 L1595.4 863.6 L1596.6 861.8 L1597.9 860.7 L1599.1 860.3 L1600.3 860.9 L1601.5 862.5 L1602.8 864.6 L1604 866.9 L1605.2 869.1 L1606.4 870.7 L1607.7 871.5 L1608.9 871.3 L1610.1 870.4 L1611.3 869.1 L1612.6 867.5 L1613.8 865.8 L1615 864.1 L1616.3 862.7 L1617.5 861.7 L1618.7 861.2 L1619.9 861.6 L1621.2 862.9 L1622.4 864.7 L1623.6 866.5 L1624.8 867.7 L1626.1 868 L1627.3 867.4 L1628.5 866.3 L1629.7 864.8 L1631 863 L1632.2 861 L1633.4 859.1 L1634.6 857.2 L1635.9 855.6 L1637.1 854.3 L1638.3 853.5 L1639.6 853.5 L1640.8 854.4 L1642 855.8 L1643.2 857.5 L1644.5 859.1 L1645.7 860 L1646.9 859.9 L1648.1 858.6 L1649.4 856.8 L1650.6 854.9 L1651.8 852.9 L1653 850.8 L1654.3 848.7 L1655.5 846.7 L1656.7 844.7 L1658 842.9 L1659.2 840.8 L1660.4 838.7 L1661.6 836.5 L1662.9 834.2 L1664.1 832.1 L1665.3 830.1 L1666.5 828.4 L1667.8 827 L1669 826 L1670.2 825.5 L1671.4 825.5 L1672.7 826 L1673.9 827 L1675.1 828.2 L1676.3 829.6 L1677.6 831 L1678.8 832.2 L1680 833.4 L1681.3 834.8 L1682.5 836.1 L1683.7 837.5 L1684.9 838.8 L1686.2 839.9 L1687.4 840.8 L1688.6 841.1 L1689.8 840.5 L1691.1 839.3 L1692.3 837.7 L1693.5 835.8 L1694.7 833.9 L1696 832.1 L1697.2 830.8 L1698.4 830 L1699.6 829.3 L1700.9 828.7 L1702.1 828.2 L1703.3 827.7 L1704.6 827.2 L1705.8 826.8 L1707 826.5 L1708.2 826.2 L1709.5 826 L1710.7 825.9 L1711.9 826 L1713.1 826.1 L1714.4 826.5 L1715.6 827.1 L1716.8 827.8 L1718 828.9 L1719.3 830.2 L1720.5 831.7 L1721.7 833.5 L1723 835.5 L1724.2 837.7 L1725.4 840.1 L1726.6 842.6 L1727.9 845.3 L1729.1 848 L1730.3 850.9 L1731.5 853.9 L1732.8 857.1 L1734 860.2 L1735.2 863.3 L1736.4 866.3 L1737.7 869.2 L1738.9 871.9 L1740.1 874.3 L1741.3 876.5 L1742.6 878.4 L1743.8 879.9 L1745 879.8 L1746.3 878.2 L1747.5 875.4 L1748.7 871.8 L1749.9 867.8 L1751.2 863.3 L1752.4 857.7 L1753.6 851.6 L1754.8 845.3 L1756.1 839.3 L1757.3 834.2 L1758.5 830.2 L1759.7 826.7 L1761 823.6 L1762.2 821 L1763.4 819 L1764.7 817.5 L1765.9 816.7 L1767.1 816.5 L1768.3 817.1 L1769.6 818.3 L1770.8 819.9 L1772 821.8 L1773.2 824.1 L1774.5 826.6 L1775.7 829.2 L1776.9 832.3 L1778.1 836 L1779.4 840.1 L1780.6 844.3 L1781.8 848.5 L1783 852.4 L1784.3 855.9 L1785.5 858.7 L1786.7 859.5 L1788 858.2 L1789.2 854.9 L1790.4 849.7 L1791.6 841.8 L1792.9 829.8 L1794.1 815.4 L1795.3 800.4 L1796.5 787 L1797.8 776.9 L1799 769.2 L1800.2 762.7 L1801.4 757.9 L1802.7 754.7 L1803.9 753.6 L1805.1 754.9 L1806.4 758.2 L1807.6 763.3 L1808.8 770.4 L1810 782.4 L1811.3 796.4 L1812.5 808.8 L1813.7 816.1 L1814.9 817.4 L1816.2 817.7 L1817.4 817.5 L1818.6 817.2 L1819.8 817 L1821.1 817.2 L1822.3 818.1 L1823.5 819 L1824.7 820 L1826 821.1 L1827.2 822.5" fill="none" stroke="#d61e1e" stroke-width="2.0" stroke-linejoin="round"/></g><path d="M111.5 13.5H1827.5" stroke="#222222" stroke-width="1.1" fill="none"/><path d="M111.5 13.5V306.5" stroke="#222222" stroke-width="1.1" fill="none"/><path d="M1827.5 13.5V306.5" stroke="#222222" stroke-width="1.1" fill="none"/><path d="M125.5 13.5v16.5M125.5 306.5v-16.5" stroke="#222222" stroke-width="1.1"/><path d="M295.5 13.5v16.5M295.5 306.5v-16.5" stroke="#222222" stroke-width="1.1"/><path d="M465.5 13.5v16.5M465.5 306.5v-16.5" stroke="#222222" stroke-width="1.1"/><path d="M629.5 13.5v16.5M629.5 306.5v-16.5" stroke="#222222" stroke-width="1.1"/><path d="M799.5 13.5v16.5M799.5 306.5v-16.5" stroke="#222222" stroke-width="1.1"/><path d="M969.5 13.5v16.5M969.5 306.5v-16.5" stroke="#222222" stroke-width="1.1"/><path d="M1142.5 13.5v16.5M1142.5 306.5v-16.5" stroke="#222222" stroke-width="1.1"/><path d="M1312.5 13.5v16.5M1312.5 306.5v-16.5" stroke="#222222" stroke-width="1.1"/><path d="M1482.5 13.5v16.5M1482.5 306.5v-16.5" stroke="#222222" stroke-width="1.1"/><path d="M1646.5 13.5v16.5M1646.5 306.5v-16.5" stroke="#222222" stroke-width="1.1"/><path d="M1816.5 13.5v16.5M1816.5 306.5v-16.5" stroke="#222222" stroke-width="1.1"/><path d="M111.5 306.5H1827.5" stroke="#222222" stroke-width="1.1" fill="none"/><path d="M111.5 306.5V599" stroke="#222222" stroke-width="1.1" fill="none"/><path d="M1827.5 306.5V599" stroke="#222222" stroke-width="1.1" fill="none"/><path d="M125.5 306.5v16.5M125.5 599v-16.5" stroke="#222222" stroke-width="1.1"/><path d="M295.5 306.5v16.5M295.5 599v-16.5" stroke="#222222" stroke-width="1.1"/><path d="M465.5 306.5v16.5M465.5 599v-16.5" stroke="#222222" stroke-width="1.1"/><path d="M629.5 306.5v16.5M629.5 599v-16.5" stroke="#222222" stroke-width="1.1"/><path d="M799.5 306.5v16.5M799.5 599v-16.5" stroke="#222222" stroke-width="1.1"/><path d="M969.5 306.5v16.5M969.5 599v-16.5" stroke="#222222" stroke-width="1.1"/><path d="M1142.5 306.5v16.5M1142.5 599v-16.5" stroke="#222222" stroke-width="1.1"/><path d="M1312.5 306.5v16.5M1312.5 599v-16.5" stroke="#222222" stroke-width="1.1"/><path d="M1482.5 306.5v16.5M1482.5 599v-16.5" stroke="#222222" stroke-width="1.1"/><path d="M1646.5 306.5v16.5M1646.5 599v-16.5" stroke="#222222" stroke-width="1.1"/><path d="M1816.5 306.5v16.5M1816.5 599v-16.5" stroke="#222222" stroke-width="1.1"/><path d="M111.5 599H1827.5" stroke="#222222" stroke-width="1.1" fill="none"/><path d="M111.5 599V891.5" stroke="#222222" stroke-width="1.1" fill="none"/><path d="M1827.5 599V891.5" stroke="#dd1c1c" stroke-width="1.1" fill="none"/><path d="M125.5 599v16.5M125.5 891.5v-16.5" stroke="#222222" stroke-width="1.1"/><path d="M295.5 599v16.5M295.5 891.5v-16.5" stroke="#222222" stroke-width="1.1"/><path d="M465.5 599v16.5M465.5 891.5v-16.5" stroke="#222222" stroke-width="1.1"/><path d="M629.5 599v16.5M629.5 891.5v-16.5" stroke="#222222" stroke-width="1.1"/><path d="M799.5 599v16.5M799.5 891.5v-16.5" stroke="#222222" stroke-width="1.1"/><path d="M969.5 599v16.5M969.5 891.5v-16.5" stroke="#222222" stroke-width="1.1"/><path d="M1142.5 599v16.5M1142.5 891.5v-16.5" stroke="#222222" stroke-width="1.1"/><path d="M1312.5 599v16.5M1312.5 891.5v-16.5" stroke="#222222" stroke-width="1.1"/><path d="M1482.5 599v16.5M1482.5 891.5v-16.5" stroke="#222222" stroke-width="1.1"/><path d="M1646.5 599v16.5M1646.5 891.5v-16.5" stroke="#222222" stroke-width="1.1"/><path d="M1816.5 599v16.5M1816.5 891.5v-16.5" stroke="#222222" stroke-width="1.1"/><path d="M111.5 306.5H1827.5" stroke="#111" stroke-width="1.5"/><path d="M111.5 598.9H1827.5" stroke="#111" stroke-width="1.6"/><path d="M111.5 891.5H1827.5" stroke="#222" stroke-width="1.3"/><path d="M111.5 306h16.5" stroke="#222222" stroke-width="1.2"/><text x="103" y="313.8" text-anchor="end" font-family="Liberation Sans, Arial, sans-serif" font-size="19.5" fill="#000">0</text><path d="M111.5 232.8h16.5" stroke="#222222" stroke-width="1.2"/><text x="103" y="240.6" text-anchor="end" font-family="Liberation Sans, Arial, sans-serif" font-size="19.5" fill="#000">1000</text><path d="M111.5 159.5h16.5" stroke="#222222" stroke-width="1.2"/><text x="103" y="167.3" text-anchor="end" font-family="Liberation Sans, Arial, sans-serif" font-size="19.5" fill="#000">2000</text><path d="M111.5 86.2h16.5" stroke="#222222" stroke-width="1.2"/><text x="103" y="94" text-anchor="end" font-family="Liberation Sans, Arial, sans-serif" font-size="19.5" fill="#000">3000</text><path d="M111.5 13h16.5" stroke="#222222" stroke-width="1.2"/><text x="103" y="20.8" text-anchor="end" font-family="Liberation Sans, Arial, sans-serif" font-size="19.5" fill="#000">4000</text><path d="M1827.5 232.8h-16.5" stroke="#222222" stroke-width="1.2"/><path d="M1827.5 159.5h-16.5" stroke="#222222" stroke-width="1.2"/><path d="M1827.5 86.2h-16.5" stroke="#222222" stroke-width="1.2"/><path d="M111.5 364.9h16.5" stroke="#222222" stroke-width="1.2"/><text x="103" y="372.7" text-anchor="end" font-family="Liberation Sans, Arial, sans-serif" font-size="19.5" fill="#333">80%</text><path d="M111.5 423.3h16.5" stroke="#222222" stroke-width="1.2"/><text x="103" y="431.1" text-anchor="end" font-family="Liberation Sans, Arial, sans-serif" font-size="19.5" fill="#333">60%</text><path d="M111.5 481.7h16.5" stroke="#222222" stroke-width="1.2"/><text x="103" y="489.5" text-anchor="end" font-family="Liberation Sans, Arial, sans-serif" font-size="19.5" fill="#333">40%</text><path d="M111.5 540.1h16.5" stroke="#222222" stroke-width="1.2"/><text x="103" y="547.9" text-anchor="end" font-family="Liberation Sans, Arial, sans-serif" font-size="19.5" fill="#333">20%</text><path d="M1827.5 364.9h-16.5" stroke="#222222" stroke-width="1.2"/><path d="M1827.5 423.3h-16.5" stroke="#222222" stroke-width="1.2"/><path d="M1827.5 481.7h-16.5" stroke="#222222" stroke-width="1.2"/><path d="M1827.5 540.1h-16.5" stroke="#222222" stroke-width="1.2"/><path d="M111.5 892h16.5" stroke="#222222" stroke-width="1.2"/><text x="103" y="899.8" text-anchor="end" font-family="Liberation Sans, Arial, sans-serif" font-size="19.5" fill="#000">0</text><path d="M111.5 833.4h16.5" stroke="#222222" stroke-width="1.2"/><text x="103" y="841.2" text-anchor="end" font-family="Liberation Sans, Arial, sans-serif" font-size="19.5" fill="#000">2</text><path d="M111.5 774.8h16.5" stroke="#222222" stroke-width="1.2"/><text x="103" y="782.6" text-anchor="end" font-family="Liberation Sans, Arial, sans-serif" font-size="19.5" fill="#000">4</text><path d="M111.5 716.2h16.5" stroke="#222222" stroke-width="1.2"/><text x="103" y="724" text-anchor="end" font-family="Liberation Sans, Arial, sans-serif" font-size="19.5" fill="#000">6</text><path d="M111.5 657.6h16.5" stroke="#222222" stroke-width="1.2"/><text x="103" y="665.4" text-anchor="end" font-family="Liberation Sans, Arial, sans-serif" font-size="19.5" fill="#000">8</text><path d="M111.5 599h16.5" stroke="#222222" stroke-width="1.2"/><text x="103" y="606.8" text-anchor="end" font-family="Liberation Sans, Arial, sans-serif" font-size="19.5" fill="#000">10</text><text x="1836" y="899" font-family="Liberation Sans, Arial, sans-serif" font-size="19.5" fill="#dd1c1c">0.5</text><path d="M1827.5 833.4h-16.5" stroke="#dd1c1c" stroke-width="1.2"/><text x="1836" y="840.4" font-family="Liberation Sans, Arial, sans-serif" font-size="19.5" fill="#dd1c1c">1</text><path d="M1827.5 774.8h-16.5" stroke="#dd1c1c" stroke-width="1.2"/><text x="1836" y="781.8" font-family="Liberation Sans, Arial, sans-serif" font-size="19.5" fill="#dd1c1c">1.5</text><path d="M1827.5 716.2h-16.5" stroke="#dd1c1c" stroke-width="1.2"/><text x="1836" y="723.2" font-family="Liberation Sans, Arial, sans-serif" font-size="19.5" fill="#dd1c1c">2</text><path d="M1827.5 657.6h-16.5" stroke="#dd1c1c" stroke-width="1.2"/><text x="1836" y="664.6" font-family="Liberation Sans, Arial, sans-serif" font-size="19.5" fill="#dd1c1c">2.5</text><text x="1836" y="606" font-family="Liberation Sans, Arial, sans-serif" font-size="19.5" fill="#dd1c1c">3</text><text x="125.5" y="920" text-anchor="middle" font-family="Liberation Sans, Arial, sans-serif" font-size="19.5" fill="#000">Sep 2020</text><text x="295.5" y="920" text-anchor="middle" font-family="Liberation Sans, Arial, sans-serif" font-size="19.5" fill="#000">Nov 2020</text><text x="465.5" y="920" text-anchor="middle" font-family="Liberation Sans, Arial, sans-serif" font-size="19.5" fill="#000">Jan 2021</text><text x="629.5" y="920" text-anchor="middle" font-family="Liberation Sans, Arial, sans-serif" font-size="19.5" fill="#000">Mar 2021</text><text x="799.5" y="920" text-anchor="middle" font-family="Liberation Sans, Arial, sans-serif" font-size="19.5" fill="#000">May 2021</text><text x="969.5" y="920" text-anchor="middle" font-family="Liberation Sans, Arial, sans-serif" font-size="19.5" fill="#000">Jul 2021</text><text x="1142.5" y="920" text-anchor="middle" font-family="Liberation Sans, Arial, sans-serif" font-size="19.5" fill="#000">Sep 2021</text><text x="1312.5" y="920" text-anchor="middle" font-family="Liberation Sans, Arial, sans-serif" font-size="19.5" fill="#000">Nov 2021</text><text x="1482.5" y="920" text-anchor="middle" font-family="Liberation Sans, Arial, sans-serif" font-size="19.5" fill="#000">Jan 2022</text><text x="1646.5" y="920" text-anchor="middle" font-family="Liberation Sans, Arial, sans-serif" font-size="19.5" fill="#000">Mar 2022</text><text x="1816.5" y="920" text-anchor="middle" font-family="Liberation Sans, Arial, sans-serif" font-size="19.5" fill="#000">May 2022</text><text transform="translate(48.5,160) rotate(-90)" text-anchor="middle" font-family="Liberation Sans, Arial, sans-serif" font-size="22.9" fill="#000">Weekly sample sequencing</text><text transform="translate(24,452.5) rotate(-90)" text-anchor="middle" font-family="Liberation Sans, Arial, sans-serif" font-size="22.9" fill="#000">Percentage and</text><text transform="translate(51,452.5) rotate(-90)" text-anchor="middle" font-family="Liberation Sans, Arial, sans-serif" font-size="22.9" fill="#000">Substitution Processes</text><text transform="translate(69,746) rotate(-90)" text-anchor="middle" font-family="Liberation Sans, Arial, sans-serif" font-size="22.9" fill="#000">Weekly cases [x10<tspan dy="-10" font-size="16.5">5</tspan><tspan dy="10">]</tspan></text><text transform="translate(1891,743.5) rotate(-90)" text-anchor="middle" font-family="Liberation Sans, Arial, sans-serif" font-size="22.9" fill="#dd1c1c">Effective reproduction number</text><rect x="491.6" y="612.7" width="954.7" height="28.9" fill="#fff" stroke="#222" stroke-width="1"/><rect x="496.2" y="617.4" width="50" height="19.4" fill="#ee1b30" stroke="#222" stroke-width="1"/><text x="550" y="635.5" font-family="Liberation Sans, Arial, sans-serif" font-size="19.5" fill="#000">pre-Alpha</text><rect x="644.9" y="617.4" width="49.4" height="19.4" fill="#3f8fd2" stroke="#222" stroke-width="1"/><text x="698.1" y="635.5" font-family="Liberation Sans, Arial, sans-serif" font-size="19.5" fill="#000">Alpha</text><rect x="759.5" y="617.4" width="49.5" height="19.4" fill="#e5845a" stroke="#222" stroke-width="1"/><text x="812.8" y="635.5" font-family="Liberation Sans, Arial, sans-serif" font-size="19.5" fill="#000">Delta</text><rect x="869" y="617.4" width="49.7" height="19.4" fill="#fcc8d0" stroke="#222" stroke-width="1"/><text x="922.5" y="635.5" font-family="Liberation Sans, Arial, sans-serif" font-size="19.5" fill="#000">Gamma</text><rect x="1003.8" y="617.4" width="49.5" height="19.4" fill="#7070e8" stroke="#222" stroke-width="1"/><text x="1057.1" y="635.5" font-family="Liberation Sans, Arial, sans-serif" font-size="19.5" fill="#000">Beta</text><rect x="1107.3" y="617.4" width="49.7" height="19.4" fill="#a8d4a8" stroke="#222" stroke-width="1"/><text x="1160.8" y="635.5" font-family="Liberation Sans, Arial, sans-serif" font-size="19.5" fill="#000">Omicron</text><rect x="1245.9" y="617.4" width="49.5" height="19.4" fill="#f0b434" stroke="#222" stroke-width="1"/><text x="1299.2" y="635.5" font-family="Liberation Sans, Arial, sans-serif" font-size="19.5" fill="#000">Others</text><path d="M1369.6 626.9H1418.5" stroke="#e02828" stroke-width="2"/><text x="1423" y="635.5" font-family="Liberation Sans, Arial, sans-serif" font-size="19.5" fill="#000">Rt</text></svg></body></html>
